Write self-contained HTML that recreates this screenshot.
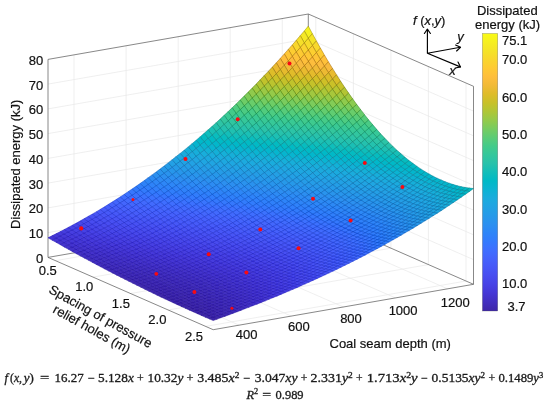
<!DOCTYPE html>
<html lang="en"><head><meta charset="utf-8"><title>Dissipated energy surface fit</title><style>html,body{margin:0;padding:0;background:#fff}svg{display:block}</style></head><body>
<svg width="550" height="403" viewBox="0 0 550 403">
<rect width="550" height="403" fill="#fff"/>
<defs><linearGradient id="cb" x1="0" y1="0" x2="0" y2="1"><stop offset="0" stop-color="#f9fb15"/><stop offset="0.03125" stop-color="#f6ef20"/><stop offset="0.0625" stop-color="#f5e327"/><stop offset="0.09375" stop-color="#f9d62d"/><stop offset="0.125" stop-color="#feca33"/><stop offset="0.1562" stop-color="#febe3c"/><stop offset="0.1875" stop-color="#f1ba37"/><stop offset="0.2188" stop-color="#debc29"/><stop offset="0.25" stop-color="#c8c129"/><stop offset="0.2812" stop-color="#afc636"/><stop offset="0.3125" stop-color="#94ca4a"/><stop offset="0.3438" stop-color="#77cc60"/><stop offset="0.375" stop-color="#5ccc76"/><stop offset="0.4062" stop-color="#43cb8a"/><stop offset="0.4375" stop-color="#34c79c"/><stop offset="0.4688" stop-color="#28c2ab"/><stop offset="0.5" stop-color="#12beb9"/><stop offset="0.5312" stop-color="#00b9c6"/><stop offset="0.5625" stop-color="#0cb3d3"/><stop offset="0.5938" stop-color="#1aacdd"/><stop offset="0.625" stop-color="#21a3e3"/><stop offset="0.6562" stop-color="#269ae9"/><stop offset="0.6875" stop-color="#2c90f0"/><stop offset="0.7188" stop-color="#2e85f8"/><stop offset="0.75" stop-color="#347afd"/><stop offset="0.7812" stop-color="#3f6eff"/><stop offset="0.8125" stop-color="#4562fc"/><stop offset="0.8438" stop-color="#4757f7"/><stop offset="0.875" stop-color="#484cef"/><stop offset="0.9062" stop-color="#4741e5"/><stop offset="0.9375" stop-color="#4536d5"/><stop offset="0.9688" stop-color="#422ebf"/><stop offset="1" stop-color="#3e26a8"/></linearGradient></defs>
<path d="M74,252.9L239.2,325.2M74,252.9L74,54.9M126.1,243.8L291.3,316.1M126.1,243.8L126.1,45.8M178.2,234.7L343.4,307M178.2,234.7L178.2,36.7M230.2,225.6L395.4,297.9M230.2,225.6L230.2,27.6M282.3,216.5L447.5,288.8M282.3,216.5L282.3,18.5M55.5,260.7L315.8,215.3M315.8,215.3L315.8,17.3M93.1,277.1L353.4,231.7M353.4,231.7L353.4,33.7M130.6,293.5L390.9,248.2M390.9,248.2L390.9,50.2M168.1,310L428.4,264.6M428.4,264.6L428.4,66.6M205.7,326.4L466,281M466,281L466,83M48,232.6L308.3,187.3M308.3,187.3L473.5,259.6M48,207.9L308.3,162.5M308.3,162.5L473.5,234.8M48,183.1L308.3,137.8M308.3,137.8L473.5,210.1M48,158.4L308.3,113M308.3,113L473.5,185.3M48,133.6L308.3,88.3M308.3,88.3L473.5,160.6M48,108.9L308.3,63.5M308.3,63.5L473.5,135.8M48,84.1L308.3,38.8M308.3,38.8L473.5,111.1" fill="none" stroke="#e8e8e8" stroke-width="0.7"/>
<path d="M48,59.4L48,257.4L213.2,329.7L473.5,284.3L473.5,86.3L308.3,14ZM48,257.4L308.3,212M308.3,212L473.5,284.3M308.3,212L308.3,14" fill="none" stroke="#606060" stroke-width="0.75" stroke-linejoin="round"/>
<g stroke-width="0.5" stroke-linejoin="round"><path d="M304.3,30.9L308.3,38.3L312.3,33.6L308.3,26.1Z" fill="#f6f11f" stroke="#948e00"/><path d="M308.3,38.3L312.4,45.5L316.4,40.9L312.3,33.6Z" fill="#f5e426" stroke="#968500"/><path d="M312.4,45.5L316.4,52.5L320.4,48.1L316.4,40.9Z" fill="#f8d82c" stroke="#9c7b00"/><path d="M316.4,52.5L320.4,59.4L324.4,55L320.4,48.1Z" fill="#fdcc32" stroke="#a37200"/><path d="M320.4,59.4L324.4,66.1L328.4,61.8L324.4,55Z" fill="#fec13a" stroke="#a66900"/><path d="M324.4,66.1L328.5,72.6L332.5,68.4L328.4,61.8Z" fill="#f7ba3d" stroke="#a26400"/><path d="M328.5,72.6L332.5,79L336.5,74.8L332.5,68.4Z" fill="#e9bb2f" stroke="#966800"/><path d="M332.5,79L336.5,85.2L340.5,81.1L336.5,74.8Z" fill="#d8be28" stroke="#876c00"/><path d="M336.5,85.2L340.6,91.2L344.6,87.2L340.5,81.1Z" fill="#c6c22a" stroke="#767200"/><path d="M340.6,91.2L344.6,97L348.6,93.1L344.6,87.2Z" fill="#b3c534" stroke="#647600"/><path d="M344.6,97L348.6,102.7L352.6,98.8L348.6,93.1Z" fill="#9fc941" stroke="#527b00"/><path d="M348.6,102.7L352.6,108.1L356.7,104.4L352.6,98.8Z" fill="#8ccb50" stroke="#3f7e04"/><path d="M352.6,108.1L356.7,113.4L360.7,109.7L356.7,104.4Z" fill="#79cc5f" stroke="#2e8114"/><path d="M356.7,113.4L360.7,118.6L364.7,114.9L360.7,109.7Z" fill="#67cd6c" stroke="#1d8323"/><path d="M360.7,118.6L364.7,123.5L368.7,120L364.7,114.9Z" fill="#57cc7a" stroke="#0f8432"/><path d="M364.7,123.5L368.8,128.3L372.8,124.8L368.7,120Z" fill="#49cb85" stroke="#03853f"/><path d="M368.8,128.3L372.8,132.9L376.8,129.5L372.8,124.8Z" fill="#3eca8f" stroke="#00854a"/><path d="M372.8,132.9L376.8,137.4L380.8,134L376.8,129.5Z" fill="#36c898" stroke="#008454"/><path d="M376.8,137.4L380.9,141.6L384.9,138.3L380.8,134Z" fill="#31c6a0" stroke="#00835d"/><path d="M380.9,141.6L384.9,145.7L388.9,142.4L384.9,138.3Z" fill="#2cc4a7" stroke="#008264"/><path d="M384.9,145.7L388.9,149.6L392.9,146.4L388.9,142.4Z" fill="#26c2ad" stroke="#00816b"/><path d="M388.9,149.6L392.9,153.4L396.9,150.2L392.9,146.4Z" fill="#1fc0b2" stroke="#008072"/><path d="M392.9,153.4L397,156.9L401,153.8L396.9,150.2Z" fill="#16bfb7" stroke="#008078"/><path d="M397,156.9L401,160.3L405,157.2L401,153.8Z" fill="#0ebdbb" stroke="#00807d"/><path d="M401,160.3L405,163.6L409,160.5L405,157.2Z" fill="#07bcbf" stroke="#008082"/><path d="M405,163.6L409.1,166.6L413.1,163.5L409,160.5Z" fill="#03bbc2" stroke="#007f87"/><path d="M409.1,166.6L413.1,169.5L417.1,166.4L413.1,163.5Z" fill="#01bac5" stroke="#007e8a"/><path d="M413.1,169.5L417.1,172.2L421.1,169.2L417.1,166.4Z" fill="#00b9c7" stroke="#007e8c"/><path d="M417.1,172.2L421.1,174.7L425.1,171.7L421.1,169.2Z" fill="#01b8c9" stroke="#007d8e"/><path d="M421.1,174.7L425.2,177L429.2,174.1L425.1,171.7Z" fill="#02b7cb" stroke="#007c90"/><path d="M425.2,177L429.2,179.2L433.2,176.3L429.2,174.1Z" fill="#02b7cc" stroke="#007c91"/><path d="M429.2,179.2L433.2,181.2L437.2,178.3L433.2,176.3Z" fill="#03b6cd" stroke="#007b92"/><path d="M433.2,181.2L437.3,183L441.3,180.1L437.2,178.3Z" fill="#04b6cd" stroke="#007b92"/><path d="M437.3,183L441.3,184.7L445.3,181.8L441.3,180.1Z" fill="#04b6cd" stroke="#007b92"/><path d="M441.3,184.7L445.3,186.2L449.3,183.3L445.3,181.8Z" fill="#03b6cd" stroke="#007b92"/><path d="M445.3,186.2L449.3,187.5L453.4,184.6L449.3,183.3Z" fill="#02b7cc" stroke="#007c91"/><path d="M449.3,187.5L453.4,188.6L457.4,185.8L453.4,184.6Z" fill="#01b7cb" stroke="#007c90"/><path d="M453.4,188.6L457.4,189.6L461.4,186.7L457.4,185.8Z" fill="#01b8c9" stroke="#007d8e"/><path d="M457.4,189.6L461.4,190.3L465.4,187.5L461.4,186.7Z" fill="#00b9c7" stroke="#007e8c"/><path d="M461.4,190.3L465.5,190.9L469.5,188.1L465.4,187.5Z" fill="#01bac5" stroke="#007f89"/><path d="M465.5,190.9L469.5,191.4L473.5,188.5L469.5,188.1Z" fill="#03bbc2" stroke="#007f86"/><path d="M300.3,35.6L304.3,42.9L308.3,38.3L304.3,30.9Z" fill="#f5e825" stroke="#958800"/><path d="M304.3,42.9L308.3,50L312.4,45.5L308.3,38.3Z" fill="#f7dc2a" stroke="#9a7e00"/><path d="M308.3,50L312.4,57L316.4,52.5L312.4,45.5Z" fill="#fccf30" stroke="#a17400"/><path d="M312.4,57L316.4,63.8L320.4,59.4L316.4,52.5Z" fill="#fec437" stroke="#a56b00"/><path d="M316.4,63.8L320.4,70.4L324.4,66.1L320.4,59.4Z" fill="#fbbb3e" stroke="#a56500"/><path d="M320.4,70.4L324.5,76.8L328.5,72.6L324.4,66.1Z" fill="#edba32" stroke="#996700"/><path d="M324.5,76.8L328.5,83.1L332.5,79L328.5,72.6Z" fill="#dcbd29" stroke="#8b6b00"/><path d="M328.5,83.1L332.5,89.2L336.5,85.2L332.5,79Z" fill="#cac128" stroke="#7a7000"/><path d="M332.5,89.2L336.6,95.1L340.6,91.2L336.5,85.2Z" fill="#b7c532" stroke="#687500"/><path d="M336.6,95.1L340.6,100.9L344.6,97L340.6,91.2Z" fill="#a3c83e" stroke="#557a00"/><path d="M340.6,100.9L344.6,106.4L348.6,102.7L344.6,97Z" fill="#8fcb4d" stroke="#437e01"/><path d="M344.6,106.4L348.6,111.9L352.6,108.1L348.6,102.7Z" fill="#7ccc5c" stroke="#308111"/><path d="M348.6,111.9L352.7,117.1L356.7,113.4L352.6,108.1Z" fill="#69cd6b" stroke="#1f8321"/><path d="M352.7,117.1L356.7,122.2L360.7,118.6L356.7,113.4Z" fill="#59cc78" stroke="#118430"/><path d="M356.7,122.2L360.7,127.1L364.7,123.5L360.7,118.6Z" fill="#4acb84" stroke="#04853e"/><path d="M360.7,127.1L364.8,131.8L368.8,128.3L364.7,123.5Z" fill="#3eca8f" stroke="#00854a"/><path d="M364.8,131.8L368.8,136.3L372.8,132.9L368.8,128.3Z" fill="#36c898" stroke="#008454"/><path d="M368.8,136.3L372.8,140.7L376.8,137.4L372.8,132.9Z" fill="#31c6a0" stroke="#00835d"/><path d="M372.8,140.7L376.8,144.9L380.9,141.6L376.8,137.4Z" fill="#2cc4a7" stroke="#008165"/><path d="M376.8,144.9L380.9,149L384.9,145.7L380.9,141.6Z" fill="#25c2ad" stroke="#00816c"/><path d="M380.9,149L384.9,152.8L388.9,149.6L384.9,145.7Z" fill="#1dc0b3" stroke="#008073"/><path d="M384.9,152.8L388.9,156.5L392.9,153.4L388.9,149.6Z" fill="#14beb8" stroke="#00807a"/><path d="M388.9,156.5L393,160.1L397,156.9L392.9,153.4Z" fill="#0abdbd" stroke="#008080"/><path d="M393,160.1L397,163.4L401,160.3L397,156.9Z" fill="#04bbc1" stroke="#007f85"/><path d="M397,163.4L401,166.6L405,163.6L401,160.3Z" fill="#01bac5" stroke="#007f89"/><path d="M401,166.6L405.1,169.6L409.1,166.6L405,163.6Z" fill="#00b9c8" stroke="#007e8d"/><path d="M405.1,169.6L409.1,172.5L413.1,169.5L409.1,166.6Z" fill="#01b7ca" stroke="#007c8f"/><path d="M409.1,172.5L413.1,175.1L417.1,172.2L413.1,169.5Z" fill="#03b6cd" stroke="#007b92"/><path d="M413.1,175.1L417.1,177.6L421.1,174.7L417.1,172.2Z" fill="#05b5cf" stroke="#007a93"/><path d="M417.1,177.6L421.2,179.9L425.2,177L421.1,174.7Z" fill="#07b5d0" stroke="#007995"/><path d="M421.2,179.9L425.2,182.1L429.2,179.2L425.2,177Z" fill="#09b4d1" stroke="#007996"/><path d="M425.2,182.1L429.2,184.1L433.2,181.2L429.2,179.2Z" fill="#0ab4d2" stroke="#007896"/><path d="M429.2,184.1L433.3,185.9L437.3,183L433.2,181.2Z" fill="#0bb4d2" stroke="#007896"/><path d="M433.3,185.9L437.3,187.5L441.3,184.7L437.3,183Z" fill="#0bb4d2" stroke="#007896"/><path d="M437.3,187.5L441.3,189L445.3,186.2L441.3,184.7Z" fill="#0ab4d2" stroke="#007896"/><path d="M441.3,189L445.3,190.3L449.3,187.5L445.3,186.2Z" fill="#09b4d1" stroke="#007995"/><path d="M445.3,190.3L449.4,191.4L453.4,188.6L449.3,187.5Z" fill="#07b5d0" stroke="#007a94"/><path d="M449.4,191.4L453.4,192.4L457.4,189.6L453.4,188.6Z" fill="#04b6ce" stroke="#007b93"/><path d="M453.4,192.4L457.4,193.1L461.4,190.3L457.4,189.6Z" fill="#02b7cc" stroke="#007c91"/><path d="M457.4,193.1L461.5,193.7L465.5,190.9L461.4,190.3Z" fill="#01b8ca" stroke="#007d8f"/><path d="M461.5,193.7L465.5,194.2L469.5,191.4L465.5,190.9Z" fill="#00b9c7" stroke="#007e8c"/><path d="M296.3,40.3L300.3,47.5L304.3,42.9L300.3,35.6Z" fill="#f6df29" stroke="#988100"/><path d="M300.3,47.5L304.3,54.5L308.3,50L304.3,42.9Z" fill="#fbd32f" stroke="#9f7700"/><path d="M304.3,54.5L308.4,61.4L312.4,57L308.3,50Z" fill="#fec735" stroke="#a46e00"/><path d="M308.4,61.4L312.4,68.1L316.4,63.8L312.4,57Z" fill="#fdbd3d" stroke="#a66600"/><path d="M312.4,68.1L316.4,74.6L320.4,70.4L316.4,63.8Z" fill="#f0ba36" stroke="#9c6600"/><path d="M316.4,74.6L320.5,80.9L324.5,76.8L320.4,70.4Z" fill="#e1bc2a" stroke="#8f6a00"/><path d="M320.5,80.9L324.5,87.1L328.5,83.1L324.5,76.8Z" fill="#cfc027" stroke="#7e6f00"/><path d="M324.5,87.1L328.5,93.1L332.5,89.2L328.5,83.1Z" fill="#bcc42f" stroke="#6c7400"/><path d="M328.5,93.1L332.5,99L336.6,95.1L332.5,89.2Z" fill="#a8c73b" stroke="#597900"/><path d="M332.5,99L336.6,104.7L340.6,100.9L336.6,95.1Z" fill="#93ca4a" stroke="#467d00"/><path d="M336.6,104.7L340.6,110.2L344.6,106.4L340.6,100.9Z" fill="#7fcc5a" stroke="#34800e"/><path d="M340.6,110.2L344.6,115.5L348.6,111.9L344.6,106.4Z" fill="#6ccd68" stroke="#22831e"/><path d="M344.6,115.5L348.7,120.7L352.7,117.1L348.6,111.9Z" fill="#5bcc76" stroke="#13842e"/><path d="M348.7,120.7L352.7,125.7L356.7,122.2L352.7,117.1Z" fill="#4ccb83" stroke="#05853c"/><path d="M352.7,125.7L356.7,130.5L360.7,127.1L356.7,122.2Z" fill="#3fca8e" stroke="#008549"/><path d="M356.7,130.5L360.8,135.2L364.8,131.8L360.7,127.1Z" fill="#37c898" stroke="#008454"/><path d="M360.8,135.2L364.8,139.7L368.8,136.3L364.8,131.8Z" fill="#31c6a0" stroke="#00835d"/><path d="M364.8,139.7L368.8,144L372.8,140.7L368.8,136.3Z" fill="#2bc3a7" stroke="#008165"/><path d="M368.8,144L372.8,148.2L376.8,144.9L372.8,140.7Z" fill="#24c2ae" stroke="#00816d"/><path d="M372.8,148.2L376.9,152.2L380.9,149L376.8,144.9Z" fill="#1bc0b4" stroke="#008074"/><path d="M376.9,152.2L380.9,156L384.9,152.8L380.9,149Z" fill="#11beb9" stroke="#00807b"/><path d="M380.9,156L384.9,159.7L388.9,156.5L384.9,152.8Z" fill="#08bcbe" stroke="#008082"/><path d="M384.9,159.7L389,163.2L393,160.1L388.9,156.5Z" fill="#02bbc3" stroke="#007f87"/><path d="M389,163.2L393,166.5L397,163.4L393,160.1Z" fill="#00b9c7" stroke="#007e8c"/><path d="M393,166.5L397,169.6L401,166.6L397,163.4Z" fill="#01b8ca" stroke="#007d8f"/><path d="M397,169.6L401,172.6L405.1,169.6L401,166.6Z" fill="#03b6cd" stroke="#007b92"/><path d="M401,172.6L405.1,175.4L409.1,172.5L405.1,169.6Z" fill="#07b5d0" stroke="#007a94"/><path d="M405.1,175.4L409.1,178L413.1,175.1L409.1,172.5Z" fill="#0ab4d2" stroke="#007896"/><path d="M409.1,178L413.1,180.5L417.1,177.6L413.1,175.1Z" fill="#0db3d3" stroke="#007798"/><path d="M413.1,180.5L417.2,182.8L421.2,179.9L417.1,177.6Z" fill="#0fb2d5" stroke="#007699"/><path d="M417.2,182.8L421.2,184.9L425.2,182.1L421.2,179.9Z" fill="#11b1d6" stroke="#00759a"/><path d="M421.2,184.9L425.2,186.9L429.2,184.1L425.2,182.1Z" fill="#12b1d6" stroke="#00759a"/><path d="M425.2,186.9L429.3,188.7L433.3,185.9L429.2,184.1Z" fill="#12b1d6" stroke="#00759a"/><path d="M429.3,188.7L433.3,190.3L437.3,187.5L433.3,185.9Z" fill="#12b1d6" stroke="#00759a"/><path d="M433.3,190.3L437.3,191.8L441.3,189L437.3,187.5Z" fill="#11b1d6" stroke="#00759a"/><path d="M437.3,191.8L441.3,193.1L445.3,190.3L441.3,189Z" fill="#10b2d5" stroke="#007699"/><path d="M441.3,193.1L445.4,194.2L449.4,191.4L445.3,190.3Z" fill="#0eb2d4" stroke="#007698"/><path d="M445.4,194.2L449.4,195.1L453.4,192.4L449.4,191.4Z" fill="#0cb3d3" stroke="#007897"/><path d="M449.4,195.1L453.4,195.9L457.4,193.1L453.4,192.4Z" fill="#08b4d1" stroke="#007995"/><path d="M453.4,195.9L457.5,196.5L461.5,193.7L457.4,193.1Z" fill="#05b6ce" stroke="#007a93"/><path d="M457.5,196.5L461.5,197L465.5,194.2L461.5,193.7Z" fill="#02b7cb" stroke="#007c90"/><path d="M292.3,44.9L296.3,52L300.3,47.5L296.3,40.3Z" fill="#f9d62d" stroke="#9d7a00"/><path d="M296.3,52L300.3,58.9L304.3,54.5L300.3,47.5Z" fill="#feca33" stroke="#a37000"/><path d="M300.3,58.9L304.4,65.7L308.4,61.4L304.3,54.5Z" fill="#febf3b" stroke="#a66800"/><path d="M304.4,65.7L308.4,72.3L312.4,68.1L308.4,61.4Z" fill="#f4ba3a" stroke="#9f6500"/><path d="M308.4,72.3L312.4,78.7L316.4,74.6L312.4,68.1Z" fill="#e5bb2c" stroke="#926900"/><path d="M312.4,78.7L316.5,85L320.5,80.9L316.4,74.6Z" fill="#d3bf27" stroke="#826e00"/><path d="M316.5,85L320.5,91.1L324.5,87.1L320.5,80.9Z" fill="#c0c32c" stroke="#717300"/><path d="M320.5,91.1L324.5,97.1L328.5,93.1L324.5,87.1Z" fill="#acc738" stroke="#5e7800"/><path d="M324.5,97.1L328.5,102.8L332.5,99L328.5,93.1Z" fill="#98ca47" stroke="#4a7c00"/><path d="M328.5,102.8L332.6,108.4L336.6,104.7L332.5,99Z" fill="#83cc57" stroke="#37800b"/><path d="M332.6,108.4L336.6,113.9L340.6,110.2L336.6,104.7Z" fill="#6fcd66" stroke="#25821b"/><path d="M336.6,113.9L340.6,119.2L344.6,115.5L340.6,110.2Z" fill="#5ecd74" stroke="#15842c"/><path d="M340.6,119.2L344.7,124.3L348.7,120.7L344.6,115.5Z" fill="#4ecc81" stroke="#07853b"/><path d="M344.7,124.3L348.7,129.2L352.7,125.7L348.7,120.7Z" fill="#40ca8d" stroke="#008548"/><path d="M348.7,129.2L352.7,134L356.7,130.5L352.7,125.7Z" fill="#37c897" stroke="#008453"/><path d="M352.7,134L356.7,138.6L360.8,135.2L356.7,130.5Z" fill="#31c6a0" stroke="#00835d"/><path d="M356.7,138.6L360.8,143L364.8,139.7L360.8,135.2Z" fill="#2bc3a7" stroke="#008165"/><path d="M360.8,143L364.8,147.3L368.8,144L364.8,139.7Z" fill="#24c1ae" stroke="#00816d"/><path d="M364.8,147.3L368.8,151.4L372.8,148.2L368.8,144Z" fill="#1ac0b5" stroke="#008075"/><path d="M368.8,151.4L372.9,155.4L376.9,152.2L372.8,148.2Z" fill="#10beba" stroke="#00807d"/><path d="M372.9,155.4L376.9,159.1L380.9,156L376.9,152.2Z" fill="#06bcbf" stroke="#008083"/><path d="M376.9,159.1L380.9,162.8L384.9,159.7L380.9,156Z" fill="#01bac4" stroke="#007f89"/><path d="M380.9,162.8L385,166.2L389,163.2L384.9,159.7Z" fill="#00b8c8" stroke="#007d8d"/><path d="M385,166.2L389,169.5L393,166.5L389,163.2Z" fill="#02b7cc" stroke="#007c91"/><path d="M389,169.5L393,172.6L397,169.6L393,166.5Z" fill="#06b5cf" stroke="#007a94"/><path d="M393,172.6L397,175.5L401,172.6L397,169.6Z" fill="#0bb4d2" stroke="#007896"/><path d="M397,175.5L401.1,178.3L405.1,175.4L401,172.6Z" fill="#0fb2d4" stroke="#007698"/><path d="M401.1,178.3L405.1,180.9L409.1,178L405.1,175.4Z" fill="#12b1d6" stroke="#00759a"/><path d="M405.1,180.9L409.1,183.4L413.1,180.5L409.1,178Z" fill="#14b0d8" stroke="#00749c"/><path d="M409.1,183.4L413.2,185.6L417.2,182.8L413.1,180.5Z" fill="#16afd9" stroke="#00739d"/><path d="M413.2,185.6L417.2,187.8L421.2,184.9L417.2,182.8Z" fill="#17afda" stroke="#00729d"/><path d="M417.2,187.8L421.2,189.7L425.2,186.9L421.2,184.9Z" fill="#17aeda" stroke="#00729e"/><path d="M421.2,189.7L425.2,191.5L429.3,188.7L425.2,186.9Z" fill="#17aeda" stroke="#00729e"/><path d="M425.2,191.5L429.3,193.1L433.3,190.3L429.3,188.7Z" fill="#17aeda" stroke="#00729e"/><path d="M429.3,193.1L433.3,194.5L437.3,191.8L433.3,190.3Z" fill="#17aeda" stroke="#00729e"/><path d="M433.3,194.5L437.3,195.8L441.3,193.1L437.3,191.8Z" fill="#16afd9" stroke="#00739d"/><path d="M437.3,195.8L441.4,196.9L445.4,194.2L441.3,193.1Z" fill="#15b0d8" stroke="#00739c"/><path d="M441.4,196.9L445.4,197.9L449.4,195.1L445.4,194.2Z" fill="#13b1d7" stroke="#00759b"/><path d="M445.4,197.9L449.4,198.6L453.4,195.9L449.4,195.1Z" fill="#10b2d5" stroke="#007699"/><path d="M449.4,198.6L453.5,199.3L457.5,196.5L453.4,195.9Z" fill="#0cb3d3" stroke="#007797"/><path d="M453.5,199.3L457.5,199.7L461.5,197L457.5,196.5Z" fill="#07b5d0" stroke="#007995"/><path d="M288.3,49.4L292.3,56.4L296.3,52L292.3,44.9Z" fill="#fdcd31" stroke="#a27300"/><path d="M292.3,56.4L296.3,63.3L300.3,58.9L296.3,52Z" fill="#fec239" stroke="#a66a00"/><path d="M296.3,63.3L300.4,70L304.4,65.7L300.3,58.9Z" fill="#f8ba3d" stroke="#a36400"/><path d="M300.4,70L304.4,76.5L308.4,72.3L304.4,65.7Z" fill="#e9bb2f" stroke="#966700"/><path d="M304.4,76.5L308.4,82.8L312.4,78.7L308.4,72.3Z" fill="#d8be28" stroke="#876d00"/><path d="M308.4,82.8L312.5,89L316.5,85L312.4,78.7Z" fill="#c5c22a" stroke="#757200"/><path d="M312.5,89L316.5,95.1L320.5,91.1L316.5,85Z" fill="#b1c635" stroke="#627700"/><path d="M316.5,95.1L320.5,100.9L324.5,97.1L320.5,91.1Z" fill="#9cc944" stroke="#4f7b00"/><path d="M320.5,100.9L324.5,106.6L328.5,102.8L324.5,97.1Z" fill="#87cb54" stroke="#3b7f07"/><path d="M324.5,106.6L328.6,112.2L332.6,108.4L328.5,102.8Z" fill="#73cd63" stroke="#288218"/><path d="M328.6,112.2L332.6,117.5L336.6,113.9L332.6,108.4Z" fill="#60cd72" stroke="#188429"/><path d="M332.6,117.5L336.6,122.7L340.6,119.2L336.6,113.9Z" fill="#50cc7f" stroke="#098538"/><path d="M336.6,122.7L340.7,127.8L344.7,124.3L340.6,119.2Z" fill="#42ca8b" stroke="#008546"/><path d="M340.7,127.8L344.7,132.7L348.7,129.2L344.7,124.3Z" fill="#38c896" stroke="#008452"/><path d="M344.7,132.7L348.7,137.4L352.7,134L348.7,129.2Z" fill="#32c69f" stroke="#00835c"/><path d="M348.7,137.4L352.7,141.9L356.7,138.6L352.7,134Z" fill="#2cc4a7" stroke="#008165"/><path d="M352.7,141.9L356.8,146.3L360.8,143L356.7,138.6Z" fill="#24c1ae" stroke="#00816d"/><path d="M356.8,146.3L360.8,150.5L364.8,147.3L360.8,143Z" fill="#1abfb5" stroke="#008076"/><path d="M360.8,150.5L364.8,154.6L368.8,151.4L364.8,147.3Z" fill="#0ebebb" stroke="#00807d"/><path d="M364.8,154.6L368.9,158.5L372.9,155.4L368.8,151.4Z" fill="#05bcc0" stroke="#008084"/><path d="M368.9,158.5L372.9,162.2L376.9,159.1L372.9,155.4Z" fill="#01bac5" stroke="#007e8a"/><path d="M372.9,162.2L376.9,165.8L380.9,162.8L376.9,159.1Z" fill="#01b8ca" stroke="#007d8f"/><path d="M376.9,165.8L381,169.2L385,166.2L380.9,162.8Z" fill="#04b6ce" stroke="#007b93"/><path d="M381,169.2L385,172.4L389,169.5L385,166.2Z" fill="#09b4d1" stroke="#007996"/><path d="M385,172.4L389,175.5L393,172.6L389,169.5Z" fill="#0eb2d4" stroke="#007698"/><path d="M389,175.5L393,178.4L397,175.5L393,172.6Z" fill="#12b1d7" stroke="#00759a"/><path d="M393,178.4L397.1,181.2L401.1,178.3L397,175.5Z" fill="#15afd9" stroke="#00739c"/><path d="M397.1,181.2L401.1,183.8L405.1,180.9L401.1,178.3Z" fill="#17aeda" stroke="#00729e"/><path d="M401.1,183.8L405.1,186.2L409.1,183.4L405.1,180.9Z" fill="#19addc" stroke="#00719f"/><path d="M405.1,186.2L409.2,188.4L413.2,185.6L409.1,183.4Z" fill="#1aacdd" stroke="#0070a0"/><path d="M409.2,188.4L413.2,190.5L417.2,187.8L413.2,185.6Z" fill="#1aacdd" stroke="#006fa1"/><path d="M413.2,190.5L417.2,192.5L421.2,189.7L417.2,187.8Z" fill="#1babde" stroke="#006fa1"/><path d="M417.2,192.5L421.2,194.2L425.2,191.5L421.2,189.7Z" fill="#1babde" stroke="#006fa2"/><path d="M421.2,194.2L425.3,195.8L429.3,193.1L425.2,191.5Z" fill="#1babde" stroke="#006fa2"/><path d="M425.3,195.8L429.3,197.3L433.3,194.5L429.3,193.1Z" fill="#1aacdd" stroke="#006fa1"/><path d="M429.3,197.3L433.3,198.5L437.3,195.8L433.3,194.5Z" fill="#1aacdd" stroke="#0070a0"/><path d="M433.3,198.5L437.4,199.6L441.4,196.9L437.3,195.8Z" fill="#19addc" stroke="#00719f"/><path d="M437.4,199.6L441.4,200.6L445.4,197.9L441.4,196.9Z" fill="#17aeda" stroke="#00729e"/><path d="M441.4,200.6L445.4,201.4L449.4,198.6L445.4,197.9Z" fill="#16afd9" stroke="#00739d"/><path d="M445.4,201.4L449.4,202L453.5,199.3L449.4,198.6Z" fill="#13b1d7" stroke="#00749b"/><path d="M449.4,202L453.5,202.4L457.5,199.7L453.5,199.3Z" fill="#0fb2d4" stroke="#007698"/><path d="M284.3,53.9L288.3,60.8L292.3,56.4L288.3,49.4Z" fill="#fec537" stroke="#a56c00"/><path d="M288.3,60.8L292.3,67.6L296.3,63.3L292.3,56.4Z" fill="#fcbb3e" stroke="#a56500"/><path d="M292.3,67.6L296.4,74.2L300.4,70L296.3,63.3Z" fill="#edba33" stroke="#9a6600"/><path d="M296.4,74.2L300.4,80.6L304.4,76.5L300.4,70Z" fill="#ddbd29" stroke="#8b6b00"/><path d="M300.4,80.6L304.4,86.9L308.4,82.8L304.4,76.5Z" fill="#cac128" stroke="#7a7100"/><path d="M304.4,86.9L308.4,93L312.5,89L308.4,82.8Z" fill="#b6c532" stroke="#677600"/><path d="M308.4,93L312.5,99L316.5,95.1L312.5,89Z" fill="#a1c840" stroke="#537a00"/><path d="M312.5,99L316.5,104.7L320.5,100.9L316.5,95.1Z" fill="#8ccb50" stroke="#3f7e04"/><path d="M316.5,104.7L320.5,110.4L324.5,106.6L320.5,100.9Z" fill="#77cc60" stroke="#2c8115"/><path d="M320.5,110.4L324.6,115.8L328.6,112.2L324.5,106.6Z" fill="#64cd6f" stroke="#1a8426"/><path d="M324.6,115.8L328.6,121.1L332.6,117.5L328.6,112.2Z" fill="#53cc7d" stroke="#0b8536"/><path d="M328.6,121.1L332.6,126.3L336.6,122.7L332.6,117.5Z" fill="#44cb8a" stroke="#008544"/><path d="M332.6,126.3L336.7,131.3L340.7,127.8L336.6,122.7Z" fill="#39c995" stroke="#008450"/><path d="M336.7,131.3L340.7,136.1L344.7,132.7L340.7,127.8Z" fill="#32c69e" stroke="#00835b"/><path d="M340.7,136.1L344.7,140.7L348.7,137.4L344.7,132.7Z" fill="#2cc4a7" stroke="#008264"/><path d="M344.7,140.7L348.7,145.2L352.7,141.9L348.7,137.4Z" fill="#24c1ae" stroke="#00816d"/><path d="M348.7,145.2L352.8,149.6L356.8,146.3L352.7,141.9Z" fill="#1abfb5" stroke="#008076"/><path d="M352.8,149.6L356.8,153.7L360.8,150.5L356.8,146.3Z" fill="#0ebdbb" stroke="#00807e"/><path d="M356.8,153.7L360.8,157.7L364.8,154.6L360.8,150.5Z" fill="#04bbc1" stroke="#007f85"/><path d="M360.8,157.7L364.9,161.6L368.9,158.5L364.8,154.6Z" fill="#00b9c6" stroke="#007e8b"/><path d="M364.9,161.6L368.9,165.3L372.9,162.2L368.9,158.5Z" fill="#01b7cb" stroke="#007c90"/><path d="M368.9,165.3L372.9,168.8L376.9,165.8L372.9,162.2Z" fill="#06b5cf" stroke="#007a94"/><path d="M372.9,168.8L376.9,172.2L381,169.2L376.9,165.8Z" fill="#0cb3d3" stroke="#007797"/><path d="M376.9,172.2L381,175.4L385,172.4L381,169.2Z" fill="#11b1d6" stroke="#00759a"/><path d="M381,175.4L385,178.4L389,175.5L385,172.4Z" fill="#15afd9" stroke="#00739c"/><path d="M385,178.4L389,181.3L393,178.4L389,175.5Z" fill="#18aedb" stroke="#00719e"/><path d="M389,181.3L393.1,184L397.1,181.2L393,178.4Z" fill="#1aacdc" stroke="#0070a0"/><path d="M393.1,184L397.1,186.6L401.1,183.8L397.1,181.2Z" fill="#1babde" stroke="#006fa2"/><path d="M397.1,186.6L401.1,189L405.1,186.2L401.1,183.8Z" fill="#1caadf" stroke="#006ea3"/><path d="M401.1,189L405.2,191.2L409.2,188.4L405.1,186.2Z" fill="#1da9e0" stroke="#006da4"/><path d="M405.2,191.2L409.2,193.3L413.2,190.5L409.2,188.4Z" fill="#1da8e0" stroke="#006da4"/><path d="M409.2,193.3L413.2,195.2L417.2,192.5L413.2,190.5Z" fill="#1da8e0" stroke="#006ca5"/><path d="M413.2,195.2L417.2,196.9L421.2,194.2L417.2,192.5Z" fill="#1da8e1" stroke="#006ca5"/><path d="M417.2,196.9L421.3,198.5L425.3,195.8L421.2,194.2Z" fill="#1da8e0" stroke="#006ca5"/><path d="M421.3,198.5L425.3,199.9L429.3,197.3L425.3,195.8Z" fill="#1da8e0" stroke="#006da4"/><path d="M425.3,199.9L429.3,201.2L433.3,198.5L429.3,197.3Z" fill="#1ca9e0" stroke="#006da4"/><path d="M429.3,201.2L433.4,202.3L437.4,199.6L433.3,198.5Z" fill="#1caadf" stroke="#006ea3"/><path d="M433.4,202.3L437.4,203.2L441.4,200.6L437.4,199.6Z" fill="#1babde" stroke="#006fa2"/><path d="M437.4,203.2L441.4,204L445.4,201.4L441.4,200.6Z" fill="#19acdc" stroke="#0070a0"/><path d="M441.4,204L445.4,204.6L449.4,202L445.4,201.4Z" fill="#18aedb" stroke="#00729e"/><path d="M445.4,204.6L449.5,205.1L453.5,202.4L449.4,202Z" fill="#15b0d8" stroke="#00739c"/><path d="M280.3,58.4L284.3,65.2L288.3,60.8L284.3,53.9Z" fill="#febe3c" stroke="#a76600"/><path d="M284.3,65.2L288.3,71.9L292.3,67.6L288.3,60.8Z" fill="#f1ba38" stroke="#9d6500"/><path d="M288.3,71.9L292.4,78.4L296.4,74.2L292.3,67.6Z" fill="#e1bc2a" stroke="#8f6a00"/><path d="M292.4,78.4L296.4,84.7L300.4,80.6L296.4,74.2Z" fill="#cfc027" stroke="#7e6f00"/><path d="M296.4,84.7L300.4,90.9L304.4,86.9L300.4,80.6Z" fill="#bbc42f" stroke="#6c7500"/><path d="M300.4,90.9L304.4,96.9L308.4,93L304.4,86.9Z" fill="#a6c83c" stroke="#587900"/><path d="M304.4,96.9L308.5,102.8L312.5,99L308.4,93Z" fill="#91ca4c" stroke="#447e00"/><path d="M308.5,102.8L312.5,108.5L316.5,104.7L312.5,99Z" fill="#7ccc5c" stroke="#308111"/><path d="M312.5,108.5L316.5,114.1L320.5,110.4L316.5,104.7Z" fill="#67cd6c" stroke="#1e8322"/><path d="M316.5,114.1L320.6,119.5L324.6,115.8L320.5,110.4Z" fill="#56cc7b" stroke="#0e8433"/><path d="M320.6,119.5L324.6,124.7L328.6,121.1L324.6,115.8Z" fill="#46cb88" stroke="#008542"/><path d="M324.6,124.7L328.6,129.8L332.6,126.3L328.6,121.1Z" fill="#3ac993" stroke="#00844f"/><path d="M328.6,129.8L332.6,134.7L336.7,131.3L332.6,126.3Z" fill="#33c69d" stroke="#00835a"/><path d="M332.6,134.7L336.7,139.4L340.7,136.1L336.7,131.3Z" fill="#2dc4a6" stroke="#008264"/><path d="M336.7,139.4L340.7,144L344.7,140.7L340.7,136.1Z" fill="#25c2ae" stroke="#00816d"/><path d="M340.7,144L344.7,148.5L348.7,145.2L344.7,140.7Z" fill="#1ac0b5" stroke="#008075"/><path d="M344.7,148.5L348.8,152.8L352.8,149.6L348.7,145.2Z" fill="#0ebdbb" stroke="#00807e"/><path d="M348.8,152.8L352.8,156.9L356.8,153.7L352.8,149.6Z" fill="#04bbc1" stroke="#007f85"/><path d="M352.8,156.9L356.8,160.8L360.8,157.7L356.8,153.7Z" fill="#00b9c7" stroke="#007e8c"/><path d="M356.8,160.8L360.9,164.6L364.9,161.6L360.8,157.7Z" fill="#02b7cc" stroke="#007c91"/><path d="M360.9,164.6L364.9,168.3L368.9,165.3L364.9,161.6Z" fill="#07b5d0" stroke="#007995"/><path d="M364.9,168.3L368.9,171.8L372.9,168.8L368.9,165.3Z" fill="#0eb2d4" stroke="#007798"/><path d="M368.9,171.8L372.9,175.1L376.9,172.2L372.9,168.8Z" fill="#13b0d7" stroke="#00749b"/><path d="M372.9,175.1L377,178.3L381,175.4L376.9,172.2Z" fill="#17aeda" stroke="#00729e"/><path d="M377,178.3L381,181.3L385,178.4L381,175.4Z" fill="#19acdc" stroke="#0070a0"/><path d="M381,181.3L385,184.1L389,181.3L385,178.4Z" fill="#1babde" stroke="#006fa2"/><path d="M385,184.1L389.1,186.8L393.1,184L389,181.3Z" fill="#1ca9e0" stroke="#006da4"/><path d="M389.1,186.8L393.1,189.3L397.1,186.6L393.1,184Z" fill="#1da8e1" stroke="#006ca5"/><path d="M393.1,189.3L397.1,191.7L401.1,189L397.1,186.6Z" fill="#1ea7e1" stroke="#006ba6"/><path d="M397.1,191.7L401.1,193.9L405.2,191.2L401.1,189Z" fill="#1fa6e2" stroke="#006aa6"/><path d="M401.1,193.9L405.2,196L409.2,193.3L405.2,191.2Z" fill="#20a5e2" stroke="#006aa7"/><path d="M405.2,196L409.2,197.9L413.2,195.2L409.2,193.3Z" fill="#20a5e2" stroke="#0069a7"/><path d="M409.2,197.9L413.2,199.6L417.2,196.9L413.2,195.2Z" fill="#20a5e3" stroke="#0069a7"/><path d="M413.2,199.6L417.3,201.2L421.3,198.5L417.2,196.9Z" fill="#20a5e2" stroke="#0069a7"/><path d="M417.3,201.2L421.3,202.6L425.3,199.9L421.3,198.5Z" fill="#1fa5e2" stroke="#006aa7"/><path d="M421.3,202.6L425.3,203.8L429.3,201.2L425.3,199.9Z" fill="#1fa6e2" stroke="#006aa6"/><path d="M425.3,203.8L429.4,204.9L433.4,202.3L429.3,201.2Z" fill="#1ea7e1" stroke="#006ba6"/><path d="M429.4,204.9L433.4,205.9L437.4,203.2L433.4,202.3Z" fill="#1da8e0" stroke="#006ca5"/><path d="M433.4,205.9L437.4,206.7L441.4,204L437.4,203.2Z" fill="#1ca9df" stroke="#006da3"/><path d="M437.4,206.7L441.4,207.3L445.4,204.6L441.4,204Z" fill="#1babde" stroke="#006fa2"/><path d="M441.4,207.3L445.5,207.7L449.5,205.1L445.4,204.6Z" fill="#19addc" stroke="#00719f"/><path d="M276.3,62.8L280.3,69.5L284.3,65.2L280.3,58.4Z" fill="#f5ba3b" stroke="#a06500"/><path d="M280.3,69.5L284.3,76.1L288.3,71.9L284.3,65.2Z" fill="#e6bb2d" stroke="#936800"/><path d="M284.3,76.1L288.4,82.5L292.4,78.4L288.3,71.9Z" fill="#d4bf27" stroke="#836e00"/><path d="M288.4,82.5L292.4,88.7L296.4,84.7L292.4,78.4Z" fill="#c0c32c" stroke="#717300"/><path d="M292.4,88.7L296.4,94.9L300.4,90.9L296.4,84.7Z" fill="#abc739" stroke="#5d7800"/><path d="M296.4,94.9L300.4,100.8L304.4,96.9L300.4,90.9Z" fill="#96ca48" stroke="#497d00"/><path d="M300.4,100.8L304.5,106.6L308.5,102.8L304.4,96.9Z" fill="#80cc59" stroke="#35800d"/><path d="M304.5,106.6L308.5,112.2L312.5,108.5L308.5,102.8Z" fill="#6bcd69" stroke="#21831f"/><path d="M308.5,112.2L312.5,117.7L316.5,114.1L312.5,108.5Z" fill="#59cc78" stroke="#118430"/><path d="M312.5,117.7L316.6,123L320.6,119.5L316.5,114.1Z" fill="#49cb85" stroke="#02853f"/><path d="M316.6,123L320.6,128.2L324.6,124.7L320.6,119.5Z" fill="#3cc991" stroke="#00854d"/><path d="M320.6,128.2L324.6,133.2L328.6,129.8L324.6,124.7Z" fill="#34c79c" stroke="#008358"/><path d="M324.6,133.2L328.6,138.1L332.6,134.7L328.6,129.8Z" fill="#2ec4a5" stroke="#008262"/><path d="M328.6,138.1L332.7,142.8L336.7,139.4L332.6,134.7Z" fill="#26c2ad" stroke="#00816c"/><path d="M332.7,142.8L336.7,147.3L340.7,144L336.7,139.4Z" fill="#1bc0b4" stroke="#008075"/><path d="M336.7,147.3L340.7,151.7L344.7,148.5L340.7,144Z" fill="#0ebdbb" stroke="#00807e"/><path d="M340.7,151.7L344.8,155.9L348.8,152.8L344.7,148.5Z" fill="#03bbc1" stroke="#007f86"/><path d="M344.8,155.9L348.8,160L352.8,156.9L348.8,152.8Z" fill="#00b9c7" stroke="#007e8c"/><path d="M348.8,160L352.8,163.9L356.8,160.8L352.8,156.9Z" fill="#02b7cc" stroke="#007c91"/><path d="M352.8,163.9L356.8,167.6L360.9,164.6L356.8,160.8Z" fill="#09b4d1" stroke="#007995"/><path d="M356.8,167.6L360.9,171.2L364.9,168.3L360.9,164.6Z" fill="#10b2d5" stroke="#007699"/><path d="M360.9,171.2L364.9,174.7L368.9,171.8L364.9,168.3Z" fill="#15b0d8" stroke="#00739c"/><path d="M364.9,174.7L368.9,178L372.9,175.1L368.9,171.8Z" fill="#18addb" stroke="#00719f"/><path d="M368.9,178L373,181.1L377,178.3L372.9,175.1Z" fill="#1babde" stroke="#006fa1"/><path d="M373,181.1L377,184.1L381,181.3L377,178.3Z" fill="#1ca9df" stroke="#006da4"/><path d="M377,184.1L381,186.9L385,184.1L381,181.3Z" fill="#1ea7e1" stroke="#006ca5"/><path d="M381,186.9L385.1,189.6L389.1,186.8L385,184.1Z" fill="#1fa6e2" stroke="#006aa6"/><path d="M385.1,189.6L389.1,192.1L393.1,189.3L389.1,186.8Z" fill="#20a4e3" stroke="#0069a7"/><path d="M389.1,192.1L393.1,194.4L397.1,191.7L393.1,189.3Z" fill="#21a3e3" stroke="#0068a8"/><path d="M393.1,194.4L397.1,196.6L401.1,193.9L397.1,191.7Z" fill="#22a2e4" stroke="#0067a9"/><path d="M397.1,196.6L401.2,198.6L405.2,196L401.1,193.9Z" fill="#22a2e4" stroke="#0067a9"/><path d="M401.2,198.6L405.2,200.5L409.2,197.9L405.2,196Z" fill="#22a1e4" stroke="#0067a9"/><path d="M405.2,200.5L409.2,202.2L413.2,199.6L409.2,197.9Z" fill="#22a1e4" stroke="#0066a9"/><path d="M409.2,202.2L413.3,203.8L417.3,201.2L413.2,199.6Z" fill="#22a2e4" stroke="#0067a9"/><path d="M413.3,203.8L417.3,205.2L421.3,202.6L417.3,201.2Z" fill="#22a2e4" stroke="#0067a9"/><path d="M417.3,205.2L421.3,206.5L425.3,203.8L421.3,202.6Z" fill="#21a3e4" stroke="#0068a8"/><path d="M421.3,206.5L425.3,207.6L429.4,204.9L425.3,203.8Z" fill="#21a4e3" stroke="#0068a8"/><path d="M425.3,207.6L429.4,208.5L433.4,205.9L429.4,204.9Z" fill="#20a5e2" stroke="#006aa7"/><path d="M429.4,208.5L433.4,209.3L437.4,206.7L433.4,205.9Z" fill="#1ea6e1" stroke="#006ba6"/><path d="M433.4,209.3L437.4,209.9L441.4,207.3L437.4,206.7Z" fill="#1da8e0" stroke="#006ca4"/><path d="M437.4,209.9L441.5,210.4L445.5,207.7L441.4,207.3Z" fill="#1caadf" stroke="#006ea3"/><path d="M272.3,67.1L276.3,73.7L280.3,69.5L276.3,62.8Z" fill="#eaba30" stroke="#976700"/><path d="M276.3,73.7L280.3,80.2L284.3,76.1L280.3,69.5Z" fill="#d9be28" stroke="#876c00"/><path d="M280.3,80.2L284.3,86.6L288.4,82.5L284.3,76.1Z" fill="#c5c22a" stroke="#767200"/><path d="M284.3,86.6L288.4,92.7L292.4,88.7L288.4,82.5Z" fill="#b1c635" stroke="#627700"/><path d="M288.4,92.7L292.4,98.8L296.4,94.9L292.4,88.7Z" fill="#9bc944" stroke="#4e7c00"/><path d="M292.4,98.8L296.4,104.6L300.4,100.8L296.4,94.9Z" fill="#85cb55" stroke="#397f09"/><path d="M296.4,104.6L300.5,110.3L304.5,106.6L300.4,100.8Z" fill="#70cd65" stroke="#26821b"/><path d="M300.5,110.3L304.5,115.9L308.5,112.2L304.5,106.6Z" fill="#5dcd75" stroke="#14842c"/><path d="M304.5,115.9L308.5,121.3L312.5,117.7L308.5,112.2Z" fill="#4ccb83" stroke="#05853c"/><path d="M308.5,121.3L312.6,126.6L316.6,123L312.5,117.7Z" fill="#3eca8f" stroke="#00854a"/><path d="M312.6,126.6L316.6,131.7L320.6,128.2L316.6,123Z" fill="#35c79a" stroke="#008457"/><path d="M316.6,131.7L320.6,136.6L324.6,133.2L320.6,128.2Z" fill="#2fc5a4" stroke="#008261"/><path d="M320.6,136.6L324.6,141.4L328.6,138.1L324.6,133.2Z" fill="#27c2ac" stroke="#00816b"/><path d="M324.6,141.4L328.7,146L332.7,142.8L328.6,138.1Z" fill="#1cc0b4" stroke="#008074"/><path d="M328.7,146L332.7,150.5L336.7,147.3L332.7,142.8Z" fill="#0fbebb" stroke="#00807d"/><path d="M332.7,150.5L336.7,154.8L340.7,151.7L336.7,147.3Z" fill="#04bbc1" stroke="#007f85"/><path d="M336.7,154.8L340.8,159L344.8,155.9L340.7,151.7Z" fill="#00b9c7" stroke="#007e8c"/><path d="M340.8,159L344.8,163L348.8,160L344.8,155.9Z" fill="#03b6cd" stroke="#007b92"/><path d="M344.8,163L348.8,166.9L352.8,163.9L348.8,160Z" fill="#0ab4d1" stroke="#007896"/><path d="M348.8,166.9L352.8,170.6L356.8,167.6L352.8,163.9Z" fill="#11b1d6" stroke="#00759a"/><path d="M352.8,170.6L356.9,174.2L360.9,171.2L356.8,167.6Z" fill="#16afd9" stroke="#00739d"/><path d="M356.9,174.2L360.9,177.6L364.9,174.7L360.9,171.2Z" fill="#19acdc" stroke="#0070a0"/><path d="M360.9,177.6L364.9,180.8L368.9,178L364.9,174.7Z" fill="#1caadf" stroke="#006ea3"/><path d="M364.9,180.8L369,183.9L373,181.1L368.9,178Z" fill="#1da8e1" stroke="#006ca5"/><path d="M369,183.9L373,186.9L377,184.1L373,181.1Z" fill="#1fa6e2" stroke="#006aa6"/><path d="M373,186.9L377,189.6L381,186.9L377,184.1Z" fill="#20a4e3" stroke="#0069a8"/><path d="M377,189.6L381,192.3L385.1,189.6L381,186.9Z" fill="#22a2e4" stroke="#0067a9"/><path d="M381,192.3L385.1,194.8L389.1,192.1L385.1,189.6Z" fill="#23a1e4" stroke="#0066a9"/><path d="M385.1,194.8L389.1,197.1L393.1,194.4L389.1,192.1Z" fill="#23a0e5" stroke="#0065aa"/><path d="M389.1,197.1L393.1,199.2L397.1,196.6L393.1,194.4Z" fill="#249fe5" stroke="#0065ab"/><path d="M393.1,199.2L397.2,201.3L401.2,198.6L397.1,196.6Z" fill="#249fe6" stroke="#0064ab"/><path d="M397.2,201.3L401.2,203.1L405.2,200.5L401.2,198.6Z" fill="#249ee6" stroke="#0064ab"/><path d="M401.2,203.1L405.2,204.8L409.2,202.2L405.2,200.5Z" fill="#249ee6" stroke="#0064ab"/><path d="M405.2,204.8L409.3,206.4L413.3,203.8L409.2,202.2Z" fill="#249ee6" stroke="#0064ab"/><path d="M409.3,206.4L413.3,207.8L417.3,205.2L413.3,203.8Z" fill="#249fe5" stroke="#0064ab"/><path d="M413.3,207.8L417.3,209L421.3,206.5L417.3,205.2Z" fill="#23a0e5" stroke="#0065aa"/><path d="M417.3,209L421.3,210.1L425.3,207.6L421.3,206.5Z" fill="#23a1e5" stroke="#0066aa"/><path d="M421.3,210.1L425.4,211.1L429.4,208.5L425.3,207.6Z" fill="#22a2e4" stroke="#0067a9"/><path d="M425.4,211.1L429.4,211.9L433.4,209.3L429.4,208.5Z" fill="#21a3e3" stroke="#0068a8"/><path d="M429.4,211.9L433.4,212.5L437.4,209.9L433.4,209.3Z" fill="#20a5e2" stroke="#006aa7"/><path d="M433.4,212.5L437.5,213L441.5,210.4L437.4,209.9Z" fill="#1ea7e1" stroke="#006ba5"/><path d="M268.3,71.4L272.3,77.9L276.3,73.7L272.3,67.1Z" fill="#debd29" stroke="#8c6b00"/><path d="M272.3,77.9L276.3,84.3L280.3,80.2L276.3,73.7Z" fill="#cbc128" stroke="#7a7000"/><path d="M276.3,84.3L280.3,90.6L284.3,86.6L280.3,80.2Z" fill="#b6c532" stroke="#677600"/><path d="M280.3,90.6L284.4,96.7L288.4,92.7L284.3,86.6Z" fill="#a0c840" stroke="#537b00"/><path d="M284.4,96.7L288.4,102.6L292.4,98.8L288.4,92.7Z" fill="#8bcb51" stroke="#3e7f05"/><path d="M288.4,102.6L292.4,108.4L296.4,104.6L292.4,98.8Z" fill="#75cc61" stroke="#2a8217"/><path d="M292.4,108.4L296.5,114L300.5,110.3L296.4,104.6Z" fill="#61cd72" stroke="#188429"/><path d="M296.5,114L300.5,119.5L304.5,115.9L300.5,110.3Z" fill="#4fcc80" stroke="#088539"/><path d="M300.5,119.5L304.5,124.9L308.5,121.3L304.5,115.9Z" fill="#40ca8d" stroke="#008548"/><path d="M304.5,124.9L308.5,130L312.6,126.6L308.5,121.3Z" fill="#36c898" stroke="#008455"/><path d="M308.5,130L312.6,135.1L316.6,131.7L312.6,126.6Z" fill="#30c5a2" stroke="#008260"/><path d="M312.6,135.1L316.6,140L320.6,136.6L316.6,131.7Z" fill="#28c2ab" stroke="#008169"/><path d="M316.6,140L320.6,144.7L324.6,141.4L320.6,136.6Z" fill="#1dc0b3" stroke="#008073"/><path d="M320.6,144.7L324.7,149.3L328.7,146L324.6,141.4Z" fill="#10beba" stroke="#00807c"/><path d="M324.7,149.3L328.7,153.7L332.7,150.5L328.7,146Z" fill="#04bbc1" stroke="#007f85"/><path d="M328.7,153.7L332.7,158L336.7,154.8L332.7,150.5Z" fill="#00b9c7" stroke="#007e8c"/><path d="M332.7,158L336.8,162.1L340.8,159L336.7,154.8Z" fill="#03b6cd" stroke="#007b92"/><path d="M336.8,162.1L340.8,166L344.8,163L340.8,159Z" fill="#0ab4d2" stroke="#007896"/><path d="M340.8,166L344.8,169.9L348.8,166.9L344.8,163Z" fill="#12b1d6" stroke="#00759a"/><path d="M344.8,169.9L348.8,173.5L352.8,170.6L348.8,166.9Z" fill="#17aeda" stroke="#00729e"/><path d="M348.8,173.5L352.9,177L356.9,174.2L352.8,170.6Z" fill="#1aacdd" stroke="#006fa1"/><path d="M352.9,177L356.9,180.4L360.9,177.6L356.9,174.2Z" fill="#1ca9e0" stroke="#006da4"/><path d="M356.9,180.4L360.9,183.6L364.9,180.8L360.9,177.6Z" fill="#1ea7e1" stroke="#006ba6"/><path d="M360.9,183.6L365,186.7L369,183.9L364.9,180.8Z" fill="#20a4e3" stroke="#0069a7"/><path d="M365,186.7L369,189.6L373,186.9L369,183.9Z" fill="#22a2e4" stroke="#0067a9"/><path d="M369,189.6L373,192.3L377,189.6L373,186.9Z" fill="#23a1e5" stroke="#0066aa"/><path d="M373,192.3L377,195L381,192.3L377,189.6Z" fill="#249fe5" stroke="#0064ab"/><path d="M377,195L381.1,197.4L385.1,194.8L381,192.3Z" fill="#249ee6" stroke="#0063ac"/><path d="M381.1,197.4L385.1,199.7L389.1,197.1L385.1,194.8Z" fill="#259de7" stroke="#0062ac"/><path d="M385.1,199.7L389.1,201.9L393.1,199.2L389.1,197.1Z" fill="#259ce7" stroke="#0062ad"/><path d="M389.1,201.9L393.2,203.9L397.2,201.3L393.1,199.2Z" fill="#259be8" stroke="#0061ae"/><path d="M393.2,203.9L397.2,205.7L401.2,203.1L397.2,201.3Z" fill="#259be8" stroke="#0061ae"/><path d="M397.2,205.7L401.2,207.4L405.2,204.8L401.2,203.1Z" fill="#259be8" stroke="#0061ae"/><path d="M401.2,207.4L405.2,209L409.3,206.4L405.2,204.8Z" fill="#259be8" stroke="#0061ae"/><path d="M405.2,209L409.3,210.3L413.3,207.8L409.3,206.4Z" fill="#259ce7" stroke="#0062ad"/><path d="M409.3,210.3L413.3,211.6L417.3,209L413.3,207.8Z" fill="#259ce7" stroke="#0062ad"/><path d="M413.3,211.6L417.3,212.7L421.3,210.1L417.3,209Z" fill="#249de6" stroke="#0063ac"/><path d="M417.3,212.7L421.4,213.6L425.4,211.1L421.3,210.1Z" fill="#249fe5" stroke="#0064ab"/><path d="M421.4,213.6L425.4,214.4L429.4,211.9L425.4,211.1Z" fill="#23a0e5" stroke="#0065aa"/><path d="M425.4,214.4L429.4,215L433.4,212.5L429.4,211.9Z" fill="#22a2e4" stroke="#0067a9"/><path d="M429.4,215L433.5,215.5L437.5,213L433.4,212.5Z" fill="#20a4e3" stroke="#0069a8"/><path d="M264.2,75.6L268.3,82.1L272.3,77.9L268.3,71.4Z" fill="#d0c027" stroke="#7f6f00"/><path d="M268.3,82.1L272.3,88.4L276.3,84.3L272.3,77.9Z" fill="#bbc42f" stroke="#6c7400"/><path d="M272.3,88.4L276.3,94.6L280.3,90.6L276.3,84.3Z" fill="#a6c83c" stroke="#587900"/><path d="M276.3,94.6L280.4,100.6L284.4,96.7L280.3,90.6Z" fill="#90ca4d" stroke="#437e00"/><path d="M280.4,100.6L284.4,106.4L288.4,102.6L284.4,96.7Z" fill="#7acc5e" stroke="#2f8113"/><path d="M284.4,106.4L288.4,112.1L292.4,108.4L288.4,102.6Z" fill="#65cd6e" stroke="#1c8325"/><path d="M288.4,112.1L292.5,117.7L296.5,114L292.4,108.4Z" fill="#53cc7d" stroke="#0c8436"/><path d="M292.5,117.7L296.5,123.1L300.5,119.5L296.5,114Z" fill="#43ca8a" stroke="#008545"/><path d="M296.5,123.1L300.5,128.4L304.5,124.9L300.5,119.5Z" fill="#38c896" stroke="#008452"/><path d="M300.5,128.4L304.5,133.5L308.5,130L304.5,124.9Z" fill="#31c5a1" stroke="#00835e"/><path d="M304.5,133.5L308.6,138.4L312.6,135.1L308.5,130Z" fill="#29c3aa" stroke="#008168"/><path d="M308.6,138.4L312.6,143.3L316.6,140L312.6,135.1Z" fill="#1fc0b2" stroke="#008072"/><path d="M312.6,143.3L316.6,147.9L320.6,144.7L316.6,140Z" fill="#12beb9" stroke="#00807b"/><path d="M316.6,147.9L320.7,152.4L324.7,149.3L320.6,144.7Z" fill="#05bcc0" stroke="#008084"/><path d="M320.7,152.4L324.7,156.8L328.7,153.7L324.7,149.3Z" fill="#00b9c7" stroke="#007e8c"/><path d="M324.7,156.8L328.7,161L332.7,158L328.7,153.7Z" fill="#03b6cd" stroke="#007b92"/><path d="M328.7,161L332.7,165.1L336.8,162.1L332.7,158Z" fill="#0bb4d2" stroke="#007896"/><path d="M332.7,165.1L336.8,169L340.8,166L336.8,162.1Z" fill="#12b1d7" stroke="#00759a"/><path d="M336.8,169L340.8,172.8L344.8,169.9L340.8,166Z" fill="#17aeda" stroke="#00729e"/><path d="M340.8,172.8L344.8,176.4L348.8,173.5L344.8,169.9Z" fill="#1babde" stroke="#006fa1"/><path d="M344.8,176.4L348.9,179.9L352.9,177L348.8,173.5Z" fill="#1da8e0" stroke="#006da4"/><path d="M348.9,179.9L352.9,183.2L356.9,180.4L352.9,177Z" fill="#1fa6e2" stroke="#006aa6"/><path d="M352.9,183.2L356.9,186.4L360.9,183.6L356.9,180.4Z" fill="#21a3e3" stroke="#0068a8"/><path d="M356.9,186.4L361,189.4L365,186.7L360.9,183.6Z" fill="#23a1e4" stroke="#0066a9"/><path d="M361,189.4L365,192.3L369,189.6L365,186.7Z" fill="#249fe5" stroke="#0064ab"/><path d="M365,192.3L369,195L373,192.3L369,189.6Z" fill="#259de6" stroke="#0063ac"/><path d="M369,195L373,197.6L377,195L373,192.3Z" fill="#259ce7" stroke="#0062ad"/><path d="M373,197.6L377.1,200L381.1,197.4L377,195Z" fill="#269ae8" stroke="#0061ae"/><path d="M377.1,200L381.1,202.3L385.1,199.7L381.1,197.4Z" fill="#2699e9" stroke="#0060af"/><path d="M381.1,202.3L385.1,204.4L389.1,201.9L385.1,199.7Z" fill="#2699e9" stroke="#005fb0"/><path d="M385.1,204.4L389.2,206.4L393.2,203.9L389.1,201.9Z" fill="#2698ea" stroke="#005fb1"/><path d="M389.2,206.4L393.2,208.3L397.2,205.7L393.2,203.9Z" fill="#2798ea" stroke="#005fb1"/><path d="M393.2,208.3L397.2,209.9L401.2,207.4L397.2,205.7Z" fill="#2798ea" stroke="#005fb1"/><path d="M397.2,209.9L401.2,211.5L405.2,209L401.2,207.4Z" fill="#2698ea" stroke="#005fb1"/><path d="M401.2,211.5L405.3,212.9L409.3,210.3L405.2,209Z" fill="#2699e9" stroke="#005fb0"/><path d="M405.3,212.9L409.3,214.1L413.3,211.6L409.3,210.3Z" fill="#2699e9" stroke="#0060af"/><path d="M409.3,214.1L413.3,215.2L417.3,212.7L413.3,211.6Z" fill="#269ae8" stroke="#0061ae"/><path d="M413.3,215.2L417.4,216.1L421.4,213.6L417.3,212.7Z" fill="#259ce7" stroke="#0062ad"/><path d="M417.4,216.1L421.4,216.9L425.4,214.4L421.4,213.6Z" fill="#259de6" stroke="#0063ac"/><path d="M421.4,216.9L425.4,217.6L429.4,215L425.4,214.4Z" fill="#249fe5" stroke="#0064ab"/><path d="M425.4,217.6L429.4,218.1L433.5,215.5L429.4,215Z" fill="#23a1e4" stroke="#0066a9"/><path d="M260.2,79.8L264.3,86.2L268.3,82.1L264.2,75.6Z" fill="#c1c32c" stroke="#717300"/><path d="M264.3,86.2L268.3,92.4L272.3,88.4L268.3,82.1Z" fill="#abc739" stroke="#5d7800"/><path d="M268.3,92.4L272.3,98.5L276.3,94.6L272.3,88.4Z" fill="#95ca49" stroke="#487d00"/><path d="M272.3,98.5L276.4,104.4L280.4,100.6L276.3,94.6Z" fill="#7fcc5a" stroke="#34800e"/><path d="M276.4,104.4L280.4,110.2L284.4,106.4L280.4,100.6Z" fill="#6acd6a" stroke="#208320"/><path d="M280.4,110.2L284.4,115.8L288.4,112.1L284.4,106.4Z" fill="#57cc7a" stroke="#0f8432"/><path d="M284.4,115.8L288.4,121.3L292.5,117.7L288.4,112.1Z" fill="#46cb88" stroke="#008542"/><path d="M288.4,121.3L292.5,126.6L296.5,123.1L292.5,117.7Z" fill="#39c994" stroke="#008450"/><path d="M292.5,126.6L296.5,131.8L300.5,128.4L296.5,123.1Z" fill="#32c69f" stroke="#00835c"/><path d="M296.5,131.8L300.5,136.9L304.5,133.5L300.5,128.4Z" fill="#2bc3a8" stroke="#008166"/><path d="M300.5,136.9L304.6,141.8L308.6,138.4L304.5,133.5Z" fill="#21c1b1" stroke="#008070"/><path d="M304.6,141.8L308.6,146.5L312.6,143.3L308.6,138.4Z" fill="#13beb8" stroke="#00807a"/><path d="M308.6,146.5L312.6,151.1L316.6,147.9L312.6,143.3Z" fill="#06bcc0" stroke="#008083"/><path d="M312.6,151.1L316.7,155.6L320.7,152.4L316.6,147.9Z" fill="#00b9c6" stroke="#007e8b"/><path d="M316.7,155.6L320.7,159.9L324.7,156.8L320.7,152.4Z" fill="#03b7cc" stroke="#007b91"/><path d="M320.7,159.9L324.7,164.1L328.7,161L324.7,156.8Z" fill="#0ab4d2" stroke="#007896"/><path d="M324.7,164.1L328.7,168.1L332.7,165.1L328.7,161Z" fill="#13b1d7" stroke="#00759a"/><path d="M328.7,168.1L332.8,172L336.8,169L332.7,165.1Z" fill="#18aedb" stroke="#00719e"/><path d="M332.8,172L336.8,175.7L340.8,172.8L336.8,169Z" fill="#1babde" stroke="#006fa2"/><path d="M336.8,175.7L340.8,179.3L344.8,176.4L340.8,172.8Z" fill="#1da8e1" stroke="#006ca5"/><path d="M340.8,179.3L344.9,182.7L348.9,179.9L344.8,176.4Z" fill="#20a5e2" stroke="#006aa7"/><path d="M344.9,182.7L348.9,186L352.9,183.2L348.9,179.9Z" fill="#22a2e4" stroke="#0067a9"/><path d="M348.9,186L352.9,189.1L356.9,186.4L352.9,183.2Z" fill="#23a0e5" stroke="#0065aa"/><path d="M352.9,189.1L356.9,192.1L361,189.4L356.9,186.4Z" fill="#249ee6" stroke="#0063ac"/><path d="M356.9,192.1L361,195L365,192.3L361,189.4Z" fill="#259ce7" stroke="#0062ad"/><path d="M361,195L365,197.7L369,195L365,192.3Z" fill="#269ae9" stroke="#0060af"/><path d="M365,197.7L369,200.2L373,197.6L369,195Z" fill="#2698ea" stroke="#005fb0"/><path d="M369,200.2L373.1,202.6L377.1,200L373,197.6Z" fill="#2797eb" stroke="#005eb1"/><path d="M373.1,202.6L377.1,204.9L381.1,202.3L377.1,200Z" fill="#2896eb" stroke="#005db2"/><path d="M377.1,204.9L381.1,207L385.1,204.4L381.1,202.3Z" fill="#2895ec" stroke="#005cb3"/><path d="M381.1,207L385.2,209L389.2,206.4L385.1,204.4Z" fill="#2895ec" stroke="#005cb3"/><path d="M385.2,209L389.2,210.8L393.2,208.3L389.2,206.4Z" fill="#2995ec" stroke="#005cb4"/><path d="M389.2,210.8L393.2,212.4L397.2,209.9L393.2,208.3Z" fill="#2995ec" stroke="#005cb4"/><path d="M393.2,212.4L397.2,214L401.2,211.5L397.2,209.9Z" fill="#2895ec" stroke="#005cb3"/><path d="M397.2,214L401.3,215.4L405.3,212.9L401.2,211.5Z" fill="#2895ec" stroke="#005cb3"/><path d="M401.3,215.4L405.3,216.6L409.3,214.1L405.3,212.9Z" fill="#2796eb" stroke="#005db2"/><path d="M405.3,216.6L409.3,217.7L413.3,215.2L409.3,214.1Z" fill="#2797ea" stroke="#005eb1"/><path d="M409.3,217.7L413.4,218.6L417.4,216.1L413.3,215.2Z" fill="#2699e9" stroke="#005fb0"/><path d="M413.4,218.6L417.4,219.4L421.4,216.9L417.4,216.1Z" fill="#269ae8" stroke="#0060af"/><path d="M417.4,219.4L421.4,220.1L425.4,217.6L421.4,216.9Z" fill="#259ce7" stroke="#0062ad"/><path d="M421.4,220.1L425.4,220.6L429.4,218.1L425.4,217.6Z" fill="#249ee6" stroke="#0063ac"/><path d="M256.2,84L260.3,90.2L264.3,86.2L260.2,79.8Z" fill="#b1c635" stroke="#627700"/><path d="M260.3,90.2L264.3,96.4L268.3,92.4L264.3,86.2Z" fill="#9bc945" stroke="#4d7c00"/><path d="M264.3,96.4L268.3,102.4L272.3,98.5L268.3,92.4Z" fill="#85cc56" stroke="#39800a"/><path d="M268.3,102.4L272.4,108.2L276.4,104.4L272.3,98.5Z" fill="#6ecd66" stroke="#24831c"/><path d="M272.4,108.2L276.4,113.9L280.4,110.2L276.4,104.4Z" fill="#5bcc76" stroke="#13842e"/><path d="M276.4,113.9L280.4,119.4L284.4,115.8L280.4,110.2Z" fill="#49cb85" stroke="#03853e"/><path d="M280.4,119.4L284.4,124.9L288.4,121.3L284.4,115.8Z" fill="#3bc992" stroke="#00854d"/><path d="M284.4,124.9L288.5,130.1L292.5,126.6L288.4,121.3Z" fill="#33c79d" stroke="#008359"/><path d="M288.5,130.1L292.5,135.2L296.5,131.8L292.5,126.6Z" fill="#2cc4a7" stroke="#008264"/><path d="M292.5,135.2L296.5,140.2L300.5,136.9L296.5,131.8Z" fill="#23c1af" stroke="#00806e"/><path d="M296.5,140.2L300.6,145L304.6,141.8L300.5,136.9Z" fill="#16bfb7" stroke="#008079"/><path d="M300.6,145L304.6,149.7L308.6,146.5L304.6,141.8Z" fill="#07bcbf" stroke="#008082"/><path d="M304.6,149.7L308.6,154.3L312.6,151.1L308.6,146.5Z" fill="#00bac6" stroke="#007e8a"/><path d="M308.6,154.3L312.6,158.7L316.7,155.6L312.6,151.1Z" fill="#02b7cc" stroke="#007c91"/><path d="M312.6,158.7L316.7,162.9L320.7,159.9L316.7,155.6Z" fill="#0ab4d2" stroke="#007896"/><path d="M316.7,162.9L320.7,167.1L324.7,164.1L320.7,159.9Z" fill="#13b1d7" stroke="#00759a"/><path d="M320.7,167.1L324.7,171L328.7,168.1L324.7,164.1Z" fill="#18aedb" stroke="#00719f"/><path d="M324.7,171L328.8,174.8L332.8,172L328.7,168.1Z" fill="#1baade" stroke="#006ea2"/><path d="M328.8,174.8L332.8,178.5L336.8,175.7L332.8,172Z" fill="#1ea7e1" stroke="#006ca5"/><path d="M332.8,178.5L336.8,182.1L340.8,179.3L336.8,175.7Z" fill="#20a4e3" stroke="#0069a7"/><path d="M336.8,182.1L340.9,185.5L344.9,182.7L340.8,179.3Z" fill="#22a1e4" stroke="#0066a9"/><path d="M340.9,185.5L344.9,188.7L348.9,186L344.9,182.7Z" fill="#249fe5" stroke="#0064ab"/><path d="M344.9,188.7L348.9,191.8L352.9,189.1L348.9,186Z" fill="#259ce7" stroke="#0062ad"/><path d="M348.9,191.8L352.9,194.8L356.9,192.1L352.9,189.1Z" fill="#269ae8" stroke="#0061af"/><path d="M352.9,194.8L357,197.6L361,195L356.9,192.1Z" fill="#2698ea" stroke="#005fb0"/><path d="M357,197.6L361,200.2L365,197.7L361,195Z" fill="#2797eb" stroke="#005db2"/><path d="M361,200.2L365,202.8L369,200.2L365,197.7Z" fill="#2895ec" stroke="#005cb3"/><path d="M365,202.8L369.1,205.2L373.1,202.6L369,200.2Z" fill="#2994ed" stroke="#005bb4"/><path d="M369.1,205.2L373.1,207.4L377.1,204.9L373.1,202.6Z" fill="#2a93ee" stroke="#005ab5"/><path d="M373.1,207.4L377.1,209.5L381.1,207L377.1,204.9Z" fill="#2b92ee" stroke="#0059b6"/><path d="M377.1,209.5L381.1,211.4L385.2,209L381.1,207Z" fill="#2b91ef" stroke="#0059b6"/><path d="M381.1,211.4L385.2,213.3L389.2,210.8L385.2,209Z" fill="#2b91ef" stroke="#0059b6"/><path d="M385.2,213.3L389.2,214.9L393.2,212.4L389.2,210.8Z" fill="#2b91ef" stroke="#0059b6"/><path d="M389.2,214.9L393.2,216.4L397.2,214L393.2,212.4Z" fill="#2b92ef" stroke="#0059b6"/><path d="M393.2,216.4L397.3,217.8L401.3,215.4L397.2,214Z" fill="#2a92ee" stroke="#005ab6"/><path d="M397.3,217.8L401.3,219L405.3,216.6L401.3,215.4Z" fill="#2a93ee" stroke="#005ab5"/><path d="M401.3,219L405.3,220.1L409.3,217.7L405.3,216.6Z" fill="#2994ed" stroke="#005bb4"/><path d="M405.3,220.1L409.4,221.1L413.4,218.6L409.3,217.7Z" fill="#2895ec" stroke="#005db3"/><path d="M409.4,221.1L413.4,221.9L417.4,219.4L413.4,218.6Z" fill="#2797eb" stroke="#005eb1"/><path d="M413.4,221.9L417.4,222.5L421.4,220.1L417.4,219.4Z" fill="#2699e9" stroke="#005fb0"/><path d="M417.4,222.5L421.4,223L425.4,220.6L421.4,220.1Z" fill="#259be8" stroke="#0061ae"/><path d="M252.2,88.1L256.3,94.2L260.3,90.2L256.2,84Z" fill="#a0c840" stroke="#537b00"/><path d="M256.3,94.2L260.3,100.3L264.3,96.4L260.3,90.2Z" fill="#8acb52" stroke="#3e7f05"/><path d="M260.3,100.3L264.3,106.2L268.3,102.4L264.3,96.4Z" fill="#74cd62" stroke="#298218"/><path d="M264.3,106.2L268.4,111.9L272.4,108.2L268.3,102.4Z" fill="#5fcd73" stroke="#17842a"/><path d="M268.4,111.9L272.4,117.6L276.4,113.9L272.4,108.2Z" fill="#4dcc82" stroke="#07853b"/><path d="M272.4,117.6L276.4,123L280.4,119.4L276.4,113.9Z" fill="#3eca8f" stroke="#00854a"/><path d="M276.4,123L280.4,128.4L284.4,124.9L280.4,119.4Z" fill="#35c79b" stroke="#008457"/><path d="M280.4,128.4L284.5,133.6L288.5,130.1L284.4,124.9Z" fill="#2ec4a5" stroke="#008262"/><path d="M284.5,133.6L288.5,138.6L292.5,135.2L288.5,130.1Z" fill="#25c2ae" stroke="#00816d"/><path d="M288.5,138.6L292.5,143.5L296.5,140.2L292.5,135.2Z" fill="#18bfb6" stroke="#008077"/><path d="M292.5,143.5L296.6,148.3L300.6,145L296.5,140.2Z" fill="#09bdbe" stroke="#008081"/><path d="M296.6,148.3L300.6,152.9L304.6,149.7L300.6,145Z" fill="#01bac5" stroke="#007f89"/><path d="M300.6,152.9L304.6,157.4L308.6,154.3L304.6,149.7Z" fill="#02b7cb" stroke="#007c90"/><path d="M304.6,157.4L308.6,161.7L312.6,158.7L308.6,154.3Z" fill="#09b4d1" stroke="#007896"/><path d="M308.6,161.7L312.7,165.9L316.7,162.9L312.6,158.7Z" fill="#12b1d6" stroke="#00759a"/><path d="M312.7,165.9L316.7,170L320.7,167.1L316.7,162.9Z" fill="#18aedb" stroke="#00719f"/><path d="M316.7,170L320.7,173.9L324.7,171L320.7,167.1Z" fill="#1baade" stroke="#006ea2"/><path d="M320.7,173.9L324.8,177.7L328.8,174.8L324.7,171Z" fill="#1ea7e1" stroke="#006ba5"/><path d="M324.8,177.7L328.8,181.3L332.8,178.5L328.8,174.8Z" fill="#20a4e3" stroke="#0069a8"/><path d="M328.8,181.3L332.8,184.8L336.8,182.1L332.8,178.5Z" fill="#23a1e4" stroke="#0066aa"/><path d="M332.8,184.8L336.9,188.2L340.9,185.5L336.8,182.1Z" fill="#249ee6" stroke="#0064ab"/><path d="M336.9,188.2L340.9,191.4L344.9,188.7L340.9,185.5Z" fill="#259be7" stroke="#0061ae"/><path d="M340.9,191.4L344.9,194.5L348.9,191.8L344.9,188.7Z" fill="#2699e9" stroke="#0060b0"/><path d="M344.9,194.5L348.9,197.4L352.9,194.8L348.9,191.8Z" fill="#2797eb" stroke="#005eb2"/><path d="M348.9,197.4L353,200.2L357,197.6L352.9,194.8Z" fill="#2895ec" stroke="#005cb3"/><path d="M353,200.2L357,202.8L361,200.2L357,197.6Z" fill="#2a93ed" stroke="#005ab5"/><path d="M357,202.8L361,205.3L365,202.8L361,200.2Z" fill="#2b92ef" stroke="#0059b6"/><path d="M361,205.3L365.1,207.7L369.1,205.2L365,202.8Z" fill="#2c90ef" stroke="#0058b7"/><path d="M365.1,207.7L369.1,209.9L373.1,207.4L369.1,205.2Z" fill="#2c8ff0" stroke="#0057b8"/><path d="M369.1,209.9L373.1,212L377.1,209.5L373.1,207.4Z" fill="#2c8ff1" stroke="#0057b9"/><path d="M373.1,212L377.1,213.9L381.1,211.4L377.1,209.5Z" fill="#2d8ef1" stroke="#0056b9"/><path d="M377.1,213.9L381.2,215.7L385.2,213.3L381.1,211.4Z" fill="#2d8ef1" stroke="#0056b9"/><path d="M381.2,215.7L385.2,217.4L389.2,214.9L385.2,213.3Z" fill="#2d8ef1" stroke="#0056b9"/><path d="M385.2,217.4L389.2,218.9L393.2,216.4L389.2,214.9Z" fill="#2d8ef1" stroke="#0056b9"/><path d="M389.2,218.9L393.3,220.2L397.3,217.8L393.2,216.4Z" fill="#2c8ff0" stroke="#0057b8"/><path d="M393.3,220.2L397.3,221.5L401.3,219L397.3,217.8Z" fill="#2c90f0" stroke="#0058b8"/><path d="M397.3,221.5L401.3,222.5L405.3,220.1L401.3,219Z" fill="#2b91ef" stroke="#0059b7"/><path d="M401.3,222.5L405.3,223.5L409.4,221.1L405.3,220.1Z" fill="#2a92ee" stroke="#005ab5"/><path d="M405.3,223.5L409.4,224.3L413.4,221.9L409.4,221.1Z" fill="#2994ed" stroke="#005bb4"/><path d="M409.4,224.3L413.4,225L417.4,222.5L413.4,221.9Z" fill="#2896ec" stroke="#005db3"/><path d="M413.4,225L417.4,225.5L421.4,223L417.4,222.5Z" fill="#2798ea" stroke="#005fb1"/><path d="M248.2,92.1L252.3,98.2L256.3,94.2L252.2,88.1Z" fill="#90ca4d" stroke="#437e00"/><path d="M252.3,98.2L256.3,104.1L260.3,100.3L256.3,94.2Z" fill="#79cc5e" stroke="#2e8113"/><path d="M256.3,104.1L260.3,110L264.3,106.2L260.3,100.3Z" fill="#64cd6f" stroke="#1b8426"/><path d="M260.3,110L264.3,115.6L268.4,111.9L264.3,106.2Z" fill="#51cc7e" stroke="#0a8537"/><path d="M264.3,115.6L268.4,121.2L272.4,117.6L268.4,111.9Z" fill="#41ca8c" stroke="#008547"/><path d="M268.4,121.2L272.4,126.6L276.4,123L272.4,117.6Z" fill="#36c898" stroke="#008454"/><path d="M272.4,126.6L276.4,131.8L280.4,128.4L276.4,123Z" fill="#2fc5a3" stroke="#008260"/><path d="M276.4,131.8L280.5,137L284.5,133.6L280.4,128.4Z" fill="#27c2ac" stroke="#00816b"/><path d="M280.5,137L284.5,141.9L288.5,138.6L284.5,133.6Z" fill="#1bc0b4" stroke="#008075"/><path d="M284.5,141.9L288.5,146.8L292.5,143.5L288.5,138.6Z" fill="#0bbdbc" stroke="#00807f"/><path d="M288.5,146.8L292.6,151.5L296.6,148.3L292.5,143.5Z" fill="#01bac4" stroke="#007f88"/><path d="M292.6,151.5L296.6,156L300.6,152.9L296.6,148.3Z" fill="#01b7cb" stroke="#007c90"/><path d="M296.6,156L300.6,160.5L304.6,157.4L300.6,152.9Z" fill="#08b4d1" stroke="#007995"/><path d="M300.6,160.5L304.6,164.8L308.6,161.7L304.6,157.4Z" fill="#12b1d6" stroke="#00759a"/><path d="M304.6,164.8L308.7,168.9L312.7,165.9L308.6,161.7Z" fill="#18aedb" stroke="#00719e"/><path d="M308.7,168.9L312.7,172.9L316.7,170L312.7,165.9Z" fill="#1baade" stroke="#006ea2"/><path d="M312.7,172.9L316.7,176.8L320.7,173.9L316.7,170Z" fill="#1ea7e1" stroke="#006ba6"/><path d="M316.7,176.8L320.8,180.5L324.8,177.7L320.7,173.9Z" fill="#21a4e3" stroke="#0068a8"/><path d="M320.8,180.5L324.8,184.1L328.8,181.3L324.8,177.7Z" fill="#23a0e5" stroke="#0066aa"/><path d="M324.8,184.1L328.8,187.5L332.8,184.8L328.8,181.3Z" fill="#259de6" stroke="#0063ac"/><path d="M328.8,187.5L332.8,190.9L336.9,188.2L332.8,184.8Z" fill="#259be8" stroke="#0061ae"/><path d="M332.8,190.9L336.9,194L340.9,191.4L336.9,188.2Z" fill="#2698ea" stroke="#005fb1"/><path d="M336.9,194L340.9,197.1L344.9,194.5L340.9,191.4Z" fill="#2896ec" stroke="#005db3"/><path d="M340.9,197.1L344.9,200L348.9,197.4L344.9,194.5Z" fill="#2a93ed" stroke="#005bb5"/><path d="M344.9,200L349,202.7L353,200.2L348.9,197.4Z" fill="#2b91ef" stroke="#0059b6"/><path d="M349,202.7L353,205.3L357,202.8L353,200.2Z" fill="#2c90f0" stroke="#0058b8"/><path d="M353,205.3L357,207.8L361,205.3L357,202.8Z" fill="#2d8ef1" stroke="#0056b9"/><path d="M357,207.8L361.1,210.1L365.1,207.7L361,205.3Z" fill="#2d8df2" stroke="#0055ba"/><path d="M361.1,210.1L365.1,212.3L369.1,209.9L365.1,207.7Z" fill="#2d8cf3" stroke="#0055bb"/><path d="M365.1,212.3L369.1,214.4L373.1,212L369.1,209.9Z" fill="#2d8bf4" stroke="#0054bc"/><path d="M369.1,214.4L373.1,216.3L377.1,213.9L373.1,212Z" fill="#2d8bf4" stroke="#0054bd"/><path d="M373.1,216.3L377.2,218.1L381.2,215.7L377.1,213.9Z" fill="#2d8bf4" stroke="#0053bd"/><path d="M377.2,218.1L381.2,219.8L385.2,217.4L381.2,215.7Z" fill="#2d8bf4" stroke="#0054bd"/><path d="M381.2,219.8L385.2,221.3L389.2,218.9L385.2,217.4Z" fill="#2d8bf4" stroke="#0054bc"/><path d="M385.2,221.3L389.3,222.6L393.3,220.2L389.2,218.9Z" fill="#2d8cf3" stroke="#0054bc"/><path d="M389.3,222.6L393.3,223.9L397.3,221.5L393.3,220.2Z" fill="#2d8df2" stroke="#0055bb"/><path d="M393.3,223.9L397.3,224.9L401.3,222.5L397.3,221.5Z" fill="#2d8ef1" stroke="#0056ba"/><path d="M397.3,224.9L401.3,225.9L405.3,223.5L401.3,222.5Z" fill="#2c8ff0" stroke="#0057b8"/><path d="M401.3,225.9L405.4,226.7L409.4,224.3L405.3,223.5Z" fill="#2b91ef" stroke="#0058b7"/><path d="M405.4,226.7L409.4,227.4L413.4,225L409.4,224.3Z" fill="#2a93ee" stroke="#005ab5"/><path d="M409.4,227.4L413.4,227.9L417.4,225.5L413.4,225Z" fill="#2895ec" stroke="#005cb3"/><path d="M244.2,96.1L248.3,102.1L252.3,98.2L248.2,92.1Z" fill="#7fcc5a" stroke="#33800f"/><path d="M248.3,102.1L252.3,108L256.3,104.1L252.3,98.2Z" fill="#69cd6b" stroke="#1f8321"/><path d="M252.3,108L256.3,113.7L260.3,110L256.3,104.1Z" fill="#56cc7b" stroke="#0e8433"/><path d="M256.3,113.7L260.3,119.3L264.3,115.6L260.3,110Z" fill="#44cb89" stroke="#008543"/><path d="M260.3,119.3L264.4,124.7L268.4,121.2L264.3,115.6Z" fill="#38c896" stroke="#008452"/><path d="M264.4,124.7L268.4,130.1L272.4,126.6L268.4,121.2Z" fill="#31c5a1" stroke="#00835e"/><path d="M268.4,130.1L272.4,135.3L276.4,131.8L272.4,126.6Z" fill="#29c3aa" stroke="#008169"/><path d="M272.4,135.3L276.5,140.3L280.5,137L276.4,131.8Z" fill="#1dc0b3" stroke="#008073"/><path d="M276.5,140.3L280.5,145.2L284.5,141.9L280.5,137Z" fill="#0ebdbb" stroke="#00807e"/><path d="M280.5,145.2L284.5,150L288.5,146.8L284.5,141.9Z" fill="#02bbc3" stroke="#007f87"/><path d="M284.5,150L288.5,154.6L292.6,151.5L288.5,146.8Z" fill="#01b8ca" stroke="#007d8f"/><path d="M288.5,154.6L292.6,159.1L296.6,156L292.6,151.5Z" fill="#07b5d0" stroke="#007995"/><path d="M292.6,159.1L296.6,163.5L300.6,160.5L296.6,156Z" fill="#11b1d6" stroke="#00759a"/><path d="M296.6,163.5L300.6,167.7L304.6,164.8L300.6,160.5Z" fill="#17aeda" stroke="#00729e"/><path d="M300.6,167.7L304.7,171.8L308.7,168.9L304.6,164.8Z" fill="#1baade" stroke="#006ea2"/><path d="M304.7,171.8L308.7,175.8L312.7,172.9L308.7,168.9Z" fill="#1ea7e1" stroke="#006ba6"/><path d="M308.7,175.8L312.7,179.6L316.7,176.8L312.7,172.9Z" fill="#21a3e3" stroke="#0068a8"/><path d="M312.7,179.6L316.8,183.3L320.8,180.5L316.7,176.8Z" fill="#23a0e5" stroke="#0065aa"/><path d="M316.8,183.3L320.8,186.8L324.8,184.1L320.8,180.5Z" fill="#259de7" stroke="#0063ac"/><path d="M320.8,186.8L324.8,190.2L328.8,187.5L324.8,184.1Z" fill="#269ae9" stroke="#0060af"/><path d="M324.8,190.2L328.8,193.5L332.8,190.9L328.8,187.5Z" fill="#2797eb" stroke="#005eb1"/><path d="M328.8,193.5L332.9,196.6L336.9,194L332.8,190.9Z" fill="#2995ec" stroke="#005cb4"/><path d="M332.9,196.6L336.9,199.6L340.9,197.1L336.9,194Z" fill="#2a92ee" stroke="#005ab6"/><path d="M336.9,199.6L340.9,202.5L344.9,200L340.9,197.1Z" fill="#2c90f0" stroke="#0058b7"/><path d="M340.9,202.5L345,205.2L349,202.7L344.9,200Z" fill="#2d8ef1" stroke="#0056b9"/><path d="M345,205.2L349,207.8L353,205.3L349,202.7Z" fill="#2d8cf3" stroke="#0055bb"/><path d="M349,207.8L353,210.3L357,207.8L353,205.3Z" fill="#2d8bf4" stroke="#0054bd"/><path d="M353,210.3L357,212.6L361.1,210.1L357,207.8Z" fill="#2d8af5" stroke="#0053be"/><path d="M357,212.6L361.1,214.8L365.1,212.3L361.1,210.1Z" fill="#2d89f6" stroke="#0052bf"/><path d="M361.1,214.8L365.1,216.8L369.1,214.4L365.1,212.3Z" fill="#2d88f6" stroke="#0051bf"/><path d="M365.1,216.8L369.1,218.7L373.1,216.3L369.1,214.4Z" fill="#2d88f6" stroke="#0051c0"/><path d="M369.1,218.7L373.2,220.5L377.2,218.1L373.1,216.3Z" fill="#2d87f6" stroke="#0051c0"/><path d="M373.2,220.5L377.2,222.1L381.2,219.8L377.2,218.1Z" fill="#2d88f6" stroke="#0051c0"/><path d="M377.2,222.1L381.2,223.6L385.2,221.3L381.2,219.8Z" fill="#2d88f6" stroke="#0051c0"/><path d="M381.2,223.6L385.3,225L389.3,222.6L385.2,221.3Z" fill="#2d89f6" stroke="#0052bf"/><path d="M385.3,225L389.3,226.2L393.3,223.9L389.3,222.6Z" fill="#2d89f5" stroke="#0053be"/><path d="M389.3,226.2L393.3,227.3L397.3,224.9L393.3,223.9Z" fill="#2d8bf4" stroke="#0053bd"/><path d="M393.3,227.3L397.3,228.3L401.3,225.9L397.3,224.9Z" fill="#2d8cf3" stroke="#0055bb"/><path d="M397.3,228.3L401.4,229.1L405.4,226.7L401.3,225.9Z" fill="#2d8ef2" stroke="#0056ba"/><path d="M401.4,229.1L405.4,229.7L409.4,227.4L405.4,226.7Z" fill="#2c90f0" stroke="#0057b8"/><path d="M405.4,229.7L409.4,230.3L413.4,227.9L409.4,227.4Z" fill="#2b92ee" stroke="#0059b6"/><path d="M240.2,100L244.3,105.9L248.3,102.1L244.2,96.1Z" fill="#6ecd67" stroke="#23831d"/><path d="M244.3,105.9L248.3,111.7L252.3,108L248.3,102.1Z" fill="#5acc77" stroke="#12842f"/><path d="M248.3,111.7L252.3,117.4L256.3,113.7L252.3,108Z" fill="#48cb86" stroke="#028540"/><path d="M252.3,117.4L256.3,122.9L260.3,119.3L256.3,113.7Z" fill="#3ac993" stroke="#00844f"/><path d="M256.3,122.9L260.4,128.3L264.4,124.7L260.3,119.3Z" fill="#32c69e" stroke="#00835b"/><path d="M260.4,128.3L264.4,133.5L268.4,130.1L264.4,124.7Z" fill="#2bc3a8" stroke="#008166"/><path d="M264.4,133.5L268.4,138.6L272.4,135.3L268.4,130.1Z" fill="#20c1b1" stroke="#008071"/><path d="M268.4,138.6L272.5,143.6L276.5,140.3L272.4,135.3Z" fill="#11beba" stroke="#00807c"/><path d="M272.5,143.6L276.5,148.4L280.5,145.2L276.5,140.3Z" fill="#03bbc1" stroke="#007f86"/><path d="M276.5,148.4L280.5,153.2L284.5,150L280.5,145.2Z" fill="#00b8c9" stroke="#007d8e"/><path d="M280.5,153.2L284.5,157.7L288.5,154.6L284.5,150Z" fill="#06b5cf" stroke="#007a94"/><path d="M284.5,157.7L288.6,162.2L292.6,159.1L288.5,154.6Z" fill="#10b2d5" stroke="#007699"/><path d="M288.6,162.2L292.6,166.5L296.6,163.5L292.6,159.1Z" fill="#17aeda" stroke="#00729e"/><path d="M292.6,166.5L296.6,170.7L300.6,167.7L296.6,163.5Z" fill="#1babde" stroke="#006fa2"/><path d="M296.6,170.7L300.7,174.7L304.7,171.8L300.6,167.7Z" fill="#1ea7e1" stroke="#006ba5"/><path d="M300.7,174.7L304.7,178.6L308.7,175.8L304.7,171.8Z" fill="#21a3e3" stroke="#0068a8"/><path d="M304.7,178.6L308.7,182.4L312.7,179.6L308.7,175.8Z" fill="#23a0e5" stroke="#0065aa"/><path d="M308.7,182.4L312.7,186L316.8,183.3L312.7,179.6Z" fill="#259de7" stroke="#0062ad"/><path d="M312.7,186L316.8,189.5L320.8,186.8L316.8,183.3Z" fill="#2699e9" stroke="#0060af"/><path d="M316.8,189.5L320.8,192.9L324.8,190.2L320.8,186.8Z" fill="#2796eb" stroke="#005db2"/><path d="M320.8,192.9L324.8,196.1L328.8,193.5L324.8,190.2Z" fill="#2994ed" stroke="#005bb4"/><path d="M324.8,196.1L328.9,199.2L332.9,196.6L328.8,193.5Z" fill="#2b91ef" stroke="#0059b7"/><path d="M328.9,199.2L332.9,202.2L336.9,199.6L332.9,196.6Z" fill="#2c8ff1" stroke="#0057b9"/><path d="M332.9,202.2L336.9,205L340.9,202.5L336.9,199.6Z" fill="#2d8df2" stroke="#0055bb"/><path d="M336.9,205L341,207.7L345,205.2L340.9,202.5Z" fill="#2d8bf4" stroke="#0053bd"/><path d="M341,207.7L345,210.3L349,207.8L345,205.2Z" fill="#2d89f5" stroke="#0052bf"/><path d="M345,210.3L349,212.7L353,210.3L349,207.8Z" fill="#2d88f6" stroke="#0051c0"/><path d="M349,212.7L353,215L357,212.6L353,210.3Z" fill="#2e86f7" stroke="#0050c1"/><path d="M353,215L357.1,217.2L361.1,214.8L357,212.6Z" fill="#2e85f8" stroke="#004fc2"/><path d="M357.1,217.2L361.1,219.2L365.1,216.8L361.1,214.8Z" fill="#2e85f8" stroke="#004fc2"/><path d="M361.1,219.2L365.1,221.1L369.1,218.7L365.1,216.8Z" fill="#2e84f8" stroke="#004ec2"/><path d="M365.1,221.1L369.2,222.8L373.2,220.5L369.1,218.7Z" fill="#2e84f8" stroke="#004ec3"/><path d="M369.2,222.8L373.2,224.5L377.2,222.1L373.2,220.5Z" fill="#2e84f8" stroke="#004ec2"/><path d="M373.2,224.5L377.2,226L381.2,223.6L377.2,222.1Z" fill="#2e85f8" stroke="#004fc2"/><path d="M377.2,226L381.2,227.3L385.3,225L381.2,223.6Z" fill="#2e85f8" stroke="#004fc2"/><path d="M381.2,227.3L385.3,228.5L389.3,226.2L385.3,225Z" fill="#2e86f7" stroke="#0050c1"/><path d="M385.3,228.5L389.3,229.6L393.3,227.3L389.3,226.2Z" fill="#2d87f6" stroke="#0051c0"/><path d="M389.3,229.6L393.3,230.6L397.3,228.3L393.3,227.3Z" fill="#2d89f5" stroke="#0052bf"/><path d="M393.3,230.6L397.4,231.4L401.4,229.1L397.3,228.3Z" fill="#2d8bf4" stroke="#0053bd"/><path d="M397.4,231.4L401.4,232.1L405.4,229.7L401.4,229.1Z" fill="#2d8df3" stroke="#0055bb"/><path d="M401.4,232.1L405.4,232.6L409.4,230.3L405.4,229.7Z" fill="#2c8ff1" stroke="#0057b9"/><path d="M236.2,103.9L240.2,109.7L244.3,105.9L240.2,100Z" fill="#5ecd74" stroke="#16842b"/><path d="M240.2,109.7L244.3,115.4L248.3,111.7L244.3,105.9Z" fill="#4ccb83" stroke="#05853c"/><path d="M244.3,115.4L248.3,121L252.3,117.4L248.3,111.7Z" fill="#3dc990" stroke="#00854b"/><path d="M248.3,121L252.3,126.4L256.3,122.9L252.3,117.4Z" fill="#34c79c" stroke="#008359"/><path d="M252.3,126.4L256.4,131.7L260.4,128.3L256.3,122.9Z" fill="#2cc4a6" stroke="#008264"/><path d="M256.4,131.7L260.4,136.9L264.4,133.5L260.4,128.3Z" fill="#22c1b0" stroke="#00806f"/><path d="M260.4,136.9L264.4,142L268.4,138.6L264.4,133.5Z" fill="#14beb8" stroke="#00807a"/><path d="M264.4,142L268.5,146.9L272.5,143.6L268.4,138.6Z" fill="#05bcc0" stroke="#008084"/><path d="M268.5,146.9L272.5,151.6L276.5,148.4L272.5,143.6Z" fill="#00b9c7" stroke="#007e8c"/><path d="M272.5,151.6L276.5,156.3L280.5,153.2L276.5,148.4Z" fill="#05b6ce" stroke="#007a93"/><path d="M276.5,156.3L280.5,160.8L284.5,157.7L280.5,153.2Z" fill="#0fb2d4" stroke="#007698"/><path d="M280.5,160.8L284.6,165.2L288.6,162.2L284.5,157.7Z" fill="#16afda" stroke="#00729d"/><path d="M284.6,165.2L288.6,169.4L292.6,166.5L288.6,162.2Z" fill="#1babde" stroke="#006fa2"/><path d="M288.6,169.4L292.6,173.5L296.6,170.7L292.6,166.5Z" fill="#1ea7e1" stroke="#006ba5"/><path d="M292.6,173.5L296.7,177.5L300.7,174.7L296.6,170.7Z" fill="#21a3e3" stroke="#0068a8"/><path d="M296.7,177.5L300.7,181.4L304.7,178.6L300.7,174.7Z" fill="#23a0e5" stroke="#0065aa"/><path d="M300.7,181.4L304.7,185.1L308.7,182.4L304.7,178.6Z" fill="#259ce7" stroke="#0062ad"/><path d="M304.7,185.1L308.7,188.7L312.7,186L308.7,182.4Z" fill="#2699e9" stroke="#0060b0"/><path d="M308.7,188.7L312.8,192.2L316.8,189.5L312.7,186Z" fill="#2896eb" stroke="#005db2"/><path d="M312.8,192.2L316.8,195.5L320.8,192.9L316.8,189.5Z" fill="#2a93ee" stroke="#005ab5"/><path d="M316.8,195.5L320.8,198.7L324.8,196.1L320.8,192.9Z" fill="#2c90f0" stroke="#0058b7"/><path d="M320.8,198.7L324.9,201.7L328.9,199.2L324.8,196.1Z" fill="#2d8ef2" stroke="#0056ba"/><path d="M324.9,201.7L328.9,204.7L332.9,202.2L328.9,199.2Z" fill="#2d8bf4" stroke="#0054bc"/><path d="M328.9,204.7L332.9,207.5L336.9,205L332.9,202.2Z" fill="#2d89f5" stroke="#0052be"/><path d="M332.9,207.5L336.9,210.2L341,207.7L336.9,205Z" fill="#2d87f7" stroke="#0051c0"/><path d="M336.9,210.2L341,212.7L345,210.3L341,207.7Z" fill="#2e86f8" stroke="#004fc2"/><path d="M341,212.7L345,215.1L349,212.7L345,210.3Z" fill="#2e84f8" stroke="#004ec3"/><path d="M345,215.1L349,217.4L353,215L349,212.7Z" fill="#2e83f9" stroke="#004dc3"/><path d="M349,217.4L353.1,219.5L357.1,217.2L353,215Z" fill="#2f82f9" stroke="#004dc4"/><path d="M353.1,219.5L357.1,221.5L361.1,219.2L357.1,217.2Z" fill="#2f81fa" stroke="#004cc4"/><path d="M357.1,221.5L361.1,223.4L365.1,221.1L361.1,219.2Z" fill="#2f81fa" stroke="#004cc5"/><path d="M361.1,223.4L365.2,225.2L369.2,222.8L365.1,221.1Z" fill="#2f81fa" stroke="#004cc5"/><path d="M365.2,225.2L369.2,226.8L373.2,224.5L369.2,222.8Z" fill="#2f81fa" stroke="#004cc5"/><path d="M369.2,226.8L373.2,228.3L377.2,226L373.2,224.5Z" fill="#2f82fa" stroke="#004cc4"/><path d="M373.2,228.3L377.2,229.6L381.2,227.3L377.2,226Z" fill="#2f82f9" stroke="#004dc4"/><path d="M377.2,229.6L381.3,230.8L385.3,228.5L381.2,227.3Z" fill="#2e83f9" stroke="#004ec3"/><path d="M381.3,230.8L385.3,231.9L389.3,229.6L385.3,228.5Z" fill="#2e84f8" stroke="#004ec2"/><path d="M385.3,231.9L389.3,232.9L393.3,230.6L389.3,229.6Z" fill="#2e86f8" stroke="#0050c1"/><path d="M389.3,232.9L393.4,233.7L397.4,231.4L393.3,230.6Z" fill="#2d87f6" stroke="#0051c0"/><path d="M393.4,233.7L397.4,234.4L401.4,232.1L397.4,231.4Z" fill="#2d89f5" stroke="#0052be"/><path d="M397.4,234.4L401.4,235L405.4,232.6L401.4,232.1Z" fill="#2d8cf3" stroke="#0054bc"/><path d="M232.2,107.8L236.2,113.5L240.2,109.7L236.2,103.9Z" fill="#50cc80" stroke="#098538"/><path d="M236.2,113.5L240.3,119.1L244.3,115.4L240.2,109.7Z" fill="#40ca8d" stroke="#008548"/><path d="M240.3,119.1L244.3,124.6L248.3,121L244.3,115.4Z" fill="#35c79a" stroke="#008456"/><path d="M244.3,124.6L248.3,130L252.3,126.4L248.3,121Z" fill="#2ec4a4" stroke="#008262"/><path d="M248.3,130L252.4,135.2L256.4,131.7L252.3,126.4Z" fill="#25c2ae" stroke="#00816d"/><path d="M252.4,135.2L256.4,140.3L260.4,136.9L256.4,131.7Z" fill="#17bfb6" stroke="#008077"/><path d="M256.4,140.3L260.4,145.2L264.4,142L260.4,136.9Z" fill="#07bcbf" stroke="#008082"/><path d="M260.4,145.2L264.4,150.1L268.5,146.9L264.4,142Z" fill="#00b9c6" stroke="#007e8b"/><path d="M264.4,150.1L268.5,154.8L272.5,151.6L268.5,146.9Z" fill="#03b6cd" stroke="#007b92"/><path d="M268.5,154.8L272.5,159.4L276.5,156.3L272.5,151.6Z" fill="#0db3d3" stroke="#007798"/><path d="M272.5,159.4L276.5,163.8L280.5,160.8L276.5,156.3Z" fill="#16afd9" stroke="#00739d"/><path d="M276.5,163.8L280.6,168.1L284.6,165.2L280.5,160.8Z" fill="#1aabdd" stroke="#006fa1"/><path d="M280.6,168.1L284.6,172.3L288.6,169.4L284.6,165.2Z" fill="#1ea7e1" stroke="#006ca5"/><path d="M284.6,172.3L288.6,176.4L292.6,173.5L288.6,169.4Z" fill="#21a4e3" stroke="#0068a8"/><path d="M288.6,176.4L292.7,180.3L296.7,177.5L292.6,173.5Z" fill="#23a0e5" stroke="#0065aa"/><path d="M292.7,180.3L296.7,184.1L300.7,181.4L296.7,177.5Z" fill="#259ce7" stroke="#0062ad"/><path d="M296.7,184.1L300.7,187.8L304.7,185.1L300.7,181.4Z" fill="#2699e9" stroke="#005fb0"/><path d="M300.7,187.8L304.7,191.4L308.7,188.7L304.7,185.1Z" fill="#2896ec" stroke="#005db3"/><path d="M304.7,191.4L308.8,194.8L312.8,192.2L308.7,188.7Z" fill="#2a92ee" stroke="#005ab5"/><path d="M308.8,194.8L312.8,198.1L316.8,195.5L312.8,192.2Z" fill="#2c8ff0" stroke="#0057b8"/><path d="M312.8,198.1L316.8,201.2L320.8,198.7L316.8,195.5Z" fill="#2d8df2" stroke="#0055bb"/><path d="M316.8,201.2L320.9,204.2L324.9,201.7L320.8,198.7Z" fill="#2d8af4" stroke="#0053bd"/><path d="M320.9,204.2L324.9,207.1L328.9,204.7L324.9,201.7Z" fill="#2d88f6" stroke="#0051c0"/><path d="M324.9,207.1L328.9,209.9L332.9,207.5L328.9,204.7Z" fill="#2e86f8" stroke="#0050c1"/><path d="M328.9,209.9L332.9,212.6L336.9,210.2L332.9,207.5Z" fill="#2e84f9" stroke="#004ec3"/><path d="M332.9,212.6L337,215.1L341,212.7L336.9,210.2Z" fill="#2f82f9" stroke="#004dc4"/><path d="M337,215.1L341,217.5L345,215.1L341,212.7Z" fill="#2f81fa" stroke="#004cc5"/><path d="M341,217.5L345,219.7L349,217.4L345,215.1Z" fill="#2f80fb" stroke="#004bc6"/><path d="M345,219.7L349.1,221.8L353.1,219.5L349,217.4Z" fill="#307ffb" stroke="#004ac6"/><path d="M349.1,221.8L353.1,223.8L357.1,221.5L353.1,219.5Z" fill="#307efb" stroke="#0049c7"/><path d="M353.1,223.8L357.1,225.7L361.1,223.4L357.1,221.5Z" fill="#307efb" stroke="#0049c7"/><path d="M357.1,225.7L361.1,227.4L365.2,225.2L361.1,223.4Z" fill="#307efb" stroke="#0049c7"/><path d="M361.1,227.4L365.2,229.1L369.2,226.8L365.2,225.2Z" fill="#307efb" stroke="#0049c7"/><path d="M365.2,229.1L369.2,230.5L373.2,228.3L369.2,226.8Z" fill="#307efb" stroke="#004ac7"/><path d="M369.2,230.5L373.2,231.9L377.2,229.6L373.2,228.3Z" fill="#307ffb" stroke="#004ac6"/><path d="M373.2,231.9L377.3,233.1L381.3,230.8L377.2,229.6Z" fill="#2f80fb" stroke="#004bc5"/><path d="M377.3,233.1L381.3,234.2L385.3,231.9L381.3,230.8Z" fill="#2f81fa" stroke="#004cc5"/><path d="M381.3,234.2L385.3,235.2L389.3,232.9L385.3,231.9Z" fill="#2e83f9" stroke="#004dc4"/><path d="M385.3,235.2L389.4,236L393.4,233.7L389.3,232.9Z" fill="#2e84f8" stroke="#004ec2"/><path d="M389.4,236L393.4,236.7L397.4,234.4L393.4,233.7Z" fill="#2e86f7" stroke="#0050c1"/><path d="M393.4,236.7L397.4,237.3L401.4,235L397.4,234.4Z" fill="#2d88f6" stroke="#0052bf"/><path d="M228.2,111.6L232.2,117.2L236.2,113.5L232.2,107.8Z" fill="#43ca8a" stroke="#008545"/><path d="M232.2,117.2L236.3,122.7L240.3,119.1L236.2,113.5Z" fill="#37c897" stroke="#008453"/><path d="M236.3,122.7L240.3,128.1L244.3,124.6L240.3,119.1Z" fill="#30c5a2" stroke="#00825f"/><path d="M240.3,128.1L244.3,133.4L248.3,130L244.3,124.6Z" fill="#27c2ac" stroke="#00816a"/><path d="M244.3,133.4L248.4,138.6L252.4,135.2L248.3,130Z" fill="#1ac0b5" stroke="#008075"/><path d="M248.4,138.6L252.4,143.6L256.4,140.3L252.4,135.2Z" fill="#0abdbd" stroke="#008080"/><path d="M252.4,143.6L256.4,148.5L260.4,145.2L256.4,140.3Z" fill="#01bac5" stroke="#007f89"/><path d="M256.4,148.5L260.4,153.2L264.4,150.1L260.4,145.2Z" fill="#02b7cc" stroke="#007c91"/><path d="M260.4,153.2L264.5,157.9L268.5,154.8L264.4,150.1Z" fill="#0cb3d3" stroke="#007897"/><path d="M264.5,157.9L268.5,162.4L272.5,159.4L268.5,154.8Z" fill="#15b0d8" stroke="#00739c"/><path d="M268.5,162.4L272.5,166.8L276.5,163.8L272.5,159.4Z" fill="#1aacdd" stroke="#0070a1"/><path d="M272.5,166.8L276.6,171.1L280.6,168.1L276.5,163.8Z" fill="#1da8e1" stroke="#006ca5"/><path d="M276.6,171.1L280.6,175.2L284.6,172.3L280.6,168.1Z" fill="#20a4e3" stroke="#0069a8"/><path d="M280.6,175.2L284.6,179.2L288.6,176.4L284.6,172.3Z" fill="#23a0e5" stroke="#0065aa"/><path d="M284.6,179.2L288.6,183.1L292.7,180.3L288.6,176.4Z" fill="#259ce7" stroke="#0062ad"/><path d="M288.6,183.1L292.7,186.8L296.7,184.1L292.7,180.3Z" fill="#2699e9" stroke="#005fb0"/><path d="M292.7,186.8L296.7,190.5L300.7,187.8L296.7,184.1Z" fill="#2895ec" stroke="#005cb3"/><path d="M296.7,190.5L300.7,194L304.7,191.4L300.7,187.8Z" fill="#2b92ee" stroke="#0059b6"/><path d="M300.7,194L304.8,197.3L308.8,194.8L304.7,191.4Z" fill="#2c8ff1" stroke="#0057b8"/><path d="M304.8,197.3L308.8,200.6L312.8,198.1L308.8,194.8Z" fill="#2d8cf3" stroke="#0054bb"/><path d="M308.8,200.6L312.8,203.7L316.8,201.2L312.8,198.1Z" fill="#2d89f5" stroke="#0052be"/><path d="M312.8,203.7L316.9,206.7L320.9,204.2L316.8,201.2Z" fill="#2e87f7" stroke="#0050c1"/><path d="M316.9,206.7L320.9,209.6L324.9,207.1L320.9,204.2Z" fill="#2e84f8" stroke="#004ec2"/><path d="M320.9,209.6L324.9,212.3L328.9,209.9L324.9,207.1Z" fill="#2f82f9" stroke="#004dc4"/><path d="M324.9,212.3L328.9,214.9L332.9,212.6L328.9,209.9Z" fill="#2f80fa" stroke="#004bc5"/><path d="M328.9,214.9L333,217.4L337,215.1L332.9,212.6Z" fill="#307ffb" stroke="#004ac6"/><path d="M333,217.4L337,219.8L341,217.5L337,215.1Z" fill="#317dfc" stroke="#0049c7"/><path d="M337,219.8L341,222L345,219.7L341,217.5Z" fill="#317cfc" stroke="#0048c8"/><path d="M341,222L345.1,224.1L349.1,221.8L345,219.7Z" fill="#327bfc" stroke="#0047c8"/><path d="M345.1,224.1L349.1,226.1L353.1,223.8L349.1,221.8Z" fill="#337bfd" stroke="#0047c8"/><path d="M349.1,226.1L353.1,228L357.1,225.7L353.1,223.8Z" fill="#337afd" stroke="#0046c8"/><path d="M353.1,228L357.1,229.7L361.1,227.4L357.1,225.7Z" fill="#337afd" stroke="#0046c8"/><path d="M357.1,229.7L361.2,231.3L365.2,229.1L361.1,227.4Z" fill="#337bfd" stroke="#0046c8"/><path d="M361.2,231.3L365.2,232.8L369.2,230.5L365.2,229.1Z" fill="#337bfc" stroke="#0047c8"/><path d="M365.2,232.8L369.2,234.1L373.2,231.9L369.2,230.5Z" fill="#327cfc" stroke="#0047c8"/><path d="M369.2,234.1L373.3,235.4L377.3,233.1L373.2,231.9Z" fill="#317dfc" stroke="#0048c7"/><path d="M373.3,235.4L377.3,236.5L381.3,234.2L377.3,233.1Z" fill="#307efb" stroke="#0049c7"/><path d="M377.3,236.5L381.3,237.4L385.3,235.2L381.3,234.2Z" fill="#2f80fb" stroke="#004bc6"/><path d="M381.3,237.4L385.3,238.3L389.4,236L385.3,235.2Z" fill="#2f81fa" stroke="#004cc5"/><path d="M385.3,238.3L389.4,239L393.4,236.7L389.4,236Z" fill="#2e83f9" stroke="#004ec3"/><path d="M389.4,239L393.4,239.6L397.4,237.3L393.4,236.7Z" fill="#2e85f8" stroke="#004fc2"/><path d="M224.2,115.3L228.2,120.9L232.2,117.2L228.2,111.6Z" fill="#39c994" stroke="#008450"/><path d="M228.2,120.9L232.3,126.3L236.3,122.7L232.2,117.2Z" fill="#31c6a0" stroke="#00835d"/><path d="M232.3,126.3L236.3,131.6L240.3,128.1L236.3,122.7Z" fill="#29c3aa" stroke="#008168"/><path d="M236.3,131.6L240.3,136.8L244.3,133.4L240.3,128.1Z" fill="#1dc0b3" stroke="#008073"/><path d="M240.3,136.8L244.3,141.9L248.4,138.6L244.3,133.4Z" fill="#0dbdbb" stroke="#00807e"/><path d="M244.3,141.9L248.4,146.8L252.4,143.6L248.4,138.6Z" fill="#02bac3" stroke="#007f88"/><path d="M248.4,146.8L252.4,151.7L256.4,148.5L252.4,143.6Z" fill="#01b7cb" stroke="#007c90"/><path d="M252.4,151.7L256.4,156.4L260.4,153.2L256.4,148.5Z" fill="#0ab4d1" stroke="#007896"/><path d="M256.4,156.4L260.5,160.9L264.5,157.9L260.4,153.2Z" fill="#14b0d7" stroke="#00749b"/><path d="M260.5,160.9L264.5,165.4L268.5,162.4L264.5,157.9Z" fill="#19acdc" stroke="#0070a0"/><path d="M264.5,165.4L268.5,169.7L272.5,166.8L268.5,162.4Z" fill="#1da8e0" stroke="#006ca4"/><path d="M268.5,169.7L272.6,173.9L276.6,171.1L272.5,166.8Z" fill="#20a4e3" stroke="#0069a7"/><path d="M272.6,173.9L276.6,178L280.6,175.2L276.6,171.1Z" fill="#23a0e5" stroke="#0065aa"/><path d="M276.6,178L280.6,182L284.6,179.2L280.6,175.2Z" fill="#259ce7" stroke="#0062ad"/><path d="M280.6,182L284.6,185.8L288.6,183.1L284.6,179.2Z" fill="#2699e9" stroke="#005fb0"/><path d="M284.6,185.8L288.7,189.5L292.7,186.8L288.6,183.1Z" fill="#2895ec" stroke="#005cb3"/><path d="M288.7,189.5L292.7,193.1L296.7,190.5L292.7,186.8Z" fill="#2b92ee" stroke="#0059b6"/><path d="M292.7,193.1L296.7,196.5L300.7,194L296.7,190.5Z" fill="#2d8ef1" stroke="#0056b9"/><path d="M296.7,196.5L300.8,199.9L304.8,197.3L300.7,194Z" fill="#2d8bf3" stroke="#0054bc"/><path d="M300.8,199.9L304.8,203.1L308.8,200.6L304.8,197.3Z" fill="#2d88f6" stroke="#0052bf"/><path d="M304.8,203.1L308.8,206.2L312.8,203.7L308.8,200.6Z" fill="#2e86f8" stroke="#0050c1"/><path d="M308.8,206.2L312.8,209.1L316.9,206.7L312.8,203.7Z" fill="#2e83f9" stroke="#004ec3"/><path d="M312.8,209.1L316.9,212L320.9,209.6L316.9,206.7Z" fill="#2f81fa" stroke="#004cc5"/><path d="M316.9,212L320.9,214.7L324.9,212.3L320.9,209.6Z" fill="#307ffb" stroke="#004ac6"/><path d="M320.9,214.7L324.9,217.3L328.9,214.9L324.9,212.3Z" fill="#317dfc" stroke="#0049c7"/><path d="M324.9,217.3L329,219.7L333,217.4L328.9,214.9Z" fill="#327bfc" stroke="#0047c8"/><path d="M329,219.7L333,222.1L337,219.8L333,217.4Z" fill="#347afd" stroke="#0046c9"/><path d="M333,222.1L337,224.3L341,222L337,219.8Z" fill="#3579fd" stroke="#0145c9"/><path d="M337,224.3L341.1,226.4L345.1,224.1L341,222Z" fill="#3678fd" stroke="#0244ca"/><path d="M341.1,226.4L345.1,228.4L349.1,226.1L345.1,224.1Z" fill="#3677fe" stroke="#0343ca"/><path d="M345.1,228.4L349.1,230.2L353.1,228L349.1,226.1Z" fill="#3777fe" stroke="#0343ca"/><path d="M349.1,230.2L353.1,231.9L357.1,229.7L353.1,228Z" fill="#3777fe" stroke="#0343ca"/><path d="M353.1,231.9L357.2,233.5L361.2,231.3L357.1,229.7Z" fill="#3777fe" stroke="#0343ca"/><path d="M357.2,233.5L361.2,235L365.2,232.8L361.2,231.3Z" fill="#3678fe" stroke="#0244ca"/><path d="M361.2,235L365.2,236.3L369.2,234.1L365.2,232.8Z" fill="#3578fd" stroke="#0144c9"/><path d="M365.2,236.3L369.3,237.6L373.3,235.4L369.2,234.1Z" fill="#3479fd" stroke="#0045c9"/><path d="M369.3,237.6L373.3,238.7L377.3,236.5L373.3,235.4Z" fill="#337bfc" stroke="#0047c8"/><path d="M373.3,238.7L377.3,239.7L381.3,237.4L377.3,236.5Z" fill="#317cfc" stroke="#0048c8"/><path d="M377.3,239.7L381.3,240.5L385.3,238.3L381.3,237.4Z" fill="#307efb" stroke="#0049c7"/><path d="M381.3,240.5L385.4,241.2L389.4,239L385.3,238.3Z" fill="#2f80fa" stroke="#004bc5"/><path d="M385.4,241.2L389.4,241.8L393.4,239.6L389.4,239Z" fill="#2f82f9" stroke="#004dc4"/><path d="M220.2,119L224.2,124.5L228.2,120.9L224.2,115.3Z" fill="#33c69e" stroke="#00835a"/><path d="M224.2,124.5L228.3,129.8L232.3,126.3L228.2,120.9Z" fill="#2bc3a8" stroke="#008166"/><path d="M228.3,129.8L232.3,135.1L236.3,131.6L232.3,126.3Z" fill="#20c1b1" stroke="#008071"/><path d="M232.3,135.1L236.3,140.2L240.3,136.8L236.3,131.6Z" fill="#11beba" stroke="#00807c"/><path d="M236.3,140.2L240.3,145.2L244.3,141.9L240.3,136.8Z" fill="#03bbc2" stroke="#007f86"/><path d="M240.3,145.2L244.4,150.1L248.4,146.8L244.3,141.9Z" fill="#01b8c9" stroke="#007d8e"/><path d="M244.4,150.1L248.4,154.8L252.4,151.7L248.4,146.8Z" fill="#08b4d0" stroke="#007995"/><path d="M248.4,154.8L252.4,159.5L256.4,156.4L252.4,151.7Z" fill="#12b1d6" stroke="#00759a"/><path d="M252.4,159.5L256.5,164L260.5,160.9L256.4,156.4Z" fill="#19addc" stroke="#00719f"/><path d="M256.5,164L260.5,168.4L264.5,165.4L260.5,160.9Z" fill="#1da9e0" stroke="#006da4"/><path d="M260.5,168.4L264.5,172.6L268.5,169.7L264.5,165.4Z" fill="#20a5e2" stroke="#0069a7"/><path d="M264.5,172.6L268.5,176.8L272.6,173.9L268.5,169.7Z" fill="#23a1e5" stroke="#0066aa"/><path d="M268.5,176.8L272.6,180.8L276.6,178L272.6,173.9Z" fill="#259de7" stroke="#0063ac"/><path d="M272.6,180.8L276.6,184.7L280.6,182L276.6,178Z" fill="#2699e9" stroke="#005fb0"/><path d="M276.6,184.7L280.6,188.5L284.6,185.8L280.6,182Z" fill="#2895ec" stroke="#005cb3"/><path d="M280.6,188.5L284.7,192.1L288.7,189.5L284.6,185.8Z" fill="#2b92ee" stroke="#0059b6"/><path d="M284.7,192.1L288.7,195.7L292.7,193.1L288.7,189.5Z" fill="#2d8ef1" stroke="#0056b9"/><path d="M288.7,195.7L292.7,199.1L296.7,196.5L292.7,193.1Z" fill="#2d8bf4" stroke="#0054bd"/><path d="M292.7,199.1L296.8,202.4L300.8,199.9L296.7,196.5Z" fill="#2d88f6" stroke="#0051c0"/><path d="M296.8,202.4L300.8,205.5L304.8,203.1L300.8,199.9Z" fill="#2e85f8" stroke="#004fc2"/><path d="M300.8,205.5L304.8,208.6L308.8,206.2L304.8,203.1Z" fill="#2f82f9" stroke="#004dc4"/><path d="M304.8,208.6L308.8,211.5L312.8,209.1L308.8,206.2Z" fill="#2f80fb" stroke="#004bc6"/><path d="M308.8,211.5L312.9,214.3L316.9,212L312.8,209.1Z" fill="#307efc" stroke="#0049c7"/><path d="M312.9,214.3L316.9,217L320.9,214.7L316.9,212Z" fill="#327bfc" stroke="#0047c8"/><path d="M316.9,217L320.9,219.6L324.9,217.3L320.9,214.7Z" fill="#347afd" stroke="#0045c9"/><path d="M320.9,219.6L325,222L329,219.7L324.9,217.3Z" fill="#3678fe" stroke="#0244ca"/><path d="M325,222L329,224.3L333,222.1L329,219.7Z" fill="#3776fe" stroke="#0343ca"/><path d="M329,224.3L333,226.5L337,224.3L333,222.1Z" fill="#3875fe" stroke="#0542cb"/><path d="M333,226.5L337,228.6L341.1,226.4L337,224.3Z" fill="#3974ff" stroke="#0641cb"/><path d="M337,228.6L341.1,230.6L345.1,228.4L341.1,226.4Z" fill="#3a74ff" stroke="#0640cb"/><path d="M341.1,230.6L345.1,232.4L349.1,230.2L345.1,228.4Z" fill="#3a74ff" stroke="#0740cb"/><path d="M345.1,232.4L349.1,234.1L353.1,231.9L349.1,230.2Z" fill="#3a73ff" stroke="#0740cb"/><path d="M349.1,234.1L353.2,235.7L357.2,233.5L353.1,231.9Z" fill="#3a74ff" stroke="#0640cb"/><path d="M353.2,235.7L357.2,237.2L361.2,235L357.2,233.5Z" fill="#3974ff" stroke="#0641cb"/><path d="M357.2,237.2L361.2,238.5L365.2,236.3L361.2,235Z" fill="#3975fe" stroke="#0541cb"/><path d="M361.2,238.5L365.3,239.8L369.3,237.6L365.2,236.3Z" fill="#3876fe" stroke="#0442ca"/><path d="M365.3,239.8L369.3,240.9L373.3,238.7L369.3,237.6Z" fill="#3677fe" stroke="#0244ca"/><path d="M369.3,240.9L373.3,241.8L377.3,239.7L373.3,238.7Z" fill="#3579fd" stroke="#0045c9"/><path d="M373.3,241.8L377.3,242.7L381.3,240.5L377.3,239.7Z" fill="#337bfc" stroke="#0047c8"/><path d="M377.3,242.7L381.4,243.4L385.4,241.2L381.3,240.5Z" fill="#317dfc" stroke="#0049c7"/><path d="M381.4,243.4L385.4,244.1L389.4,241.8L385.4,241.2Z" fill="#2f7ffb" stroke="#004ac6"/><path d="M216.2,122.7L220.2,128L224.2,124.5L220.2,119Z" fill="#2dc4a6" stroke="#008263"/><path d="M220.2,128L224.3,133.3L228.3,129.8L224.2,124.5Z" fill="#23c1af" stroke="#00806e"/><path d="M224.3,133.3L228.3,138.5L232.3,135.1L228.3,129.8Z" fill="#14beb8" stroke="#00807a"/><path d="M228.3,138.5L232.3,143.5L236.3,140.2L232.3,135.1Z" fill="#05bcc0" stroke="#008084"/><path d="M232.3,143.5L236.3,148.4L240.3,145.2L236.3,140.2Z" fill="#00b8c8" stroke="#007d8d"/><path d="M236.3,148.4L240.4,153.2L244.4,150.1L240.3,145.2Z" fill="#06b5cf" stroke="#007a94"/><path d="M240.4,153.2L244.4,157.9L248.4,154.8L244.4,150.1Z" fill="#11b2d6" stroke="#007599"/><path d="M244.4,157.9L248.4,162.5L252.4,159.5L248.4,154.8Z" fill="#18aedb" stroke="#00719f"/><path d="M248.4,162.5L252.5,166.9L256.5,164L252.4,159.5Z" fill="#1caadf" stroke="#006ea3"/><path d="M252.5,166.9L256.5,171.3L260.5,168.4L256.5,164Z" fill="#1fa5e2" stroke="#006aa7"/><path d="M256.5,171.3L260.5,175.5L264.5,172.6L260.5,168.4Z" fill="#23a1e4" stroke="#0066a9"/><path d="M260.5,175.5L264.5,179.6L268.5,176.8L264.5,172.6Z" fill="#259de6" stroke="#0063ac"/><path d="M264.5,179.6L268.6,183.5L272.6,180.8L268.5,176.8Z" fill="#2699e9" stroke="#0060b0"/><path d="M268.6,183.5L272.6,187.4L276.6,184.7L272.6,180.8Z" fill="#2895ec" stroke="#005cb3"/><path d="M272.6,187.4L276.6,191.1L280.6,188.5L276.6,184.7Z" fill="#2b92ee" stroke="#0059b6"/><path d="M276.6,191.1L280.7,194.7L284.7,192.1L280.6,188.5Z" fill="#2d8ef1" stroke="#0056b9"/><path d="M280.7,194.7L284.7,198.2L288.7,195.7L284.7,192.1Z" fill="#2d8bf4" stroke="#0053bd"/><path d="M284.7,198.2L288.7,201.6L292.7,199.1L288.7,195.7Z" fill="#2d87f7" stroke="#0051c0"/><path d="M288.7,201.6L292.7,204.8L296.8,202.4L292.7,199.1Z" fill="#2e84f8" stroke="#004ec2"/><path d="M292.7,204.8L296.8,208L300.8,205.5L296.8,202.4Z" fill="#2f82fa" stroke="#004cc4"/><path d="M296.8,208L300.8,211L304.8,208.6L300.8,205.5Z" fill="#307ffb" stroke="#004ac6"/><path d="M300.8,211L304.8,213.9L308.8,211.5L304.8,208.6Z" fill="#317cfc" stroke="#0048c8"/><path d="M304.8,213.9L308.9,216.7L312.9,214.3L308.8,211.5Z" fill="#347afd" stroke="#0046c9"/><path d="M308.9,216.7L312.9,219.3L316.9,217L312.9,214.3Z" fill="#3678fe" stroke="#0244ca"/><path d="M312.9,219.3L316.9,221.9L320.9,219.6L316.9,217Z" fill="#3876fe" stroke="#0442ca"/><path d="M316.9,221.9L321,224.3L325,222L320.9,219.6Z" fill="#3974ff" stroke="#0641cb"/><path d="M321,224.3L325,226.6L329,224.3L325,222Z" fill="#3b73ff" stroke="#0740cc"/><path d="M325,226.6L329,228.8L333,226.5L329,224.3Z" fill="#3c72ff" stroke="#093fcc"/><path d="M329,228.8L333,230.8L337,228.6L333,226.5Z" fill="#3d71ff" stroke="#093ecc"/><path d="M333,230.8L337.1,232.8L341.1,230.6L337,228.6Z" fill="#3d70ff" stroke="#0a3dcc"/><path d="M337.1,232.8L341.1,234.6L345.1,232.4L341.1,230.6Z" fill="#3d70ff" stroke="#0a3dcc"/><path d="M341.1,234.6L345.1,236.3L349.1,234.1L345.1,232.4Z" fill="#3d70ff" stroke="#0a3dcc"/><path d="M345.1,236.3L349.2,237.9L353.2,235.7L349.1,234.1Z" fill="#3d70ff" stroke="#0a3dcc"/><path d="M349.2,237.9L353.2,239.3L357.2,237.2L353.2,235.7Z" fill="#3d71ff" stroke="#0a3ecc"/><path d="M353.2,239.3L357.2,240.7L361.2,238.5L357.2,237.2Z" fill="#3c72ff" stroke="#093fcc"/><path d="M357.2,240.7L361.2,241.9L365.3,239.8L361.2,238.5Z" fill="#3b73ff" stroke="#083fcc"/><path d="M361.2,241.9L365.3,243L369.3,240.9L365.3,239.8Z" fill="#3974ff" stroke="#0641cb"/><path d="M365.3,243L369.3,244L373.3,241.8L369.3,240.9Z" fill="#3876fe" stroke="#0442cb"/><path d="M369.3,244L373.3,244.9L377.3,242.7L373.3,241.8Z" fill="#3678fe" stroke="#0244ca"/><path d="M373.3,244.9L377.4,245.6L381.4,243.4L377.3,242.7Z" fill="#347afd" stroke="#0046c9"/><path d="M377.4,245.6L381.4,246.3L385.4,244.1L381.4,243.4Z" fill="#327cfc" stroke="#0048c8"/><path d="M212.2,126.3L216.2,131.6L220.2,128L216.2,122.7Z" fill="#25c2ad" stroke="#00816c"/><path d="M216.2,131.6L220.2,136.8L224.3,133.3L220.2,128Z" fill="#17bfb6" stroke="#008077"/><path d="M220.2,136.8L224.3,141.8L228.3,138.5L224.3,133.3Z" fill="#07bcbf" stroke="#008082"/><path d="M224.3,141.8L228.3,146.8L232.3,143.5L228.3,138.5Z" fill="#00b9c7" stroke="#007e8b"/><path d="M228.3,146.8L232.3,151.7L236.3,148.4L232.3,143.5Z" fill="#04b6ce" stroke="#007b93"/><path d="M232.3,151.7L236.4,156.4L240.4,153.2L236.3,148.4Z" fill="#0fb2d4" stroke="#007698"/><path d="M236.4,156.4L240.4,161L244.4,157.9L240.4,153.2Z" fill="#17aeda" stroke="#00729e"/><path d="M240.4,161L244.4,165.5L248.4,162.5L244.4,157.9Z" fill="#1caadf" stroke="#006ea3"/><path d="M244.4,165.5L248.5,169.9L252.5,166.9L248.4,162.5Z" fill="#1fa6e2" stroke="#006aa6"/><path d="M248.5,169.9L252.5,174.1L256.5,171.3L252.5,166.9Z" fill="#22a2e4" stroke="#0067a9"/><path d="M252.5,174.1L256.5,178.3L260.5,175.5L256.5,171.3Z" fill="#249de6" stroke="#0063ac"/><path d="M256.5,178.3L260.5,182.3L264.5,179.6L260.5,175.5Z" fill="#2699e9" stroke="#0060af"/><path d="M260.5,182.3L264.6,186.2L268.6,183.5L264.5,179.6Z" fill="#2896ec" stroke="#005db3"/><path d="M264.6,186.2L268.6,190L272.6,187.4L268.6,183.5Z" fill="#2b92ee" stroke="#0059b6"/><path d="M268.6,190L272.6,193.7L276.6,191.1L272.6,187.4Z" fill="#2d8ef1" stroke="#0056b9"/><path d="M272.6,193.7L276.7,197.3L280.7,194.7L276.6,191.1Z" fill="#2d8bf4" stroke="#0053bd"/><path d="M276.7,197.3L280.7,200.7L284.7,198.2L280.7,194.7Z" fill="#2e87f7" stroke="#0051c0"/><path d="M280.7,200.7L284.7,204L288.7,201.6L284.7,198.2Z" fill="#2e84f9" stroke="#004ec3"/><path d="M284.7,204L288.7,207.3L292.7,204.8L288.7,201.6Z" fill="#2f81fa" stroke="#004cc5"/><path d="M288.7,207.3L292.8,210.4L296.8,208L292.7,204.8Z" fill="#307efb" stroke="#0049c7"/><path d="M292.8,210.4L296.8,213.3L300.8,211L296.8,208Z" fill="#327bfc" stroke="#0047c8"/><path d="M296.8,213.3L300.8,216.2L304.8,213.9L300.8,211Z" fill="#3579fd" stroke="#0145c9"/><path d="M300.8,216.2L304.9,218.9L308.9,216.7L304.8,213.9Z" fill="#3776fe" stroke="#0443ca"/><path d="M304.9,218.9L308.9,221.6L312.9,219.3L308.9,216.7Z" fill="#3974ff" stroke="#0641cb"/><path d="M308.9,221.6L312.9,224.1L316.9,221.9L312.9,219.3Z" fill="#3b72ff" stroke="#083fcc"/><path d="M312.9,224.1L317,226.5L321,224.3L316.9,221.9Z" fill="#3d71ff" stroke="#0a3ecc"/><path d="M317,226.5L321,228.8L325,226.6L321,224.3Z" fill="#3e70ff" stroke="#0b3dcc"/><path d="M321,228.8L325,230.9L329,228.8L325,226.6Z" fill="#3f6fff" stroke="#0c3ccc"/><path d="M325,230.9L329,233L333,230.8L329,228.8Z" fill="#3f6eff" stroke="#0d3bcc"/><path d="M329,233L333.1,234.9L337.1,232.8L333,230.8Z" fill="#406dfe" stroke="#0d3bcc"/><path d="M333.1,234.9L337.1,236.7L341.1,234.6L337.1,232.8Z" fill="#406dfe" stroke="#0d3bcc"/><path d="M337.1,236.7L341.1,238.4L345.1,236.3L341.1,234.6Z" fill="#406dfe" stroke="#0d3bcc"/><path d="M341.1,238.4L345.2,240L349.2,237.9L345.1,236.3Z" fill="#406dfe" stroke="#0d3bcc"/><path d="M345.2,240L349.2,241.5L353.2,239.3L349.2,237.9Z" fill="#3f6eff" stroke="#0d3bcc"/><path d="M349.2,241.5L353.2,242.8L357.2,240.7L353.2,239.3Z" fill="#3f6fff" stroke="#0c3ccc"/><path d="M353.2,242.8L357.2,244L361.2,241.9L357.2,240.7Z" fill="#3e70ff" stroke="#0b3dcc"/><path d="M357.2,244L361.3,245.2L365.3,243L361.2,241.9Z" fill="#3d71ff" stroke="#0a3ecc"/><path d="M361.3,245.2L365.3,246.2L369.3,244L365.3,243Z" fill="#3b72ff" stroke="#083fcc"/><path d="M365.3,246.2L369.3,247L373.3,244.9L369.3,244Z" fill="#3974ff" stroke="#0641cb"/><path d="M369.3,247L373.4,247.8L377.4,245.6L373.3,244.9Z" fill="#3776fe" stroke="#0343ca"/><path d="M373.4,247.8L377.4,248.5L381.4,246.3L377.4,245.6Z" fill="#3579fd" stroke="#0145c9"/><path d="M208.2,129.8L212.2,135L216.2,131.6L212.2,126.3Z" fill="#1ac0b5" stroke="#008075"/><path d="M212.2,135L216.2,140.2L220.2,136.8L216.2,131.6Z" fill="#0abdbd" stroke="#008080"/><path d="M216.2,140.2L220.3,145.2L224.3,141.8L220.2,136.8Z" fill="#01bac5" stroke="#007e8a"/><path d="M220.3,145.2L224.3,150L228.3,146.8L224.3,141.8Z" fill="#03b6cd" stroke="#007b92"/><path d="M224.3,150L228.3,154.8L232.3,151.7L228.3,146.8Z" fill="#0db3d3" stroke="#007797"/><path d="M228.3,154.8L232.4,159.5L236.4,156.4L232.3,151.7Z" fill="#16afd9" stroke="#00739d"/><path d="M232.4,159.5L236.4,164L240.4,161L236.4,156.4Z" fill="#1babde" stroke="#006fa2"/><path d="M236.4,164L240.4,168.4L244.4,165.5L240.4,161Z" fill="#1ea7e1" stroke="#006ba6"/><path d="M240.4,168.4L244.4,172.8L248.5,169.9L244.4,165.5Z" fill="#22a2e4" stroke="#0067a9"/><path d="M244.4,172.8L248.5,177L252.5,174.1L248.5,169.9Z" fill="#249ee6" stroke="#0064ab"/><path d="M248.5,177L252.5,181.1L256.5,178.3L252.5,174.1Z" fill="#269ae9" stroke="#0060af"/><path d="M252.5,181.1L256.5,185L260.5,182.3L256.5,178.3Z" fill="#2896ec" stroke="#005db2"/><path d="M256.5,185L260.6,188.9L264.6,186.2L260.5,182.3Z" fill="#2b92ee" stroke="#0059b6"/><path d="M260.6,188.9L264.6,192.6L268.6,190L264.6,186.2Z" fill="#2d8ef1" stroke="#0056b9"/><path d="M264.6,192.6L268.6,196.3L272.6,193.7L268.6,190Z" fill="#2d8af4" stroke="#0053bd"/><path d="M268.6,196.3L272.7,199.8L276.7,197.3L272.6,193.7Z" fill="#2e87f7" stroke="#0051c0"/><path d="M272.7,199.8L276.7,203.2L280.7,200.7L276.7,197.3Z" fill="#2e84f9" stroke="#004ec3"/><path d="M276.7,203.2L280.7,206.5L284.7,204L280.7,200.7Z" fill="#2f80fa" stroke="#004bc5"/><path d="M280.7,206.5L284.7,209.6L288.7,207.3L284.7,204Z" fill="#317dfc" stroke="#0049c7"/><path d="M284.7,209.6L288.8,212.7L292.8,210.4L288.7,207.3Z" fill="#337afd" stroke="#0046c8"/><path d="M288.8,212.7L292.8,215.6L296.8,213.3L292.8,210.4Z" fill="#3678fe" stroke="#0244ca"/><path d="M292.8,215.6L296.8,218.5L300.8,216.2L296.8,213.3Z" fill="#3975fe" stroke="#0542cb"/><path d="M296.8,218.5L300.9,221.2L304.9,218.9L300.8,216.2Z" fill="#3b73ff" stroke="#083fcc"/><path d="M300.9,221.2L304.9,223.8L308.9,221.6L304.9,218.9Z" fill="#3d71ff" stroke="#0a3ecc"/><path d="M304.9,223.8L308.9,226.3L312.9,224.1L308.9,221.6Z" fill="#3e6fff" stroke="#0c3ccc"/><path d="M308.9,226.3L312.9,228.7L317,226.5L312.9,224.1Z" fill="#3f6efe" stroke="#0d3bcc"/><path d="M312.9,228.7L317,230.9L321,228.8L317,226.5Z" fill="#406cfe" stroke="#0e3acc"/><path d="M317,230.9L321,233.1L325,230.9L321,228.8Z" fill="#416bfe" stroke="#0f39cc"/><path d="M321,233.1L325,235.1L329,233L325,230.9Z" fill="#416bfe" stroke="#0f39cc"/><path d="M325,235.1L329.1,237L333.1,234.9L329,233Z" fill="#426afe" stroke="#1038cc"/><path d="M329.1,237L333.1,238.8L337.1,236.7L333.1,234.9Z" fill="#426afe" stroke="#1038cc"/><path d="M333.1,238.8L337.1,240.5L341.1,238.4L337.1,236.7Z" fill="#426afe" stroke="#1038cc"/><path d="M337.1,240.5L341.2,242.1L345.2,240L341.1,238.4Z" fill="#426afe" stroke="#1038cc"/><path d="M341.2,242.1L345.2,243.6L349.2,241.5L345.2,240Z" fill="#416bfe" stroke="#0f39cc"/><path d="M345.2,243.6L349.2,244.9L353.2,242.8L349.2,241.5Z" fill="#416cfe" stroke="#0f39cc"/><path d="M349.2,244.9L353.2,246.1L357.2,244L353.2,242.8Z" fill="#406dfe" stroke="#0e3acc"/><path d="M353.2,246.1L357.3,247.3L361.3,245.2L357.2,244Z" fill="#3f6eff" stroke="#0d3bcc"/><path d="M357.3,247.3L361.3,248.3L365.3,246.2L361.3,245.2Z" fill="#3e6fff" stroke="#0b3dcc"/><path d="M361.3,248.3L365.3,249.2L369.3,247L365.3,246.2Z" fill="#3c71ff" stroke="#093ecc"/><path d="M365.3,249.2L369.4,249.9L373.4,247.8L369.3,247Z" fill="#3a73ff" stroke="#0740cb"/><path d="M369.4,249.9L373.4,250.6L377.4,248.5L373.4,247.8Z" fill="#3876fe" stroke="#0442cb"/><path d="M204.2,133.3L208.2,138.5L212.2,135L208.2,129.8Z" fill="#0dbdbc" stroke="#00807e"/><path d="M208.2,138.5L212.2,143.5L216.2,140.2L212.2,135Z" fill="#01bac4" stroke="#007f88"/><path d="M212.2,143.5L216.3,148.4L220.3,145.2L216.2,140.2Z" fill="#02b7cb" stroke="#007c90"/><path d="M216.3,148.4L220.3,153.2L224.3,150L220.3,145.2Z" fill="#0bb3d2" stroke="#007897"/><path d="M220.3,153.2L224.3,157.9L228.3,154.8L224.3,150Z" fill="#15b0d8" stroke="#00739c"/><path d="M224.3,157.9L228.4,162.5L232.4,159.5L228.3,154.8Z" fill="#1aacdd" stroke="#006fa1"/><path d="M228.4,162.5L232.4,167L236.4,164L232.4,159.5Z" fill="#1ea7e1" stroke="#006ba5"/><path d="M232.4,167L236.4,171.4L240.4,168.4L236.4,164Z" fill="#21a3e3" stroke="#0068a8"/><path d="M236.4,171.4L240.4,175.6L244.4,172.8L240.4,168.4Z" fill="#249ee6" stroke="#0064ab"/><path d="M240.4,175.6L244.5,179.8L248.5,177L244.4,172.8Z" fill="#269ae8" stroke="#0061ae"/><path d="M244.5,179.8L248.5,183.8L252.5,181.1L248.5,177Z" fill="#2796eb" stroke="#005db2"/><path d="M248.5,183.8L252.5,187.7L256.5,185L252.5,181.1Z" fill="#2a92ee" stroke="#005ab6"/><path d="M252.5,187.7L256.6,191.5L260.6,188.9L256.5,185Z" fill="#2d8ef1" stroke="#0056b9"/><path d="M256.6,191.5L260.6,195.2L264.6,192.6L260.6,188.9Z" fill="#2d8bf4" stroke="#0053bd"/><path d="M260.6,195.2L264.6,198.8L268.6,196.3L264.6,192.6Z" fill="#2e87f7" stroke="#0050c0"/><path d="M264.6,198.8L268.6,202.2L272.7,199.8L268.6,196.3Z" fill="#2e83f9" stroke="#004ec3"/><path d="M268.6,202.2L272.7,205.6L276.7,203.2L272.7,199.8Z" fill="#2f80fa" stroke="#004bc5"/><path d="M272.7,205.6L276.7,208.9L280.7,206.5L276.7,203.2Z" fill="#317dfc" stroke="#0048c7"/><path d="M276.7,208.9L280.7,212L284.7,209.6L280.7,206.5Z" fill="#347afd" stroke="#0046c9"/><path d="M280.7,212L284.8,215L288.8,212.7L284.7,209.6Z" fill="#3777fe" stroke="#0343ca"/><path d="M284.8,215L288.8,217.9L292.8,215.6L288.8,212.7Z" fill="#3a74ff" stroke="#0641cb"/><path d="M288.8,217.9L292.8,220.7L296.8,218.5L292.8,215.6Z" fill="#3c72ff" stroke="#093ecc"/><path d="M292.8,220.7L296.9,223.4L300.9,221.2L296.8,218.5Z" fill="#3e6fff" stroke="#0b3dcc"/><path d="M296.9,223.4L300.9,226L304.9,223.8L300.9,221.2Z" fill="#406dfe" stroke="#0d3bcc"/><path d="M300.9,226L304.9,228.5L308.9,226.3L304.9,223.8Z" fill="#416cfe" stroke="#0f3acc"/><path d="M304.9,228.5L308.9,230.8L312.9,228.7L308.9,226.3Z" fill="#426afe" stroke="#1038cc"/><path d="M308.9,230.8L313,233.1L317,230.9L312.9,228.7Z" fill="#4269fe" stroke="#1138cc"/><path d="M313,233.1L317,235.2L321,233.1L317,230.9Z" fill="#4368fe" stroke="#1137cc"/><path d="M317,235.2L321,237.2L325,235.1L321,233.1Z" fill="#4368fe" stroke="#1236cc"/><path d="M321,237.2L325.1,239.1L329.1,237L325,235.1Z" fill="#4367fd" stroke="#1236cc"/><path d="M325.1,239.1L329.1,240.9L333.1,238.8L329.1,237Z" fill="#4367fd" stroke="#1236cc"/><path d="M329.1,240.9L333.1,242.6L337.1,240.5L333.1,238.8Z" fill="#4367fd" stroke="#1236cc"/><path d="M333.1,242.6L337.1,244.2L341.2,242.1L337.1,240.5Z" fill="#4367fd" stroke="#1236cc"/><path d="M337.1,244.2L341.2,245.6L345.2,243.6L341.2,242.1Z" fill="#4368fe" stroke="#1236cc"/><path d="M341.2,245.6L345.2,247L349.2,244.9L345.2,243.6Z" fill="#4369fe" stroke="#1137cc"/><path d="M345.2,247L349.2,248.2L353.2,246.1L349.2,244.9Z" fill="#426afe" stroke="#1038cc"/><path d="M349.2,248.2L353.3,249.4L357.3,247.3L353.2,246.1Z" fill="#416bfe" stroke="#0f39cc"/><path d="M353.3,249.4L357.3,250.4L361.3,248.3L357.3,247.3Z" fill="#406cfe" stroke="#0e3acc"/><path d="M357.3,250.4L361.3,251.3L365.3,249.2L361.3,248.3Z" fill="#3f6eff" stroke="#0c3bcc"/><path d="M361.3,251.3L365.4,252.1L369.4,249.9L365.3,249.2Z" fill="#3d70ff" stroke="#0a3dcc"/><path d="M365.4,252.1L369.4,252.7L373.4,250.6L369.4,249.9Z" fill="#3b72ff" stroke="#083fcc"/><path d="M200.2,136.8L204.2,141.9L208.2,138.5L204.2,133.3Z" fill="#03bbc2" stroke="#007f87"/><path d="M204.2,141.9L208.2,146.8L212.2,143.5L208.2,138.5Z" fill="#01b8ca" stroke="#007d8f"/><path d="M208.2,146.8L212.3,151.7L216.3,148.4L212.2,143.5Z" fill="#09b4d1" stroke="#007995"/><path d="M212.3,151.7L216.3,156.4L220.3,153.2L216.3,148.4Z" fill="#13b0d7" stroke="#00749b"/><path d="M216.3,156.4L220.3,161L224.3,157.9L220.3,153.2Z" fill="#1aacdd" stroke="#0070a0"/><path d="M220.3,161L224.4,165.5L228.4,162.5L224.3,157.9Z" fill="#1da8e0" stroke="#006ca5"/><path d="M224.4,165.5L228.4,169.9L232.4,167L228.4,162.5Z" fill="#21a3e3" stroke="#0068a8"/><path d="M228.4,169.9L232.4,174.2L236.4,171.4L232.4,167Z" fill="#249fe5" stroke="#0064ab"/><path d="M232.4,174.2L236.4,178.4L240.4,175.6L236.4,171.4Z" fill="#259be8" stroke="#0061ae"/><path d="M236.4,178.4L240.5,182.5L244.5,179.8L240.4,175.6Z" fill="#2797eb" stroke="#005eb2"/><path d="M240.5,182.5L244.5,186.5L248.5,183.8L244.5,179.8Z" fill="#2a93ee" stroke="#005ab5"/><path d="M244.5,186.5L248.5,190.3L252.5,187.7L248.5,183.8Z" fill="#2c8ff1" stroke="#0057b9"/><path d="M248.5,190.3L252.6,194.1L256.6,191.5L252.5,187.7Z" fill="#2d8bf4" stroke="#0053bd"/><path d="M252.6,194.1L256.6,197.7L260.6,195.2L256.6,191.5Z" fill="#2e87f7" stroke="#0051c0"/><path d="M256.6,197.7L260.6,201.3L264.6,198.8L260.6,195.2Z" fill="#2e83f9" stroke="#004ec3"/><path d="M260.6,201.3L264.6,204.7L268.6,202.2L264.6,198.8Z" fill="#2f80fb" stroke="#004bc6"/><path d="M264.6,204.7L268.7,208L272.7,205.6L268.6,202.2Z" fill="#317dfc" stroke="#0048c7"/><path d="M268.7,208L272.7,211.2L276.7,208.9L272.7,205.6Z" fill="#3479fd" stroke="#0045c9"/><path d="M272.7,211.2L276.7,214.3L280.7,212L276.7,208.9Z" fill="#3876fe" stroke="#0442ca"/><path d="M276.7,214.3L280.8,217.3L284.8,215L280.7,212Z" fill="#3a73ff" stroke="#0740cb"/><path d="M280.8,217.3L284.8,220.2L288.8,217.9L284.8,215Z" fill="#3d71ff" stroke="#0a3ecc"/><path d="M284.8,220.2L288.8,222.9L292.8,220.7L288.8,217.9Z" fill="#3f6eff" stroke="#0c3ccc"/><path d="M288.8,222.9L292.8,225.6L296.9,223.4L292.8,220.7Z" fill="#416cfe" stroke="#0e3acc"/><path d="M292.8,225.6L296.9,228.2L300.9,226L296.9,223.4Z" fill="#426afe" stroke="#1038cc"/><path d="M296.9,228.2L300.9,230.6L304.9,228.5L300.9,226Z" fill="#4369fe" stroke="#1137cc"/><path d="M300.9,230.6L304.9,232.9L308.9,230.8L304.9,228.5Z" fill="#4367fd" stroke="#1236cc"/><path d="M304.9,232.9L309,235.2L313,233.1L308.9,230.8Z" fill="#4466fd" stroke="#1335cc"/><path d="M309,235.2L313,237.3L317,235.2L313,233.1Z" fill="#4465fd" stroke="#1334cc"/><path d="M313,237.3L317,239.3L321,237.2L317,235.2Z" fill="#4465fd" stroke="#1434cc"/><path d="M317,239.3L321.1,241.2L325.1,239.1L321,237.2Z" fill="#4464fd" stroke="#1434cc"/><path d="M321.1,241.2L325.1,243L329.1,240.9L325.1,239.1Z" fill="#4564fd" stroke="#1433cc"/><path d="M325.1,243L329.1,244.6L333.1,242.6L329.1,240.9Z" fill="#4464fd" stroke="#1434cc"/><path d="M329.1,244.6L333.1,246.2L337.1,244.2L333.1,242.6Z" fill="#4464fd" stroke="#1434cc"/><path d="M333.1,246.2L337.2,247.7L341.2,245.6L337.1,244.2Z" fill="#4465fd" stroke="#1334cc"/><path d="M337.2,247.7L341.2,249L345.2,247L341.2,245.6Z" fill="#4466fd" stroke="#1335cc"/><path d="M341.2,249L345.2,250.3L349.2,248.2L345.2,247Z" fill="#4467fd" stroke="#1236cc"/><path d="M345.2,250.3L349.3,251.4L353.3,249.4L349.2,248.2Z" fill="#4368fe" stroke="#1136cc"/><path d="M349.3,251.4L353.3,252.4L357.3,250.4L353.3,249.4Z" fill="#4269fe" stroke="#1038cc"/><path d="M353.3,252.4L357.3,253.3L361.3,251.3L357.3,250.4Z" fill="#416bfe" stroke="#0f39cc"/><path d="M357.3,253.3L361.3,254.2L365.4,252.1L361.3,251.3Z" fill="#406dfe" stroke="#0d3bcc"/><path d="M361.3,254.2L365.4,254.9L369.4,252.7L365.4,252.1Z" fill="#3e6fff" stroke="#0b3ccc"/><path d="M196.2,140.2L200.2,145.2L204.2,141.9L200.2,136.8Z" fill="#00b8c9" stroke="#007d8e"/><path d="M200.2,145.2L204.2,150.1L208.2,146.8L204.2,141.9Z" fill="#07b5d0" stroke="#007994"/><path d="M204.2,150.1L208.3,154.8L212.3,151.7L208.2,146.8Z" fill="#12b1d6" stroke="#00759a"/><path d="M208.3,154.8L212.3,159.5L216.3,156.4L212.3,151.7Z" fill="#19addc" stroke="#00719f"/><path d="M212.3,159.5L216.3,164L220.3,161L216.3,156.4Z" fill="#1da9e0" stroke="#006da4"/><path d="M216.3,164L220.3,168.5L224.4,165.5L220.3,161Z" fill="#20a4e3" stroke="#0069a7"/><path d="M220.3,168.5L224.4,172.8L228.4,169.9L224.4,165.5Z" fill="#23a0e5" stroke="#0065aa"/><path d="M224.4,172.8L228.4,177.1L232.4,174.2L228.4,169.9Z" fill="#259be7" stroke="#0061ae"/><path d="M228.4,177.1L232.4,181.2L236.4,178.4L232.4,174.2Z" fill="#2797eb" stroke="#005eb1"/><path d="M232.4,181.2L236.5,185.2L240.5,182.5L236.4,178.4Z" fill="#2a93ee" stroke="#005ab5"/><path d="M236.5,185.2L240.5,189.1L244.5,186.5L240.5,182.5Z" fill="#2c8ff1" stroke="#0057b8"/><path d="M240.5,189.1L244.5,192.9L248.5,190.3L244.5,186.5Z" fill="#2d8bf4" stroke="#0054bd"/><path d="M244.5,192.9L248.6,196.6L252.6,194.1L248.5,190.3Z" fill="#2e87f7" stroke="#0051c0"/><path d="M248.6,196.6L252.6,200.2L256.6,197.7L252.6,194.1Z" fill="#2e83f9" stroke="#004ec3"/><path d="M252.6,200.2L256.6,203.7L260.6,201.3L256.6,197.7Z" fill="#2f80fb" stroke="#004bc6"/><path d="M256.6,203.7L260.6,207.1L264.6,204.7L260.6,201.3Z" fill="#317cfc" stroke="#0048c8"/><path d="M260.6,207.1L264.7,210.4L268.7,208L264.6,204.7Z" fill="#3579fd" stroke="#0145c9"/><path d="M264.7,210.4L268.7,213.5L272.7,211.2L268.7,208Z" fill="#3876fe" stroke="#0442cb"/><path d="M268.7,213.5L272.7,216.6L276.7,214.3L272.7,211.2Z" fill="#3b72ff" stroke="#083fcc"/><path d="M272.7,216.6L276.8,219.5L280.8,217.3L276.7,214.3Z" fill="#3e70ff" stroke="#0b3dcc"/><path d="M276.8,219.5L280.8,222.4L284.8,220.2L280.8,217.3Z" fill="#406dfe" stroke="#0d3bcc"/><path d="M280.8,222.4L284.8,225.1L288.8,222.9L284.8,220.2Z" fill="#416bfe" stroke="#0f39cc"/><path d="M284.8,225.1L288.8,227.8L292.8,225.6L288.8,222.9Z" fill="#4269fe" stroke="#1137cc"/><path d="M288.8,227.8L292.9,230.3L296.9,228.2L292.8,225.6Z" fill="#4367fd" stroke="#1236cc"/><path d="M292.9,230.3L296.9,232.7L300.9,230.6L296.9,228.2Z" fill="#4466fd" stroke="#1335cc"/><path d="M296.9,232.7L300.9,235L304.9,232.9L300.9,230.6Z" fill="#4464fd" stroke="#1434cc"/><path d="M300.9,235L305,237.2L309,235.2L304.9,232.9Z" fill="#4563fd" stroke="#1433cc"/><path d="M305,237.2L309,239.3L313,237.3L309,235.2Z" fill="#4562fc" stroke="#1532cc"/><path d="M309,239.3L313,241.3L317,239.3L313,237.3Z" fill="#4562fc" stroke="#1532cc"/><path d="M313,241.3L317,243.2L321.1,241.2L317,239.3Z" fill="#4562fc" stroke="#1531cc"/><path d="M317,243.2L321.1,245L325.1,243L321.1,241.2Z" fill="#4561fc" stroke="#1531cc"/><path d="M321.1,245L325.1,246.7L329.1,244.6L325.1,243Z" fill="#4561fc" stroke="#1531cc"/><path d="M325.1,246.7L329.1,248.2L333.1,246.2L329.1,244.6Z" fill="#4562fc" stroke="#1532cc"/><path d="M329.1,248.2L333.2,249.7L337.2,247.7L333.1,246.2Z" fill="#4562fc" stroke="#1532cc"/><path d="M333.2,249.7L337.2,251.1L341.2,249L337.2,247.7Z" fill="#4563fd" stroke="#1533cc"/><path d="M337.2,251.1L341.2,252.3L345.2,250.3L341.2,249Z" fill="#4564fd" stroke="#1433cc"/><path d="M341.2,252.3L345.3,253.4L349.3,251.4L345.2,250.3Z" fill="#4465fd" stroke="#1334cc"/><path d="M345.3,253.4L349.3,254.5L353.3,252.4L349.3,251.4Z" fill="#4467fd" stroke="#1235cc"/><path d="M349.3,254.5L353.3,255.4L357.3,253.3L353.3,252.4Z" fill="#4368fe" stroke="#1137cc"/><path d="M353.3,255.4L357.3,256.2L361.3,254.2L357.3,253.3Z" fill="#426afe" stroke="#1038cc"/><path d="M357.3,256.2L361.4,256.9L365.4,254.9L361.3,254.2Z" fill="#406cfe" stroke="#0e3acc"/><path d="M192.2,143.6L196.2,148.5L200.2,145.2L196.2,140.2Z" fill="#05b5cf" stroke="#007a93"/><path d="M196.2,148.5L200.2,153.3L204.2,150.1L200.2,145.2Z" fill="#10b2d5" stroke="#007699"/><path d="M200.2,153.3L204.3,158L208.3,154.8L204.2,150.1Z" fill="#18aedb" stroke="#00719f"/><path d="M204.3,158L208.3,162.6L212.3,159.5L208.3,154.8Z" fill="#1ca9df" stroke="#006da3"/><path d="M208.3,162.6L212.3,167L216.3,164L212.3,159.5Z" fill="#20a5e2" stroke="#0069a7"/><path d="M212.3,167L216.3,171.4L220.3,168.5L216.3,164Z" fill="#23a0e5" stroke="#0066aa"/><path d="M216.3,171.4L220.4,175.7L224.4,172.8L220.3,168.5Z" fill="#259ce7" stroke="#0062ad"/><path d="M220.4,175.7L224.4,179.8L228.4,177.1L224.4,172.8Z" fill="#2798ea" stroke="#005eb1"/><path d="M224.4,179.8L228.4,183.9L232.4,181.2L228.4,177.1Z" fill="#2994ed" stroke="#005bb5"/><path d="M228.4,183.9L232.5,187.9L236.5,185.2L232.4,181.2Z" fill="#2c8ff0" stroke="#0057b8"/><path d="M232.5,187.9L236.5,191.7L240.5,189.1L236.5,185.2Z" fill="#2d8bf4" stroke="#0054bc"/><path d="M236.5,191.7L240.5,195.5L244.5,192.9L240.5,189.1Z" fill="#2d87f7" stroke="#0051c0"/><path d="M240.5,195.5L244.5,199.1L248.6,196.6L244.5,192.9Z" fill="#2e83f9" stroke="#004ec3"/><path d="M244.5,199.1L248.6,202.7L252.6,200.2L248.6,196.6Z" fill="#2f80fb" stroke="#004bc6"/><path d="M248.6,202.7L252.6,206.1L256.6,203.7L252.6,200.2Z" fill="#327cfc" stroke="#0048c8"/><path d="M252.6,206.1L256.6,209.4L260.6,207.1L256.6,203.7Z" fill="#3579fd" stroke="#0145c9"/><path d="M256.6,209.4L260.7,212.7L264.7,210.4L260.6,207.1Z" fill="#3975fe" stroke="#0542cb"/><path d="M260.7,212.7L264.7,215.8L268.7,213.5L264.7,210.4Z" fill="#3c72ff" stroke="#093fcc"/><path d="M264.7,215.8L268.7,218.8L272.7,216.6L268.7,213.5Z" fill="#3e6fff" stroke="#0c3ccc"/><path d="M268.7,218.8L272.8,221.7L276.8,219.5L272.7,216.6Z" fill="#406cfe" stroke="#0e3acc"/><path d="M272.8,221.7L276.8,224.6L280.8,222.4L276.8,219.5Z" fill="#426afe" stroke="#1038cc"/><path d="M276.8,224.6L280.8,227.3L284.8,225.1L280.8,222.4Z" fill="#4368fe" stroke="#1236cc"/><path d="M280.8,227.3L284.8,229.9L288.8,227.8L284.8,225.1Z" fill="#4466fd" stroke="#1335cc"/><path d="M284.8,229.9L288.9,232.4L292.9,230.3L288.8,227.8Z" fill="#4564fd" stroke="#1434cc"/><path d="M288.9,232.4L292.9,234.8L296.9,232.7L292.9,230.3Z" fill="#4563fc" stroke="#1532cc"/><path d="M292.9,234.8L296.9,237.1L300.9,235L296.9,232.7Z" fill="#4562fc" stroke="#1531cc"/><path d="M296.9,237.1L301,239.3L305,237.2L300.9,235Z" fill="#4661fc" stroke="#1631cc"/><path d="M301,239.3L305,241.4L309,239.3L305,237.2Z" fill="#4660fc" stroke="#1630cc"/><path d="M305,241.4L309,243.3L313,241.3L309,239.3Z" fill="#465ffb" stroke="#1730cc"/><path d="M309,243.3L313,245.2L317,243.2L313,241.3Z" fill="#465ffb" stroke="#172fcc"/><path d="M313,245.2L317.1,247L321.1,245L317,243.2Z" fill="#465ffb" stroke="#172fcc"/><path d="M317.1,247L321.1,248.7L325.1,246.7L321.1,245Z" fill="#465ffb" stroke="#172fcc"/><path d="M321.1,248.7L325.1,250.2L329.1,248.2L325.1,246.7Z" fill="#465ffb" stroke="#1730cc"/><path d="M325.1,250.2L329.2,251.7L333.2,249.7L329.1,248.2Z" fill="#4660fb" stroke="#1630cc"/><path d="M329.2,251.7L333.2,253L337.2,251.1L333.2,249.7Z" fill="#4660fc" stroke="#1631cc"/><path d="M333.2,253L337.2,254.3L341.2,252.3L337.2,251.1Z" fill="#4561fc" stroke="#1531cc"/><path d="M337.2,254.3L341.2,255.4L345.3,253.4L341.2,252.3Z" fill="#4562fc" stroke="#1532cc"/><path d="M341.2,255.4L345.3,256.5L349.3,254.5L345.3,253.4Z" fill="#4564fd" stroke="#1433cc"/><path d="M345.3,256.5L349.3,257.4L353.3,255.4L349.3,254.5Z" fill="#4465fd" stroke="#1334cc"/><path d="M349.3,257.4L353.3,258.3L357.3,256.2L353.3,255.4Z" fill="#4367fd" stroke="#1236cc"/><path d="M353.3,258.3L357.4,259L361.4,256.9L357.3,256.2Z" fill="#4269fe" stroke="#1038cc"/><path d="M188.2,146.9L192.2,151.7L196.2,148.5L192.2,143.6Z" fill="#0fb2d4" stroke="#007698"/><path d="M192.2,151.7L196.2,156.4L200.2,153.3L196.2,148.5Z" fill="#17aeda" stroke="#00729e"/><path d="M196.2,156.4L200.2,161.1L204.3,158L200.2,153.3Z" fill="#1caadf" stroke="#006ea3"/><path d="M200.2,161.1L204.3,165.6L208.3,162.6L204.3,158Z" fill="#1fa6e2" stroke="#006aa7"/><path d="M204.3,165.6L208.3,170L212.3,167L208.3,162.6Z" fill="#23a1e4" stroke="#0066a9"/><path d="M208.3,170L212.3,174.3L216.3,171.4L212.3,167Z" fill="#259de7" stroke="#0062ad"/><path d="M212.3,174.3L216.4,178.5L220.4,175.7L216.3,171.4Z" fill="#2698ea" stroke="#005fb0"/><path d="M216.4,178.5L220.4,182.6L224.4,179.8L220.4,175.7Z" fill="#2994ed" stroke="#005bb4"/><path d="M220.4,182.6L224.4,186.6L228.4,183.9L224.4,179.8Z" fill="#2c90f0" stroke="#0058b8"/><path d="M224.4,186.6L228.5,190.5L232.5,187.9L228.4,183.9Z" fill="#2d8cf3" stroke="#0054bc"/><path d="M228.5,190.5L232.5,194.3L236.5,191.7L232.5,187.9Z" fill="#2d88f6" stroke="#0051c0"/><path d="M232.5,194.3L236.5,198L240.5,195.5L236.5,191.7Z" fill="#2e84f9" stroke="#004ec3"/><path d="M236.5,198L240.5,201.6L244.5,199.1L240.5,195.5Z" fill="#2f80fb" stroke="#004bc6"/><path d="M240.5,201.6L244.6,205.1L248.6,202.7L244.5,199.1Z" fill="#327cfc" stroke="#0048c8"/><path d="M244.6,205.1L248.6,208.5L252.6,206.1L248.6,202.7Z" fill="#3578fd" stroke="#0144c9"/><path d="M248.6,208.5L252.6,211.8L256.6,209.4L252.6,206.1Z" fill="#3975fe" stroke="#0541cb"/><path d="M252.6,211.8L256.7,215L260.7,212.7L256.6,209.4Z" fill="#3c71ff" stroke="#093ecc"/><path d="M256.7,215L260.7,218.1L264.7,215.8L260.7,212.7Z" fill="#3f6eff" stroke="#0c3ccc"/><path d="M260.7,218.1L264.7,221L268.7,218.8L264.7,215.8Z" fill="#416cfe" stroke="#0f39cc"/><path d="M264.7,221L268.7,223.9L272.8,221.7L268.7,218.8Z" fill="#4269fe" stroke="#1137cc"/><path d="M268.7,223.9L272.8,226.7L276.8,224.6L272.8,221.7Z" fill="#4367fd" stroke="#1236cc"/><path d="M272.8,226.7L276.8,229.4L280.8,227.3L276.8,224.6Z" fill="#4465fd" stroke="#1434cc"/><path d="M276.8,229.4L280.8,232L284.8,229.9L280.8,227.3Z" fill="#4563fd" stroke="#1533cc"/><path d="M280.8,232L284.9,234.4L288.9,232.4L284.8,229.9Z" fill="#4561fc" stroke="#1531cc"/><path d="M284.9,234.4L288.9,236.8L292.9,234.8L288.9,232.4Z" fill="#4660fc" stroke="#1630cc"/><path d="M288.9,236.8L292.9,239.1L296.9,237.1L292.9,234.8Z" fill="#465ffb" stroke="#172fcc"/><path d="M292.9,239.1L297,241.3L301,239.3L296.9,237.1Z" fill="#465efb" stroke="#172fcc"/><path d="M297,241.3L301,243.3L305,241.4L301,239.3Z" fill="#465dfa" stroke="#182ecc"/><path d="M301,243.3L305,245.3L309,243.3L305,241.4Z" fill="#475dfa" stroke="#182ecb"/><path d="M305,245.3L309,247.2L313,245.2L309,243.3Z" fill="#475cfa" stroke="#182ecb"/><path d="M309,247.2L313.1,249L317.1,247L313,245.2Z" fill="#475cfa" stroke="#182dcb"/><path d="M313.1,249L317.1,250.6L321.1,248.7L317.1,247Z" fill="#475cfa" stroke="#182dcb"/><path d="M317.1,250.6L321.1,252.2L325.1,250.2L321.1,248.7Z" fill="#475cfa" stroke="#182ecb"/><path d="M321.1,252.2L325.2,253.6L329.2,251.7L325.1,250.2Z" fill="#465dfa" stroke="#182ecc"/><path d="M325.2,253.6L329.2,255L333.2,253L329.2,251.7Z" fill="#465efb" stroke="#172fcc"/><path d="M329.2,255L333.2,256.3L337.2,254.3L333.2,253Z" fill="#465ffb" stroke="#172fcc"/><path d="M333.2,256.3L337.2,257.4L341.2,255.4L337.2,254.3Z" fill="#4660fc" stroke="#1630cc"/><path d="M337.2,257.4L341.3,258.5L345.3,256.5L341.2,255.4Z" fill="#4561fc" stroke="#1631cc"/><path d="M341.3,258.5L345.3,259.4L349.3,257.4L345.3,256.5Z" fill="#4563fc" stroke="#1532cc"/><path d="M345.3,259.4L349.3,260.3L353.3,258.3L349.3,257.4Z" fill="#4464fd" stroke="#1434cc"/><path d="M349.3,260.3L353.4,261L357.4,259L353.3,258.3Z" fill="#4466fd" stroke="#1235cc"/><path d="M184.2,150.2L188.2,154.9L192.2,151.7L188.2,146.9Z" fill="#16afd9" stroke="#00739d"/><path d="M188.2,154.9L192.2,159.6L196.2,156.4L192.2,151.7Z" fill="#1babde" stroke="#006fa2"/><path d="M192.2,159.6L196.2,164.1L200.2,161.1L196.2,156.4Z" fill="#1fa6e2" stroke="#006ba6"/><path d="M196.2,164.1L200.3,168.5L204.3,165.6L200.2,161.1Z" fill="#22a2e4" stroke="#0067a9"/><path d="M200.3,168.5L204.3,172.9L208.3,170L204.3,165.6Z" fill="#259de6" stroke="#0063ac"/><path d="M204.3,172.9L208.3,177.1L212.3,174.3L208.3,170Z" fill="#2699e9" stroke="#005fb0"/><path d="M208.3,177.1L212.4,181.3L216.4,178.5L212.3,174.3Z" fill="#2995ec" stroke="#005cb4"/><path d="M212.4,181.3L216.4,185.3L220.4,182.6L216.4,178.5Z" fill="#2c90f0" stroke="#0058b7"/><path d="M216.4,185.3L220.4,189.2L224.4,186.6L220.4,182.6Z" fill="#2d8cf3" stroke="#0055bb"/><path d="M220.4,189.2L224.4,193.1L228.5,190.5L224.4,186.6Z" fill="#2d88f6" stroke="#0051c0"/><path d="M224.4,193.1L228.5,196.8L232.5,194.3L228.5,190.5Z" fill="#2e84f9" stroke="#004ec3"/><path d="M228.5,196.8L232.5,200.5L236.5,198L232.5,194.3Z" fill="#2f80fa" stroke="#004bc5"/><path d="M232.5,200.5L236.5,204L240.5,201.6L236.5,198Z" fill="#327cfc" stroke="#0048c8"/><path d="M236.5,204L240.6,207.5L244.6,205.1L240.5,201.6Z" fill="#3578fd" stroke="#0144c9"/><path d="M240.6,207.5L244.6,210.8L248.6,208.5L244.6,205.1Z" fill="#3975ff" stroke="#0541cb"/><path d="M244.6,210.8L248.6,214.1L252.6,211.8L248.6,208.5Z" fill="#3c71ff" stroke="#093ecc"/><path d="M248.6,214.1L252.7,217.2L256.7,215L252.6,211.8Z" fill="#3f6eff" stroke="#0d3bcc"/><path d="M252.7,217.2L256.7,220.3L260.7,218.1L256.7,215Z" fill="#416bfe" stroke="#0f39cc"/><path d="M256.7,220.3L260.7,223.2L264.7,221L260.7,218.1Z" fill="#4368fe" stroke="#1137cc"/><path d="M260.7,223.2L264.7,226.1L268.7,223.9L264.7,221Z" fill="#4466fd" stroke="#1335cc"/><path d="M264.7,226.1L268.8,228.8L272.8,226.7L268.7,223.9Z" fill="#4564fd" stroke="#1433cc"/><path d="M268.8,228.8L272.8,231.5L276.8,229.4L272.8,226.7Z" fill="#4562fc" stroke="#1532cc"/><path d="M272.8,231.5L276.8,234L280.8,232L276.8,229.4Z" fill="#4660fc" stroke="#1630cc"/><path d="M276.8,234L280.9,236.5L284.9,234.4L280.8,232Z" fill="#465ffb" stroke="#172fcc"/><path d="M280.9,236.5L284.9,238.8L288.9,236.8L284.9,234.4Z" fill="#465dfb" stroke="#172ecc"/><path d="M284.9,238.8L288.9,241.1L292.9,239.1L288.9,236.8Z" fill="#475cfa" stroke="#182dcb"/><path d="M288.9,241.1L292.9,243.3L297,241.3L292.9,239.1Z" fill="#475bfa" stroke="#182dcb"/><path d="M292.9,243.3L297,245.3L301,243.3L297,241.3Z" fill="#475af9" stroke="#192ccb"/><path d="M297,245.3L301,247.3L305,245.3L301,243.3Z" fill="#475af9" stroke="#192ccb"/><path d="M301,247.3L305,249.1L309,247.2L305,245.3Z" fill="#475af9" stroke="#192ccb"/><path d="M305,249.1L309.1,250.9L313.1,249L309,247.2Z" fill="#475af9" stroke="#192ccb"/><path d="M309.1,250.9L313.1,252.6L317.1,250.6L313.1,249Z" fill="#475af9" stroke="#192ccb"/><path d="M313.1,252.6L317.1,254.1L321.1,252.2L317.1,250.6Z" fill="#475af9" stroke="#192ccb"/><path d="M317.1,254.1L321.2,255.6L325.2,253.6L321.1,252.2Z" fill="#475af9" stroke="#192ccb"/><path d="M321.2,255.6L325.2,256.9L329.2,255L325.2,253.6Z" fill="#475bfa" stroke="#182dcb"/><path d="M325.2,256.9L329.2,258.2L333.2,256.3L329.2,255Z" fill="#475cfa" stroke="#182dcb"/><path d="M329.2,258.2L333.2,259.4L337.2,257.4L333.2,256.3Z" fill="#465dfb" stroke="#182ecc"/><path d="M333.2,259.4L337.3,260.4L341.3,258.5L337.2,257.4Z" fill="#465efb" stroke="#172fcc"/><path d="M337.3,260.4L341.3,261.4L345.3,259.4L341.3,258.5Z" fill="#4660fc" stroke="#1630cc"/><path d="M341.3,261.4L345.3,262.3L349.3,260.3L345.3,259.4Z" fill="#4562fc" stroke="#1532cc"/><path d="M345.3,262.3L349.4,263.1L353.4,261L349.3,260.3Z" fill="#4564fd" stroke="#1433cc"/><path d="M180.2,153.4L184.2,158.1L188.2,154.9L184.2,150.2Z" fill="#1aabdd" stroke="#006fa1"/><path d="M184.2,158.1L188.2,162.7L192.2,159.6L188.2,154.9Z" fill="#1ea7e1" stroke="#006ba6"/><path d="M188.2,162.7L192.2,167.1L196.2,164.1L192.2,159.6Z" fill="#22a2e4" stroke="#0067a9"/><path d="M192.2,167.1L196.3,171.5L200.3,168.5L196.2,164.1Z" fill="#249ee6" stroke="#0063ac"/><path d="M196.3,171.5L200.3,175.8L204.3,172.9L200.3,168.5Z" fill="#2699e9" stroke="#0060af"/><path d="M200.3,175.8L204.3,179.9L208.3,177.1L204.3,172.9Z" fill="#2895ec" stroke="#005cb3"/><path d="M204.3,179.9L208.4,184L212.4,181.3L208.3,177.1Z" fill="#2b91ef" stroke="#0058b7"/><path d="M208.4,184L212.4,188L216.4,185.3L212.4,181.3Z" fill="#2d8cf3" stroke="#0055bb"/><path d="M212.4,188L216.4,191.9L220.4,189.2L216.4,185.3Z" fill="#2d88f6" stroke="#0052bf"/><path d="M216.4,191.9L220.4,195.6L224.4,193.1L220.4,189.2Z" fill="#2e84f8" stroke="#004ec3"/><path d="M220.4,195.6L224.5,199.3L228.5,196.8L224.4,193.1Z" fill="#2f80fa" stroke="#004bc5"/><path d="M224.5,199.3L228.5,202.9L232.5,200.5L228.5,196.8Z" fill="#317cfc" stroke="#0048c8"/><path d="M228.5,202.9L232.5,206.4L236.5,204L232.5,200.5Z" fill="#3578fd" stroke="#0144c9"/><path d="M232.5,206.4L236.6,209.8L240.6,207.5L236.5,204Z" fill="#3975ff" stroke="#0641cb"/><path d="M236.6,209.8L240.6,213.1L244.6,210.8L240.6,207.5Z" fill="#3d71ff" stroke="#0a3ecc"/><path d="M240.6,213.1L244.6,216.3L248.6,214.1L244.6,210.8Z" fill="#3f6efe" stroke="#0d3bcc"/><path d="M244.6,216.3L248.6,219.4L252.7,217.2L248.6,214.1Z" fill="#416bfe" stroke="#0f39cc"/><path d="M248.6,219.4L252.7,222.4L256.7,220.3L252.7,217.2Z" fill="#4368fe" stroke="#1236cc"/><path d="M252.7,222.4L256.7,225.4L260.7,223.2L256.7,220.3Z" fill="#4465fd" stroke="#1334cc"/><path d="M256.7,225.4L260.7,228.2L264.7,226.1L260.7,223.2Z" fill="#4563fd" stroke="#1533cc"/><path d="M260.7,228.2L264.8,230.9L268.8,228.8L264.7,226.1Z" fill="#4661fc" stroke="#1631cc"/><path d="M264.8,230.9L268.8,233.5L272.8,231.5L268.8,228.8Z" fill="#465ffb" stroke="#1730cc"/><path d="M268.8,233.5L272.8,236.1L276.8,234L272.8,231.5Z" fill="#465dfb" stroke="#172ecc"/><path d="M272.8,236.1L276.9,238.5L280.9,236.5L276.8,234Z" fill="#475cfa" stroke="#182dcb"/><path d="M276.9,238.5L280.9,240.8L284.9,238.8L280.9,236.5Z" fill="#475bf9" stroke="#192ccb"/><path d="M280.9,240.8L284.9,243.1L288.9,241.1L284.9,238.8Z" fill="#4759f9" stroke="#192ccb"/><path d="M284.9,243.1L288.9,245.2L292.9,243.3L288.9,241.1Z" fill="#4759f8" stroke="#192bca"/><path d="M288.9,245.2L293,247.2L297,245.3L292.9,243.3Z" fill="#4758f8" stroke="#1a2aca"/><path d="M293,247.2L297,249.2L301,247.3L297,245.3Z" fill="#4757f8" stroke="#1a2aca"/><path d="M297,249.2L301,251L305,249.1L301,247.3Z" fill="#4757f7" stroke="#1a2aca"/><path d="M301,251L305.1,252.8L309.1,250.9L305,249.1Z" fill="#4757f7" stroke="#1a2aca"/><path d="M305.1,252.8L309.1,254.5L313.1,252.6L309.1,250.9Z" fill="#4757f7" stroke="#1a2aca"/><path d="M309.1,254.5L313.1,256L317.1,254.1L313.1,252.6Z" fill="#4758f8" stroke="#1a2aca"/><path d="M313.1,256L317.1,257.5L321.2,255.6L317.1,254.1Z" fill="#4758f8" stroke="#1a2aca"/><path d="M317.1,257.5L321.2,258.9L325.2,256.9L321.2,255.6Z" fill="#4759f8" stroke="#192bcb"/><path d="M321.2,258.9L325.2,260.1L329.2,258.2L325.2,256.9Z" fill="#475af9" stroke="#192ccb"/><path d="M325.2,260.1L329.2,261.3L333.2,259.4L329.2,258.2Z" fill="#475bf9" stroke="#192ccb"/><path d="M329.2,261.3L333.3,262.4L337.3,260.4L333.2,259.4Z" fill="#475cfa" stroke="#182dcb"/><path d="M333.3,262.4L337.3,263.4L341.3,261.4L337.3,260.4Z" fill="#465dfb" stroke="#172ecc"/><path d="M337.3,263.4L341.3,264.3L345.3,262.3L341.3,261.4Z" fill="#465ffb" stroke="#1730cc"/><path d="M341.3,264.3L345.4,265L349.4,263.1L345.3,262.3Z" fill="#4561fc" stroke="#1631cc"/><path d="M176.1,156.6L180.2,161.2L184.2,158.1L180.2,153.4Z" fill="#1ea8e1" stroke="#006ca5"/><path d="M180.2,161.2L184.2,165.7L188.2,162.7L184.2,158.1Z" fill="#21a3e3" stroke="#0068a8"/><path d="M184.2,165.7L188.2,170.1L192.2,167.1L188.2,162.7Z" fill="#249ee6" stroke="#0064ab"/><path d="M188.2,170.1L192.3,174.4L196.3,171.5L192.2,167.1Z" fill="#269ae8" stroke="#0060af"/><path d="M192.3,174.4L196.3,178.6L200.3,175.8L196.3,171.5Z" fill="#2896ec" stroke="#005db3"/><path d="M196.3,178.6L200.3,182.7L204.3,179.9L200.3,175.8Z" fill="#2b91ef" stroke="#0059b6"/><path d="M200.3,182.7L204.4,186.7L208.4,184L204.3,179.9Z" fill="#2d8df2" stroke="#0055ba"/><path d="M204.4,186.7L208.4,190.6L212.4,188L208.4,184Z" fill="#2d89f6" stroke="#0052bf"/><path d="M208.4,190.6L212.4,194.4L216.4,191.9L212.4,188Z" fill="#2e85f8" stroke="#004fc2"/><path d="M212.4,194.4L216.4,198.2L220.4,195.6L216.4,191.9Z" fill="#2f81fa" stroke="#004bc5"/><path d="M216.4,198.2L220.5,201.8L224.5,199.3L220.4,195.6Z" fill="#317dfc" stroke="#0048c7"/><path d="M220.5,201.8L224.5,205.3L228.5,202.9L224.5,199.3Z" fill="#3579fd" stroke="#0145c9"/><path d="M224.5,205.3L228.5,208.8L232.5,206.4L228.5,202.9Z" fill="#3975ff" stroke="#0641cb"/><path d="M228.5,208.8L232.6,212.1L236.6,209.8L232.5,206.4Z" fill="#3d71ff" stroke="#0a3ecc"/><path d="M232.6,212.1L236.6,215.4L240.6,213.1L236.6,209.8Z" fill="#406dfe" stroke="#0d3bcc"/><path d="M236.6,215.4L240.6,218.5L244.6,216.3L240.6,213.1Z" fill="#426afe" stroke="#1038cc"/><path d="M240.6,218.5L244.6,221.6L248.6,219.4L244.6,216.3Z" fill="#4367fd" stroke="#1236cc"/><path d="M244.6,221.6L248.7,224.6L252.7,222.4L248.6,219.4Z" fill="#4465fd" stroke="#1434cc"/><path d="M248.7,224.6L252.7,227.5L256.7,225.4L252.7,222.4Z" fill="#4562fc" stroke="#1532cc"/><path d="M252.7,227.5L256.7,230.2L260.7,228.2L256.7,225.4Z" fill="#4660fc" stroke="#1630cc"/><path d="M256.7,230.2L260.8,232.9L264.8,230.9L260.7,228.2Z" fill="#465efb" stroke="#172fcc"/><path d="M260.8,232.9L264.8,235.5L268.8,233.5L264.8,230.9Z" fill="#475cfa" stroke="#182ecb"/><path d="M264.8,235.5L268.8,238L272.8,236.1L268.8,233.5Z" fill="#475bf9" stroke="#192ccb"/><path d="M268.8,238L272.9,240.5L276.9,238.5L272.8,236.1Z" fill="#4759f9" stroke="#192bcb"/><path d="M272.9,240.5L276.9,242.8L280.9,240.8L276.9,238.5Z" fill="#4758f8" stroke="#1a2aca"/><path d="M276.9,242.8L280.9,245L284.9,243.1L280.9,240.8Z" fill="#4757f7" stroke="#1a2aca"/><path d="M280.9,245L284.9,247.1L288.9,245.2L284.9,243.1Z" fill="#4756f7" stroke="#1a29ca"/><path d="M284.9,247.1L289,249.2L293,247.2L288.9,245.2Z" fill="#4856f6" stroke="#1b29ca"/><path d="M289,249.2L293,251.1L297,249.2L293,247.2Z" fill="#4855f6" stroke="#1b28c9"/><path d="M293,251.1L297,252.9L301,251L297,249.2Z" fill="#4855f6" stroke="#1b28c9"/><path d="M297,252.9L301.1,254.7L305.1,252.8L301,251Z" fill="#4855f6" stroke="#1b28c9"/><path d="M301.1,254.7L305.1,256.3L309.1,254.5L305.1,252.8Z" fill="#4855f6" stroke="#1b28c9"/><path d="M305.1,256.3L309.1,257.9L313.1,256L309.1,254.5Z" fill="#4855f6" stroke="#1b28c9"/><path d="M309.1,257.9L313.1,259.4L317.1,257.5L313.1,256Z" fill="#4756f6" stroke="#1b29ca"/><path d="M313.1,259.4L317.2,260.8L321.2,258.9L317.1,257.5Z" fill="#4756f7" stroke="#1a29ca"/><path d="M317.2,260.8L321.2,262L325.2,260.1L321.2,258.9Z" fill="#4757f7" stroke="#1a2aca"/><path d="M321.2,262L325.2,263.2L329.2,261.3L325.2,260.1Z" fill="#4758f8" stroke="#1a2bca"/><path d="M325.2,263.2L329.3,264.3L333.3,262.4L329.2,261.3Z" fill="#475af9" stroke="#192ccb"/><path d="M329.3,264.3L333.3,265.3L337.3,263.4L333.3,262.4Z" fill="#475bf9" stroke="#182dcb"/><path d="M333.3,265.3L337.3,266.2L341.3,264.3L337.3,263.4Z" fill="#475dfa" stroke="#182ecb"/><path d="M337.3,266.2L341.3,267L345.4,265L341.3,264.3Z" fill="#465efb" stroke="#172fcc"/><path d="M172.1,159.8L176.2,164.3L180.2,161.2L176.1,156.6Z" fill="#21a4e3" stroke="#0068a8"/><path d="M176.2,164.3L180.2,168.7L184.2,165.7L180.2,161.2Z" fill="#249fe5" stroke="#0064ab"/><path d="M180.2,168.7L184.2,173L188.2,170.1L184.2,165.7Z" fill="#259be8" stroke="#0061ae"/><path d="M184.2,173L188.3,177.2L192.3,174.4L188.2,170.1Z" fill="#2796eb" stroke="#005db2"/><path d="M188.3,177.2L192.3,181.4L196.3,178.6L192.3,174.4Z" fill="#2b92ee" stroke="#0059b6"/><path d="M192.3,181.4L196.3,185.4L200.3,182.7L196.3,178.6Z" fill="#2d8df2" stroke="#0056ba"/><path d="M196.3,185.4L200.3,189.3L204.4,186.7L200.3,182.7Z" fill="#2d89f5" stroke="#0052be"/><path d="M200.3,189.3L204.4,193.2L208.4,190.6L204.4,186.7Z" fill="#2e85f8" stroke="#004fc2"/><path d="M204.4,193.2L208.4,197L212.4,194.4L208.4,190.6Z" fill="#2f81fa" stroke="#004cc5"/><path d="M208.4,197L212.4,200.6L216.4,198.2L212.4,194.4Z" fill="#317dfc" stroke="#0048c7"/><path d="M212.4,200.6L216.5,204.2L220.5,201.8L216.4,198.2Z" fill="#3579fd" stroke="#0145c9"/><path d="M216.5,204.2L220.5,207.7L224.5,205.3L220.5,201.8Z" fill="#3975fe" stroke="#0541cb"/><path d="M220.5,207.7L224.5,211.1L228.5,208.8L224.5,205.3Z" fill="#3d71ff" stroke="#0a3ecc"/><path d="M224.5,211.1L228.6,214.4L232.6,212.1L228.5,208.8Z" fill="#406dfe" stroke="#0d3bcc"/><path d="M228.6,214.4L232.6,217.6L236.6,215.4L232.6,212.1Z" fill="#426afe" stroke="#1038cc"/><path d="M232.6,217.6L236.6,220.7L240.6,218.5L236.6,215.4Z" fill="#4367fd" stroke="#1236cc"/><path d="M236.6,220.7L240.6,223.8L244.6,221.6L240.6,218.5Z" fill="#4464fd" stroke="#1434cc"/><path d="M240.6,223.8L244.7,226.7L248.7,224.6L244.6,221.6Z" fill="#4562fc" stroke="#1532cc"/><path d="M244.7,226.7L248.7,229.5L252.7,227.5L248.7,224.6Z" fill="#465ffb" stroke="#1630cc"/><path d="M248.7,229.5L252.7,232.3L256.7,230.2L252.7,227.5Z" fill="#465dfb" stroke="#172ecc"/><path d="M252.7,232.3L256.8,235L260.8,232.9L256.7,230.2Z" fill="#475bfa" stroke="#182dcb"/><path d="M256.8,235L260.8,237.5L264.8,235.5L260.8,232.9Z" fill="#475af9" stroke="#192ccb"/><path d="M260.8,237.5L264.8,240L268.8,238L264.8,235.5Z" fill="#4758f8" stroke="#1a2bca"/><path d="M264.8,240L268.8,242.4L272.9,240.5L268.8,238Z" fill="#4757f7" stroke="#1a2aca"/><path d="M268.8,242.4L272.9,244.7L276.9,242.8L272.9,240.5Z" fill="#4756f6" stroke="#1b29ca"/><path d="M272.9,244.7L276.9,246.9L280.9,245L276.9,242.8Z" fill="#4855f6" stroke="#1b28c9"/><path d="M276.9,246.9L280.9,249L284.9,247.1L280.9,245Z" fill="#4854f5" stroke="#1b27c9"/><path d="M280.9,249L285,251L289,249.2L284.9,247.1Z" fill="#4853f5" stroke="#1b27c9"/><path d="M285,251L289,253L293,251.1L289,249.2Z" fill="#4853f5" stroke="#1c27c8"/><path d="M289,253L293,254.8L297,252.9L293,251.1Z" fill="#4852f4" stroke="#1c26c8"/><path d="M293,254.8L297.1,256.5L301.1,254.7L297,252.9Z" fill="#4852f4" stroke="#1c26c8"/><path d="M297.1,256.5L301.1,258.2L305.1,256.3L301.1,254.7Z" fill="#4853f4" stroke="#1c27c8"/><path d="M301.1,258.2L305.1,259.8L309.1,257.9L305.1,256.3Z" fill="#4853f5" stroke="#1c27c9"/><path d="M305.1,259.8L309.1,261.2L313.1,259.4L309.1,257.9Z" fill="#4853f5" stroke="#1b27c9"/><path d="M309.1,261.2L313.2,262.6L317.2,260.8L313.1,259.4Z" fill="#4854f5" stroke="#1b28c9"/><path d="M313.2,262.6L317.2,263.9L321.2,262L317.2,260.8Z" fill="#4855f6" stroke="#1b28c9"/><path d="M317.2,263.9L321.2,265.1L325.2,263.2L321.2,262Z" fill="#4756f7" stroke="#1b29ca"/><path d="M321.2,265.1L325.3,266.2L329.3,264.3L325.2,263.2Z" fill="#4757f7" stroke="#1a2aca"/><path d="M325.3,266.2L329.3,267.2L333.3,265.3L329.3,264.3Z" fill="#4759f8" stroke="#192bca"/><path d="M329.3,267.2L333.3,268.1L337.3,266.2L333.3,265.3Z" fill="#475af9" stroke="#192ccb"/><path d="M333.3,268.1L337.3,269L341.3,267L337.3,266.2Z" fill="#475cfa" stroke="#182dcb"/><path d="M168.1,162.9L172.2,167.3L176.2,164.3L172.1,159.8Z" fill="#23a0e5" stroke="#0065aa"/><path d="M172.2,167.3L176.2,171.6L180.2,168.7L176.2,164.3Z" fill="#259be8" stroke="#0061ae"/><path d="M176.2,171.6L180.2,175.9L184.2,173L180.2,168.7Z" fill="#2797eb" stroke="#005eb2"/><path d="M180.2,175.9L184.3,180L188.3,177.2L184.2,173Z" fill="#2a92ee" stroke="#005ab5"/><path d="M184.3,180L188.3,184.1L192.3,181.4L188.3,177.2Z" fill="#2d8ef1" stroke="#0056b9"/><path d="M188.3,184.1L192.3,188.1L196.3,185.4L192.3,181.4Z" fill="#2d8af5" stroke="#0053be"/><path d="M192.3,188.1L196.3,191.9L200.3,189.3L196.3,185.4Z" fill="#2e85f8" stroke="#004fc2"/><path d="M196.3,191.9L200.4,195.7L204.4,193.2L200.3,189.3Z" fill="#2f81fa" stroke="#004cc5"/><path d="M200.4,195.7L204.4,199.4L208.4,197L204.4,193.2Z" fill="#317dfc" stroke="#0049c7"/><path d="M204.4,199.4L208.4,203.1L212.4,200.6L208.4,197Z" fill="#3579fd" stroke="#0145c9"/><path d="M208.4,203.1L212.5,206.6L216.5,204.2L212.4,200.6Z" fill="#3975fe" stroke="#0541cb"/><path d="M212.5,206.6L216.5,210L220.5,207.7L216.5,204.2Z" fill="#3d71ff" stroke="#0a3ecc"/><path d="M216.5,210L220.5,213.4L224.5,211.1L220.5,207.7Z" fill="#406dfe" stroke="#0d3bcc"/><path d="M220.5,213.4L224.5,216.6L228.6,214.4L224.5,211.1Z" fill="#426afe" stroke="#1038cc"/><path d="M224.5,216.6L228.6,219.8L232.6,217.6L228.6,214.4Z" fill="#4367fd" stroke="#1236cc"/><path d="M228.6,219.8L232.6,222.9L236.6,220.7L232.6,217.6Z" fill="#4564fd" stroke="#1433cc"/><path d="M232.6,222.9L236.6,225.9L240.6,223.8L236.6,220.7Z" fill="#4561fc" stroke="#1531cc"/><path d="M236.6,225.9L240.7,228.8L244.7,226.7L240.6,223.8Z" fill="#465ffb" stroke="#172fcc"/><path d="M240.7,228.8L244.7,231.6L248.7,229.5L244.7,226.7Z" fill="#475dfa" stroke="#182ecb"/><path d="M244.7,231.6L248.7,234.3L252.7,232.3L248.7,229.5Z" fill="#475bf9" stroke="#192ccb"/><path d="M248.7,234.3L252.8,236.9L256.8,235L252.7,232.3Z" fill="#4759f8" stroke="#192bcb"/><path d="M252.8,236.9L256.8,239.5L260.8,237.5L256.8,235Z" fill="#4757f7" stroke="#1a2aca"/><path d="M256.8,239.5L260.8,241.9L264.8,240L260.8,237.5Z" fill="#4756f6" stroke="#1b29ca"/><path d="M260.8,241.9L264.8,244.3L268.8,242.4L264.8,240Z" fill="#4854f6" stroke="#1b28c9"/><path d="M264.8,244.3L268.9,246.6L272.9,244.7L268.8,242.4Z" fill="#4853f5" stroke="#1b27c9"/><path d="M268.9,246.6L272.9,248.8L276.9,246.9L272.9,244.7Z" fill="#4852f4" stroke="#1c26c8"/><path d="M272.9,248.8L276.9,250.9L280.9,249L276.9,246.9Z" fill="#4851f4" stroke="#1c26c8"/><path d="M276.9,250.9L281,252.9L285,251L280.9,249Z" fill="#4851f3" stroke="#1c25c8"/><path d="M281,252.9L285,254.8L289,253L285,251Z" fill="#4850f3" stroke="#1c25c8"/><path d="M285,254.8L289,256.6L293,254.8L289,253Z" fill="#4850f3" stroke="#1c25c7"/><path d="M289,256.6L293,258.4L297.1,256.5L293,254.8Z" fill="#4850f3" stroke="#1c25c7"/><path d="M293,258.4L297.1,260L301.1,258.2L297.1,256.5Z" fill="#4850f3" stroke="#1c25c7"/><path d="M297.1,260L301.1,261.6L305.1,259.8L301.1,258.2Z" fill="#4851f3" stroke="#1c25c8"/><path d="M301.1,261.6L305.1,263.1L309.1,261.2L305.1,259.8Z" fill="#4851f3" stroke="#1c25c8"/><path d="M305.1,263.1L309.2,264.5L313.2,262.6L309.1,261.2Z" fill="#4852f4" stroke="#1c26c8"/><path d="M309.2,264.5L313.2,265.8L317.2,263.9L313.2,262.6Z" fill="#4853f4" stroke="#1c27c8"/><path d="M313.2,265.8L317.2,267L321.2,265.1L317.2,263.9Z" fill="#4854f5" stroke="#1b27c9"/><path d="M317.2,267L321.3,268.1L325.3,266.2L321.2,265.1Z" fill="#4855f6" stroke="#1b28c9"/><path d="M321.3,268.1L325.3,269.1L329.3,267.2L325.3,266.2Z" fill="#4756f7" stroke="#1a29ca"/><path d="M325.3,269.1L329.3,270L333.3,268.1L329.3,267.2Z" fill="#4758f8" stroke="#1a2aca"/><path d="M329.3,270L333.3,270.9L337.3,269L333.3,268.1Z" fill="#4759f9" stroke="#192ccb"/><path d="M164.1,166L168.2,170.3L172.2,167.3L168.1,162.9Z" fill="#259ce7" stroke="#0062ad"/><path d="M168.2,170.3L172.2,174.6L176.2,171.6L172.2,167.3Z" fill="#2797eb" stroke="#005eb1"/><path d="M172.2,174.6L176.2,178.7L180.2,175.9L176.2,171.6Z" fill="#2a93ee" stroke="#005ab5"/><path d="M176.2,178.7L180.3,182.8L184.3,180L180.2,175.9Z" fill="#2d8ef1" stroke="#0056b9"/><path d="M180.3,182.8L184.3,186.8L188.3,184.1L184.3,180Z" fill="#2d8af5" stroke="#0053be"/><path d="M184.3,186.8L188.3,190.7L192.3,188.1L188.3,184.1Z" fill="#2e86f8" stroke="#0050c1"/><path d="M188.3,190.7L192.3,194.5L196.3,191.9L192.3,188.1Z" fill="#2f82fa" stroke="#004cc4"/><path d="M192.3,194.5L196.4,198.3L200.4,195.7L196.3,191.9Z" fill="#317dfc" stroke="#0049c7"/><path d="M196.4,198.3L200.4,201.9L204.4,199.4L200.4,195.7Z" fill="#3479fd" stroke="#0045c9"/><path d="M200.4,201.9L204.4,205.5L208.4,203.1L204.4,199.4Z" fill="#3975fe" stroke="#0541cb"/><path d="M204.4,205.5L208.5,208.9L212.5,206.6L208.4,203.1Z" fill="#3d71ff" stroke="#093ecc"/><path d="M208.5,208.9L212.5,212.3L216.5,210L212.5,206.6Z" fill="#406dfe" stroke="#0d3bcc"/><path d="M212.5,212.3L216.5,215.6L220.5,213.4L216.5,210Z" fill="#426afe" stroke="#1038cc"/><path d="M216.5,215.6L220.5,218.8L224.5,216.6L220.5,213.4Z" fill="#4467fd" stroke="#1236cc"/><path d="M220.5,218.8L224.6,222L228.6,219.8L224.5,216.6Z" fill="#4564fd" stroke="#1433cc"/><path d="M224.6,222L228.6,225L232.6,222.9L228.6,219.8Z" fill="#4661fc" stroke="#1631cc"/><path d="M228.6,225L232.6,227.9L236.6,225.9L232.6,222.9Z" fill="#465efb" stroke="#172fcc"/><path d="M232.6,227.9L236.7,230.8L240.7,228.8L236.6,225.9Z" fill="#475cfa" stroke="#182dcb"/><path d="M236.7,230.8L240.7,233.6L244.7,231.6L240.7,228.8Z" fill="#475af9" stroke="#192ccb"/><path d="M240.7,233.6L244.7,236.3L248.7,234.3L244.7,231.6Z" fill="#4758f8" stroke="#1a2aca"/><path d="M244.7,236.3L248.7,238.9L252.8,236.9L248.7,234.3Z" fill="#4756f7" stroke="#1a29ca"/><path d="M248.7,238.9L252.8,241.4L256.8,239.5L252.8,236.9Z" fill="#4855f6" stroke="#1b28c9"/><path d="M252.8,241.4L256.8,243.8L260.8,241.9L256.8,239.5Z" fill="#4853f5" stroke="#1b27c9"/><path d="M256.8,243.8L260.8,246.2L264.8,244.3L260.8,241.9Z" fill="#4852f4" stroke="#1c26c8"/><path d="M260.8,246.2L264.9,248.4L268.9,246.6L264.8,244.3Z" fill="#4851f3" stroke="#1c25c8"/><path d="M264.9,248.4L268.9,250.6L272.9,248.8L268.9,246.6Z" fill="#4850f2" stroke="#1d25c7"/><path d="M268.9,250.6L272.9,252.7L276.9,250.9L272.9,248.8Z" fill="#484ff2" stroke="#1d24c7"/><path d="M272.9,252.7L277,254.7L281,252.9L276.9,250.9Z" fill="#484ef1" stroke="#1d24c7"/><path d="M277,254.7L281,256.6L285,254.8L281,252.9Z" fill="#484ef1" stroke="#1d23c7"/><path d="M281,256.6L285,258.4L289,256.6L285,254.8Z" fill="#484ef1" stroke="#1d23c6"/><path d="M285,258.4L289,260.2L293,258.4L289,256.6Z" fill="#484ef1" stroke="#1d23c6"/><path d="M289,260.2L293.1,261.8L297.1,260L293,258.4Z" fill="#484ef1" stroke="#1d23c6"/><path d="M293.1,261.8L297.1,263.4L301.1,261.6L297.1,260Z" fill="#484ef1" stroke="#1d24c7"/><path d="M297.1,263.4L301.1,264.9L305.1,263.1L301.1,261.6Z" fill="#484ff2" stroke="#1d24c7"/><path d="M301.1,264.9L305.2,266.3L309.2,264.5L305.1,263.1Z" fill="#484ff2" stroke="#1d24c7"/><path d="M305.2,266.3L309.2,267.6L313.2,265.8L309.2,264.5Z" fill="#4850f3" stroke="#1c25c8"/><path d="M309.2,267.6L313.2,268.8L317.2,267L313.2,265.8Z" fill="#4851f4" stroke="#1c26c8"/><path d="M313.2,268.8L317.2,269.9L321.3,268.1L317.2,267Z" fill="#4852f4" stroke="#1c27c8"/><path d="M317.2,269.9L321.3,271L325.3,269.1L321.3,268.1Z" fill="#4854f5" stroke="#1b27c9"/><path d="M321.3,271L325.3,271.9L329.3,270L325.3,269.1Z" fill="#4855f6" stroke="#1b29c9"/><path d="M325.3,271.9L329.3,272.8L333.3,270.9L329.3,270Z" fill="#4757f7" stroke="#1a2aca"/><path d="M160.1,169L164.2,173.3L168.2,170.3L164.1,166Z" fill="#2798ea" stroke="#005eb1"/><path d="M164.2,173.3L168.2,177.4L172.2,174.6L168.2,170.3Z" fill="#2a93ed" stroke="#005bb5"/><path d="M168.2,177.4L172.2,181.5L176.2,178.7L172.2,174.6Z" fill="#2c8ff1" stroke="#0057b9"/><path d="M172.2,181.5L176.2,185.5L180.3,182.8L176.2,178.7Z" fill="#2d8af4" stroke="#0053bd"/><path d="M176.2,185.5L180.3,189.5L184.3,186.8L180.3,182.8Z" fill="#2e86f7" stroke="#0050c1"/><path d="M180.3,189.5L184.3,193.3L188.3,190.7L184.3,186.8Z" fill="#2f82fa" stroke="#004dc4"/><path d="M184.3,193.3L188.3,197.1L192.3,194.5L188.3,190.7Z" fill="#307efb" stroke="#0049c7"/><path d="M188.3,197.1L192.4,200.7L196.4,198.3L192.3,194.5Z" fill="#347afd" stroke="#0045c9"/><path d="M192.4,200.7L196.4,204.3L200.4,201.9L196.4,198.3Z" fill="#3875fe" stroke="#0542cb"/><path d="M196.4,204.3L200.4,207.8L204.4,205.5L200.4,201.9Z" fill="#3c71ff" stroke="#093ecc"/><path d="M200.4,207.8L204.5,211.2L208.5,208.9L204.4,205.5Z" fill="#406dfe" stroke="#0d3bcc"/><path d="M204.5,211.2L208.5,214.6L212.5,212.3L208.5,208.9Z" fill="#426afe" stroke="#1038cc"/><path d="M208.5,214.6L212.5,217.8L216.5,215.6L212.5,212.3Z" fill="#4467fd" stroke="#1235cc"/><path d="M212.5,217.8L216.5,221L220.5,218.8L216.5,215.6Z" fill="#4564fd" stroke="#1433cc"/><path d="M216.5,221L220.6,224.1L224.6,222L220.5,218.8Z" fill="#4661fc" stroke="#1631cc"/><path d="M220.6,224.1L224.6,227.1L228.6,225L224.6,222Z" fill="#465efb" stroke="#172fcc"/><path d="M224.6,227.1L228.6,230L232.6,227.9L228.6,225Z" fill="#475cfa" stroke="#182dcb"/><path d="M228.6,230L232.7,232.8L236.7,230.8L232.6,227.9Z" fill="#4759f9" stroke="#192bcb"/><path d="M232.7,232.8L236.7,235.6L240.7,233.6L236.7,230.8Z" fill="#4757f7" stroke="#1a2aca"/><path d="M236.7,235.6L240.7,238.2L244.7,236.3L240.7,233.6Z" fill="#4855f6" stroke="#1b29c9"/><path d="M240.7,238.2L244.7,240.8L248.7,238.9L244.7,236.3Z" fill="#4854f5" stroke="#1b27c9"/><path d="M244.7,240.8L248.8,243.3L252.8,241.4L248.7,238.9Z" fill="#4852f4" stroke="#1c26c8"/><path d="M248.8,243.3L252.8,245.7L256.8,243.8L252.8,241.4Z" fill="#4851f3" stroke="#1c25c8"/><path d="M252.8,245.7L256.8,248L260.8,246.2L256.8,243.8Z" fill="#484ff2" stroke="#1d24c7"/><path d="M256.8,248L260.9,250.3L264.9,248.4L260.8,246.2Z" fill="#484ef1" stroke="#1d24c7"/><path d="M260.9,250.3L264.9,252.4L268.9,250.6L264.9,248.4Z" fill="#484ef1" stroke="#1d23c6"/><path d="M264.9,252.4L268.9,254.5L272.9,252.7L268.9,250.6Z" fill="#484df0" stroke="#1d23c6"/><path d="M268.9,254.5L272.9,256.5L277,254.7L272.9,252.7Z" fill="#484cf0" stroke="#1e22c6"/><path d="M272.9,256.5L277,258.4L281,256.6L277,254.7Z" fill="#484cef" stroke="#1e22c5"/><path d="M277,258.4L281,260.2L285,258.4L281,256.6Z" fill="#484cef" stroke="#1e22c5"/><path d="M281,260.2L285,262L289,260.2L285,258.4Z" fill="#484cef" stroke="#1e22c5"/><path d="M285,262L289.1,263.6L293.1,261.8L289,260.2Z" fill="#484cef" stroke="#1e22c5"/><path d="M289.1,263.6L293.1,265.2L297.1,263.4L293.1,261.8Z" fill="#484cf0" stroke="#1e22c6"/><path d="M293.1,265.2L297.1,266.7L301.1,264.9L297.1,263.4Z" fill="#484df0" stroke="#1e22c6"/><path d="M297.1,266.7L301.2,268.1L305.2,266.3L301.1,264.9Z" fill="#484df0" stroke="#1d23c6"/><path d="M301.2,268.1L305.2,269.4L309.2,267.6L305.2,266.3Z" fill="#484ef1" stroke="#1d23c6"/><path d="M305.2,269.4L309.2,270.6L313.2,268.8L309.2,267.6Z" fill="#484ff2" stroke="#1d24c7"/><path d="M309.2,270.6L313.2,271.8L317.2,269.9L313.2,268.8Z" fill="#4850f3" stroke="#1c25c7"/><path d="M313.2,271.8L317.3,272.8L321.3,271L317.2,269.9Z" fill="#4852f4" stroke="#1c26c8"/><path d="M317.3,272.8L321.3,273.8L325.3,271.9L321.3,271Z" fill="#4853f5" stroke="#1c27c9"/><path d="M321.3,273.8L325.3,274.7L329.3,272.8L325.3,271.9Z" fill="#4855f6" stroke="#1b28c9"/><path d="M156.1,172L160.2,176.2L164.2,173.3L160.1,169Z" fill="#2994ed" stroke="#005bb4"/><path d="M160.2,176.2L164.2,180.3L168.2,177.4L164.2,173.3Z" fill="#2c8ff0" stroke="#0057b8"/><path d="M164.2,180.3L168.2,184.3L172.2,181.5L168.2,177.4Z" fill="#2d8bf4" stroke="#0054bd"/><path d="M168.2,184.3L172.2,188.2L176.2,185.5L172.2,181.5Z" fill="#2e87f7" stroke="#0050c1"/><path d="M172.2,188.2L176.3,192.1L180.3,189.5L176.2,185.5Z" fill="#2f82f9" stroke="#004dc4"/><path d="M176.3,192.1L180.3,195.9L184.3,193.3L180.3,189.5Z" fill="#307efb" stroke="#0049c7"/><path d="M180.3,195.9L184.3,199.5L188.3,197.1L184.3,193.3Z" fill="#347afd" stroke="#0046c9"/><path d="M184.3,199.5L188.4,203.2L192.4,200.7L188.3,197.1Z" fill="#3876fe" stroke="#0442cb"/><path d="M188.4,203.2L192.4,206.7L196.4,204.3L192.4,200.7Z" fill="#3c71ff" stroke="#093ecc"/><path d="M192.4,206.7L196.4,210.1L200.4,207.8L196.4,204.3Z" fill="#3f6efe" stroke="#0d3bcc"/><path d="M196.4,210.1L200.4,213.5L204.5,211.2L200.4,207.8Z" fill="#426afe" stroke="#1038cc"/><path d="M200.4,213.5L204.5,216.8L208.5,214.6L204.5,211.2Z" fill="#4467fd" stroke="#1235cc"/><path d="M204.5,216.8L208.5,220L212.5,217.8L208.5,214.6Z" fill="#4563fd" stroke="#1433cc"/><path d="M208.5,220L212.5,223.1L216.5,221L212.5,217.8Z" fill="#4661fc" stroke="#1631cc"/><path d="M212.5,223.1L216.6,226.2L220.6,224.1L216.5,221Z" fill="#465efb" stroke="#172fcc"/><path d="M216.6,226.2L220.6,229.1L224.6,227.1L220.6,224.1Z" fill="#475bfa" stroke="#182dcb"/><path d="M220.6,229.1L224.6,232L228.6,230L224.6,227.1Z" fill="#4759f8" stroke="#192bcb"/><path d="M224.6,232L228.7,234.8L232.7,232.8L228.6,230Z" fill="#4757f7" stroke="#1a2aca"/><path d="M228.7,234.8L232.7,237.5L236.7,235.6L232.7,232.8Z" fill="#4855f6" stroke="#1b28c9"/><path d="M232.7,237.5L236.7,240.1L240.7,238.2L236.7,235.6Z" fill="#4853f5" stroke="#1c27c9"/><path d="M236.7,240.1L240.7,242.7L244.7,240.8L240.7,238.2Z" fill="#4851f4" stroke="#1c26c8"/><path d="M240.7,242.7L244.8,245.2L248.8,243.3L244.7,240.8Z" fill="#4850f2" stroke="#1d25c7"/><path d="M244.8,245.2L248.8,247.5L252.8,245.7L248.8,243.3Z" fill="#484ef1" stroke="#1d24c7"/><path d="M248.8,247.5L252.8,249.9L256.8,248L252.8,245.7Z" fill="#484df0" stroke="#1d23c6"/><path d="M252.8,249.9L256.9,252.1L260.9,250.3L256.8,248Z" fill="#484cf0" stroke="#1e22c6"/><path d="M256.9,252.1L260.9,254.2L264.9,252.4L260.9,250.3Z" fill="#484bef" stroke="#1e21c5"/><path d="M260.9,254.2L264.9,256.3L268.9,254.5L264.9,252.4Z" fill="#484bee" stroke="#1e21c5"/><path d="M264.9,256.3L268.9,258.3L272.9,256.5L268.9,254.5Z" fill="#484aee" stroke="#1e21c4"/><path d="M268.9,258.3L273,260.2L277,258.4L272.9,256.5Z" fill="#484aee" stroke="#1e20c4"/><path d="M273,260.2L277,262L281,260.2L277,258.4Z" fill="#4849ed" stroke="#1e20c4"/><path d="M277,262L281,263.7L285,262L281,260.2Z" fill="#4849ed" stroke="#1e20c4"/><path d="M281,263.7L285.1,265.4L289.1,263.6L285,262Z" fill="#484aee" stroke="#1e20c4"/><path d="M285.1,265.4L289.1,266.9L293.1,265.2L289.1,263.6Z" fill="#484aee" stroke="#1e21c4"/><path d="M289.1,266.9L293.1,268.4L297.1,266.7L293.1,265.2Z" fill="#484aee" stroke="#1e21c5"/><path d="M293.1,268.4L297.1,269.8L301.2,268.1L297.1,266.7Z" fill="#484bef" stroke="#1e21c5"/><path d="M297.1,269.8L301.2,271.2L305.2,269.4L301.2,268.1Z" fill="#484cef" stroke="#1e22c5"/><path d="M301.2,271.2L305.2,272.4L309.2,270.6L305.2,269.4Z" fill="#484df0" stroke="#1d23c6"/><path d="M305.2,272.4L309.2,273.6L313.2,271.8L309.2,270.6Z" fill="#484ef1" stroke="#1d23c6"/><path d="M309.2,273.6L313.3,274.6L317.3,272.8L313.2,271.8Z" fill="#484ff2" stroke="#1d24c7"/><path d="M313.3,274.6L317.3,275.6L321.3,273.8L317.3,272.8Z" fill="#4851f3" stroke="#1c25c8"/><path d="M317.3,275.6L321.3,276.6L325.3,274.7L321.3,273.8Z" fill="#4852f4" stroke="#1c26c8"/><path d="M152.1,174.9L156.1,179L160.2,176.2L156.1,172Z" fill="#2c90f0" stroke="#0057b8"/><path d="M156.1,179L160.2,183.1L164.2,180.3L160.2,176.2Z" fill="#2d8bf4" stroke="#0054bc"/><path d="M160.2,183.1L164.2,187L168.2,184.3L164.2,180.3Z" fill="#2e87f7" stroke="#0050c0"/><path d="M164.2,187L168.2,190.9L172.2,188.2L168.2,184.3Z" fill="#2e83f9" stroke="#004dc4"/><path d="M168.2,190.9L172.3,194.7L176.3,192.1L172.2,188.2Z" fill="#307efb" stroke="#004ac6"/><path d="M172.3,194.7L176.3,198.4L180.3,195.9L176.3,192.1Z" fill="#347afd" stroke="#0046c9"/><path d="M176.3,198.4L180.3,202L184.3,199.5L180.3,195.9Z" fill="#3876fe" stroke="#0442cb"/><path d="M180.3,202L184.4,205.6L188.4,203.2L184.3,199.5Z" fill="#3c72ff" stroke="#093ecc"/><path d="M184.4,205.6L188.4,209L192.4,206.7L188.4,203.2Z" fill="#3f6eff" stroke="#0d3bcc"/><path d="M188.4,209L192.4,212.4L196.4,210.1L192.4,206.7Z" fill="#426afe" stroke="#1038cc"/><path d="M192.4,212.4L196.4,215.7L200.4,213.5L196.4,210.1Z" fill="#4467fd" stroke="#1235cc"/><path d="M196.4,215.7L200.5,219L204.5,216.8L200.4,213.5Z" fill="#4563fd" stroke="#1433cc"/><path d="M200.5,219L204.5,222.1L208.5,220L204.5,216.8Z" fill="#4660fc" stroke="#1631cc"/><path d="M204.5,222.1L208.5,225.2L212.5,223.1L208.5,220Z" fill="#465efb" stroke="#172fcc"/><path d="M208.5,225.2L212.6,228.2L216.6,226.2L212.5,223.1Z" fill="#475bf9" stroke="#182dcb"/><path d="M212.6,228.2L216.6,231.1L220.6,229.1L216.6,226.2Z" fill="#4759f8" stroke="#192bca"/><path d="M216.6,231.1L220.6,234L224.6,232L220.6,229.1Z" fill="#4756f7" stroke="#1a29ca"/><path d="M220.6,234L224.6,236.7L228.7,234.8L224.6,232Z" fill="#4854f6" stroke="#1b28c9"/><path d="M224.6,236.7L228.7,239.4L232.7,237.5L228.7,234.8Z" fill="#4852f4" stroke="#1c26c8"/><path d="M228.7,239.4L232.7,242L236.7,240.1L232.7,237.5Z" fill="#4851f3" stroke="#1c25c8"/><path d="M232.7,242L236.7,244.5L240.7,242.7L236.7,240.1Z" fill="#484ff2" stroke="#1d24c7"/><path d="M236.7,244.5L240.8,247L244.8,245.2L240.7,242.7Z" fill="#484df1" stroke="#1d23c6"/><path d="M240.8,247L244.8,249.4L248.8,247.5L244.8,245.2Z" fill="#484cf0" stroke="#1e22c6"/><path d="M244.8,249.4L248.8,251.6L252.8,249.9L248.8,247.5Z" fill="#484bef" stroke="#1e21c5"/><path d="M248.8,251.6L252.9,253.9L256.9,252.1L252.8,249.9Z" fill="#484aee" stroke="#1e21c4"/><path d="M252.9,253.9L256.9,256L260.9,254.2L256.9,252.1Z" fill="#4849ed" stroke="#1f20c4"/><path d="M256.9,256L260.9,258L264.9,256.3L260.9,254.2Z" fill="#4848ec" stroke="#1f1fc4"/><path d="M260.9,258L264.9,260L268.9,258.3L264.9,256.3Z" fill="#4848ec" stroke="#1f1fc3"/><path d="M264.9,260L269,261.9L273,260.2L268.9,258.3Z" fill="#4848ec" stroke="#1f1fc3"/><path d="M269,261.9L273,263.7L277,262L273,260.2Z" fill="#4847eb" stroke="#1f1fc3"/><path d="M273,263.7L277,265.4L281,263.7L277,262Z" fill="#4847eb" stroke="#1f1fc3"/><path d="M277,265.4L281.1,267.1L285.1,265.4L281,263.7Z" fill="#4847ec" stroke="#1f1fc3"/><path d="M281.1,267.1L285.1,268.7L289.1,266.9L285.1,265.4Z" fill="#4848ec" stroke="#1f1fc3"/><path d="M285.1,268.7L289.1,270.2L293.1,268.4L289.1,266.9Z" fill="#4848ec" stroke="#1f1fc3"/><path d="M289.1,270.2L293.1,271.6L297.1,269.8L293.1,268.4Z" fill="#4849ed" stroke="#1f20c4"/><path d="M293.1,271.6L297.2,272.9L301.2,271.2L297.1,269.8Z" fill="#484aee" stroke="#1e20c4"/><path d="M297.2,272.9L301.2,274.2L305.2,272.4L301.2,271.2Z" fill="#484bee" stroke="#1e21c5"/><path d="M301.2,274.2L305.2,275.3L309.2,273.6L305.2,272.4Z" fill="#484cef" stroke="#1e22c5"/><path d="M305.2,275.3L309.3,276.4L313.3,274.6L309.2,273.6Z" fill="#484df0" stroke="#1d23c6"/><path d="M309.3,276.4L313.3,277.5L317.3,275.6L313.3,274.6Z" fill="#484ef1" stroke="#1d24c7"/><path d="M313.3,277.5L317.3,278.4L321.3,276.6L317.3,275.6Z" fill="#4850f3" stroke="#1c25c7"/><path d="M148.1,177.8L152.1,181.9L156.1,179L152.1,174.9Z" fill="#2d8bf3" stroke="#0054bc"/><path d="M152.1,181.9L156.2,185.8L160.2,183.1L156.1,179Z" fill="#2e87f7" stroke="#0051c0"/><path d="M156.2,185.8L160.2,189.7L164.2,187L160.2,183.1Z" fill="#2e83f9" stroke="#004dc3"/><path d="M160.2,189.7L164.2,193.5L168.2,190.9L164.2,187Z" fill="#307ffb" stroke="#004ac6"/><path d="M164.2,193.5L168.3,197.2L172.3,194.7L168.2,190.9Z" fill="#337afd" stroke="#0046c8"/><path d="M168.3,197.2L172.3,200.9L176.3,198.4L172.3,194.7Z" fill="#3876fe" stroke="#0442ca"/><path d="M172.3,200.9L176.3,204.4L180.3,202L176.3,198.4Z" fill="#3c72ff" stroke="#093fcc"/><path d="M176.3,204.4L180.3,207.9L184.4,205.6L180.3,202Z" fill="#3f6eff" stroke="#0d3bcc"/><path d="M180.3,207.9L184.4,211.3L188.4,209L184.4,205.6Z" fill="#426afe" stroke="#1038cc"/><path d="M184.4,211.3L188.4,214.7L192.4,212.4L188.4,209Z" fill="#4467fd" stroke="#1235cc"/><path d="M188.4,214.7L192.4,217.9L196.4,215.7L192.4,212.4Z" fill="#4563fd" stroke="#1433cc"/><path d="M192.4,217.9L196.5,221.1L200.5,219L196.4,215.7Z" fill="#4660fc" stroke="#1631cc"/><path d="M196.5,221.1L200.5,224.2L204.5,222.1L200.5,219Z" fill="#465dfb" stroke="#172ecc"/><path d="M200.5,224.2L204.5,227.3L208.5,225.2L204.5,222.1Z" fill="#475bf9" stroke="#192ccb"/><path d="M204.5,227.3L208.6,230.2L212.6,228.2L208.5,225.2Z" fill="#4758f8" stroke="#1a2bca"/><path d="M208.6,230.2L212.6,233.1L216.6,231.1L212.6,228.2Z" fill="#4756f7" stroke="#1a29ca"/><path d="M212.6,233.1L216.6,235.9L220.6,234L216.6,231.1Z" fill="#4854f5" stroke="#1b27c9"/><path d="M216.6,235.9L220.6,238.6L224.6,236.7L220.6,234Z" fill="#4852f4" stroke="#1c26c8"/><path d="M220.6,238.6L224.7,241.3L228.7,239.4L224.6,236.7Z" fill="#4850f3" stroke="#1d25c7"/><path d="M224.7,241.3L228.7,243.9L232.7,242L228.7,239.4Z" fill="#484ef1" stroke="#1d23c7"/><path d="M228.7,243.9L232.7,246.4L236.7,244.5L232.7,242Z" fill="#484df0" stroke="#1e22c6"/><path d="M232.7,246.4L236.8,248.8L240.8,247L236.7,244.5Z" fill="#484bef" stroke="#1e21c5"/><path d="M236.8,248.8L240.8,251.1L244.8,249.4L240.8,247Z" fill="#484aee" stroke="#1e20c4"/><path d="M240.8,251.1L244.8,253.4L248.8,251.6L244.8,249.4Z" fill="#4849ed" stroke="#1f20c4"/><path d="M244.8,253.4L248.8,255.6L252.9,253.9L248.8,251.6Z" fill="#4848ec" stroke="#1f1fc3"/><path d="M248.8,255.6L252.9,257.7L256.9,256L252.9,253.9Z" fill="#4747eb" stroke="#1f1ec3"/><path d="M252.9,257.7L256.9,259.7L260.9,258L256.9,256Z" fill="#4746ea" stroke="#1f1ec2"/><path d="M256.9,259.7L260.9,261.7L264.9,260L260.9,258Z" fill="#4746ea" stroke="#1f1ec2"/><path d="M260.9,261.7L265,263.6L269,261.9L264.9,260Z" fill="#4745ea" stroke="#1f1dc2"/><path d="M265,263.6L269,265.4L273,263.7L269,261.9Z" fill="#4745ea" stroke="#1f1dc2"/><path d="M269,265.4L273,267.1L277,265.4L273,263.7Z" fill="#4745e9" stroke="#1f1dc2"/><path d="M273,267.1L277.1,268.8L281.1,267.1L277,265.4Z" fill="#4745ea" stroke="#1f1dc2"/><path d="M277.1,268.8L281.1,270.4L285.1,268.7L281.1,267.1Z" fill="#4746ea" stroke="#1f1ec2"/><path d="M281.1,270.4L285.1,271.9L289.1,270.2L285.1,268.7Z" fill="#4746ea" stroke="#1f1ec2"/><path d="M285.1,271.9L289.1,273.3L293.1,271.6L289.1,270.2Z" fill="#4747eb" stroke="#1f1ec3"/><path d="M289.1,273.3L293.2,274.6L297.2,272.9L293.1,271.6Z" fill="#4848ec" stroke="#1f1fc3"/><path d="M293.2,274.6L297.2,275.9L301.2,274.2L297.2,272.9Z" fill="#4848ed" stroke="#1f20c4"/><path d="M297.2,275.9L301.2,277.1L305.2,275.3L301.2,274.2Z" fill="#484aee" stroke="#1e20c4"/><path d="M301.2,277.1L305.3,278.2L309.3,276.4L305.2,275.3Z" fill="#484bef" stroke="#1e21c5"/><path d="M305.3,278.2L309.3,279.3L313.3,277.5L309.3,276.4Z" fill="#484cf0" stroke="#1e22c6"/><path d="M309.3,279.3L313.3,280.2L317.3,278.4L313.3,277.5Z" fill="#484ef1" stroke="#1d23c6"/><path d="M144.1,180.7L148.1,184.6L152.1,181.9L148.1,177.8Z" fill="#2d87f7" stroke="#0051c0"/><path d="M148.1,184.6L152.2,188.5L156.2,185.8L152.1,181.9Z" fill="#2e83f9" stroke="#004dc3"/><path d="M152.2,188.5L156.2,192.3L160.2,189.7L156.2,185.8Z" fill="#307ffb" stroke="#004ac6"/><path d="M156.2,192.3L160.2,196.1L164.2,193.5L160.2,189.7Z" fill="#337bfd" stroke="#0046c8"/><path d="M160.2,196.1L164.3,199.7L168.3,197.2L164.2,193.5Z" fill="#3776fe" stroke="#0443ca"/><path d="M164.3,199.7L168.3,203.3L172.3,200.9L168.3,197.2Z" fill="#3c72ff" stroke="#083fcc"/><path d="M168.3,203.3L172.3,206.8L176.3,204.4L172.3,200.9Z" fill="#3f6eff" stroke="#0d3bcc"/><path d="M172.3,206.8L176.3,210.2L180.3,207.9L176.3,204.4Z" fill="#426afe" stroke="#1038cc"/><path d="M176.3,210.2L180.4,213.6L184.4,211.3L180.3,207.9Z" fill="#4367fd" stroke="#1236cc"/><path d="M180.4,213.6L184.4,216.9L188.4,214.7L184.4,211.3Z" fill="#4563fd" stroke="#1433cc"/><path d="M184.4,216.9L188.4,220.1L192.4,217.9L188.4,214.7Z" fill="#4660fc" stroke="#1631cc"/><path d="M188.4,220.1L192.5,223.2L196.5,221.1L192.4,217.9Z" fill="#465dfb" stroke="#172ecc"/><path d="M192.5,223.2L196.5,226.3L200.5,224.2L196.5,221.1Z" fill="#475bf9" stroke="#192ccb"/><path d="M196.5,226.3L200.5,229.3L204.5,227.3L200.5,224.2Z" fill="#4758f8" stroke="#1a2bca"/><path d="M200.5,229.3L204.5,232.2L208.6,230.2L204.5,227.3Z" fill="#4756f6" stroke="#1b29ca"/><path d="M204.5,232.2L208.6,235.1L212.6,233.1L208.6,230.2Z" fill="#4853f5" stroke="#1b27c9"/><path d="M208.6,235.1L212.6,237.8L216.6,235.9L212.6,233.1Z" fill="#4851f4" stroke="#1c26c8"/><path d="M212.6,237.8L216.6,240.5L220.6,238.6L216.6,235.9Z" fill="#484ff2" stroke="#1d24c7"/><path d="M216.6,240.5L220.7,243.1L224.7,241.3L220.6,238.6Z" fill="#484df1" stroke="#1d23c6"/><path d="M220.7,243.1L224.7,245.7L228.7,243.9L224.7,241.3Z" fill="#484cef" stroke="#1e22c5"/><path d="M224.7,245.7L228.7,248.2L232.7,246.4L228.7,243.9Z" fill="#484aee" stroke="#1e21c5"/><path d="M228.7,248.2L232.8,250.6L236.8,248.8L232.7,246.4Z" fill="#4849ed" stroke="#1f20c4"/><path d="M232.8,250.6L236.8,252.9L240.8,251.1L236.8,248.8Z" fill="#4848ec" stroke="#1f1fc3"/><path d="M236.8,252.9L240.8,255.1L244.8,253.4L240.8,251.1Z" fill="#4747eb" stroke="#1f1ec2"/><path d="M240.8,255.1L244.8,257.3L248.8,255.6L244.8,253.4Z" fill="#4746ea" stroke="#1f1ec2"/><path d="M244.8,257.3L248.9,259.4L252.9,257.7L248.8,255.6Z" fill="#4745e9" stroke="#201dc1"/><path d="M248.9,259.4L252.9,261.4L256.9,259.7L252.9,257.7Z" fill="#4744e8" stroke="#201dc1"/><path d="M252.9,261.4L256.9,263.4L260.9,261.7L256.9,259.7Z" fill="#4744e8" stroke="#201cc1"/><path d="M256.9,263.4L261,265.3L265,263.6L260.9,261.7Z" fill="#4743e8" stroke="#201cc0"/><path d="M261,265.3L265,267.1L269,265.4L265,263.6Z" fill="#4743e7" stroke="#201cc0"/><path d="M265,267.1L269,268.8L273,267.1L269,265.4Z" fill="#4743e7" stroke="#201cc0"/><path d="M269,268.8L273,270.5L277.1,268.8L273,267.1Z" fill="#4743e8" stroke="#201cc0"/><path d="M273,270.5L277.1,272.1L281.1,270.4L277.1,268.8Z" fill="#4744e8" stroke="#201cc1"/><path d="M277.1,272.1L281.1,273.6L285.1,271.9L281.1,270.4Z" fill="#4744e8" stroke="#201dc1"/><path d="M281.1,273.6L285.1,275L289.1,273.3L285.1,271.9Z" fill="#4745e9" stroke="#201dc1"/><path d="M285.1,275L289.2,276.4L293.2,274.6L289.1,273.3Z" fill="#4745ea" stroke="#1f1ec2"/><path d="M289.2,276.4L293.2,277.6L297.2,275.9L293.2,274.6Z" fill="#4746eb" stroke="#1f1ec2"/><path d="M293.2,277.6L297.2,278.9L301.2,277.1L297.2,275.9Z" fill="#4847ec" stroke="#1f1fc3"/><path d="M297.2,278.9L301.3,280L305.3,278.2L301.2,277.1Z" fill="#4849ed" stroke="#1f20c4"/><path d="M301.3,280L305.3,281.1L309.3,279.3L305.3,278.2Z" fill="#484aee" stroke="#1e21c4"/><path d="M305.3,281.1L309.3,282L313.3,280.2L309.3,279.3Z" fill="#484cef" stroke="#1e22c5"/><path d="M140.1,183.5L144.1,187.4L148.1,184.6L144.1,180.7Z" fill="#2e83f9" stroke="#004ec3"/><path d="M144.1,187.4L148.2,191.2L152.2,188.5L148.1,184.6Z" fill="#307ffb" stroke="#004ac6"/><path d="M148.2,191.2L152.2,194.9L156.2,192.3L152.2,188.5Z" fill="#337bfc" stroke="#0047c8"/><path d="M152.2,194.9L156.2,198.6L160.2,196.1L156.2,192.3Z" fill="#3776fe" stroke="#0443ca"/><path d="M156.2,198.6L160.3,202.2L164.3,199.7L160.2,196.1Z" fill="#3b72ff" stroke="#083fcc"/><path d="M160.3,202.2L164.3,205.7L168.3,203.3L164.3,199.7Z" fill="#3f6eff" stroke="#0c3bcc"/><path d="M164.3,205.7L168.3,209.2L172.3,206.8L168.3,203.3Z" fill="#426afe" stroke="#1038cc"/><path d="M168.3,209.2L172.3,212.5L176.3,210.2L172.3,206.8Z" fill="#4367fd" stroke="#1236cc"/><path d="M172.3,212.5L176.4,215.8L180.4,213.6L176.3,210.2Z" fill="#4563fd" stroke="#1433cc"/><path d="M176.4,215.8L180.4,219.1L184.4,216.9L180.4,213.6Z" fill="#4660fc" stroke="#1631cc"/><path d="M180.4,219.1L184.4,222.2L188.4,220.1L184.4,216.9Z" fill="#465dfb" stroke="#172ecc"/><path d="M184.4,222.2L188.5,225.3L192.5,223.2L188.4,220.1Z" fill="#475bf9" stroke="#192ccb"/><path d="M188.5,225.3L192.5,228.3L196.5,226.3L192.5,223.2Z" fill="#4758f8" stroke="#1a2aca"/><path d="M192.5,228.3L196.5,231.3L200.5,229.3L196.5,226.3Z" fill="#4855f6" stroke="#1b29c9"/><path d="M196.5,231.3L200.5,234.2L204.5,232.2L200.5,229.3Z" fill="#4853f5" stroke="#1b27c9"/><path d="M200.5,234.2L204.6,237L208.6,235.1L204.5,232.2Z" fill="#4851f3" stroke="#1c25c8"/><path d="M204.6,237L208.6,239.7L212.6,237.8L208.6,235.1Z" fill="#484ff2" stroke="#1d24c7"/><path d="M208.6,239.7L212.6,242.4L216.6,240.5L212.6,237.8Z" fill="#484df0" stroke="#1d23c6"/><path d="M212.6,242.4L216.7,245L220.7,243.1L216.6,240.5Z" fill="#484bef" stroke="#1e21c5"/><path d="M216.7,245L220.7,247.5L224.7,245.7L220.7,243.1Z" fill="#484aed" stroke="#1e20c4"/><path d="M220.7,247.5L224.7,249.9L228.7,248.2L224.7,245.7Z" fill="#4848ec" stroke="#1f1fc3"/><path d="M224.7,249.9L228.8,252.3L232.8,250.6L228.7,248.2Z" fill="#4747eb" stroke="#1f1ec3"/><path d="M228.8,252.3L232.8,254.6L236.8,252.9L232.8,250.6Z" fill="#4745ea" stroke="#1f1ec2"/><path d="M232.8,254.6L236.8,256.8L240.8,255.1L236.8,252.9Z" fill="#4744e9" stroke="#201dc1"/><path d="M236.8,256.8L240.8,259L244.8,257.3L240.8,255.1Z" fill="#4744e8" stroke="#201cc0"/><path d="M240.8,259L244.9,261.1L248.9,259.4L244.8,257.3Z" fill="#4743e7" stroke="#201cc0"/><path d="M244.9,261.1L248.9,263.1L252.9,261.4L248.9,259.4Z" fill="#4742e6" stroke="#201bbf"/><path d="M248.9,263.1L252.9,265.1L256.9,263.4L252.9,261.4Z" fill="#4742e6" stroke="#201bbf"/><path d="M252.9,265.1L257,266.9L261,265.3L256.9,263.4Z" fill="#4741e5" stroke="#201bbf"/><path d="M257,266.9L261,268.7L265,267.1L261,265.3Z" fill="#4741e5" stroke="#201bbf"/><path d="M261,268.7L265,270.5L269,268.8L265,267.1Z" fill="#4741e5" stroke="#201bbf"/><path d="M265,270.5L269,272.1L273,270.5L269,268.8Z" fill="#4741e5" stroke="#201bbf"/><path d="M269,272.1L273.1,273.7L277.1,272.1L273,270.5Z" fill="#4742e6" stroke="#201bbf"/><path d="M273.1,273.7L277.1,275.2L281.1,273.6L277.1,272.1Z" fill="#4742e6" stroke="#201bbf"/><path d="M277.1,275.2L281.1,276.7L285.1,275L281.1,273.6Z" fill="#4743e7" stroke="#201cc0"/><path d="M281.1,276.7L285.2,278L289.2,276.4L285.1,275Z" fill="#4743e8" stroke="#201cc0"/><path d="M285.2,278L289.2,279.3L293.2,277.6L289.2,276.4Z" fill="#4744e9" stroke="#201dc1"/><path d="M289.2,279.3L293.2,280.6L297.2,278.9L293.2,277.6Z" fill="#4745ea" stroke="#1f1dc2"/><path d="M293.2,280.6L297.2,281.7L301.3,280L297.2,278.9Z" fill="#4747eb" stroke="#1f1ec2"/><path d="M297.2,281.7L301.3,282.8L305.3,281.1L301.3,280Z" fill="#4848ec" stroke="#1f1fc3"/><path d="M301.3,282.8L305.3,283.8L309.3,282L305.3,281.1Z" fill="#4849ed" stroke="#1e20c4"/><path d="M136.1,186.3L140.1,190.1L144.1,187.4L140.1,183.5Z" fill="#307ffb" stroke="#004ac6"/><path d="M140.1,190.1L144.2,193.8L148.2,191.2L144.1,187.4Z" fill="#337bfc" stroke="#0047c8"/><path d="M144.2,193.8L148.2,197.5L152.2,194.9L148.2,191.2Z" fill="#3777fe" stroke="#0343ca"/><path d="M148.2,197.5L152.2,201.1L156.2,198.6L152.2,194.9Z" fill="#3b72ff" stroke="#083fcc"/><path d="M152.2,201.1L156.2,204.6L160.3,202.2L156.2,198.6Z" fill="#3f6eff" stroke="#0c3ccc"/><path d="M156.2,204.6L160.3,208.1L164.3,205.7L160.3,202.2Z" fill="#426afe" stroke="#1038cc"/><path d="M160.3,208.1L164.3,211.5L168.3,209.2L164.3,205.7Z" fill="#4367fd" stroke="#1236cc"/><path d="M164.3,211.5L168.3,214.8L172.3,212.5L168.3,209.2Z" fill="#4563fd" stroke="#1433cc"/><path d="M168.3,214.8L172.4,218L176.4,215.8L172.3,212.5Z" fill="#4660fc" stroke="#1631cc"/><path d="M172.4,218L176.4,221.2L180.4,219.1L176.4,215.8Z" fill="#465dfb" stroke="#172ecc"/><path d="M176.4,221.2L180.4,224.3L184.4,222.2L180.4,219.1Z" fill="#475af9" stroke="#192ccb"/><path d="M180.4,224.3L184.5,227.4L188.5,225.3L184.4,222.2Z" fill="#4758f8" stroke="#1a2aca"/><path d="M184.5,227.4L188.5,230.4L192.5,228.3L188.5,225.3Z" fill="#4855f6" stroke="#1b28c9"/><path d="M188.5,230.4L192.5,233.3L196.5,231.3L192.5,228.3Z" fill="#4853f5" stroke="#1c27c9"/><path d="M192.5,233.3L196.5,236.1L200.5,234.2L196.5,231.3Z" fill="#4851f3" stroke="#1c25c8"/><path d="M196.5,236.1L200.6,238.9L204.6,237L200.5,234.2Z" fill="#484ef1" stroke="#1d24c7"/><path d="M200.6,238.9L204.6,241.6L208.6,239.7L204.6,237Z" fill="#484cf0" stroke="#1e22c6"/><path d="M204.6,241.6L208.6,244.2L212.6,242.4L208.6,239.7Z" fill="#484bee" stroke="#1e21c5"/><path d="M208.6,244.2L212.7,246.8L216.7,245L212.6,242.4Z" fill="#4849ed" stroke="#1f20c4"/><path d="M212.7,246.8L216.7,249.2L220.7,247.5L216.7,245Z" fill="#4847eb" stroke="#1f1fc3"/><path d="M216.7,249.2L220.7,251.7L224.7,249.9L220.7,247.5Z" fill="#4746ea" stroke="#1f1ec2"/><path d="M220.7,251.7L224.7,254L228.8,252.3L224.7,249.9Z" fill="#4745e9" stroke="#201dc1"/><path d="M224.7,254L228.8,256.3L232.8,254.6L228.8,252.3Z" fill="#4743e8" stroke="#201cc0"/><path d="M228.8,256.3L232.8,258.5L236.8,256.8L232.8,254.6Z" fill="#4742e7" stroke="#201bc0"/><path d="M232.8,258.5L236.8,260.7L240.8,259L236.8,256.8Z" fill="#4742e6" stroke="#201bbf"/><path d="M236.8,260.7L240.9,262.7L244.9,261.1L240.8,259Z" fill="#4741e5" stroke="#211abe"/><path d="M240.9,262.7L244.9,264.8L248.9,263.1L244.9,261.1Z" fill="#4740e4" stroke="#211abe"/><path d="M244.9,264.8L248.9,266.7L252.9,265.1L248.9,263.1Z" fill="#4740e4" stroke="#211abe"/><path d="M248.9,266.7L253,268.6L257,266.9L252.9,265.1Z" fill="#4740e3" stroke="#211abd"/><path d="M253,268.6L257,270.4L261,268.7L257,266.9Z" fill="#473fe3" stroke="#2119bd"/><path d="M257,270.4L261,272.1L265,270.5L261,268.7Z" fill="#473fe3" stroke="#2119bd"/><path d="M261,272.1L265,273.8L269,272.1L265,270.5Z" fill="#4740e3" stroke="#211abd"/><path d="M265,273.8L269.1,275.4L273.1,273.7L269,272.1Z" fill="#4740e4" stroke="#211abd"/><path d="M269.1,275.4L273.1,276.9L277.1,275.2L273.1,273.7Z" fill="#4740e4" stroke="#211abe"/><path d="M273.1,276.9L277.1,278.3L281.1,276.7L277.1,275.2Z" fill="#4741e5" stroke="#211abe"/><path d="M277.1,278.3L281.2,279.7L285.2,278L281.1,276.7Z" fill="#4741e6" stroke="#201bbf"/><path d="M281.2,279.7L285.2,281L289.2,279.3L285.2,278Z" fill="#4742e6" stroke="#201bc0"/><path d="M285.2,281L289.2,282.3L293.2,280.6L289.2,279.3Z" fill="#4743e8" stroke="#201cc0"/><path d="M289.2,282.3L293.2,283.5L297.2,281.7L293.2,280.6Z" fill="#4744e9" stroke="#201dc1"/><path d="M293.2,283.5L297.3,284.6L301.3,282.8L297.2,281.7Z" fill="#4746ea" stroke="#1f1ec2"/><path d="M297.3,284.6L301.3,285.6L305.3,283.8L301.3,282.8Z" fill="#4747eb" stroke="#1f1fc3"/><path d="M132.1,189L136.1,192.7L140.1,190.1L136.1,186.3Z" fill="#337bfc" stroke="#0047c8"/><path d="M136.1,192.7L140.2,196.4L144.2,193.8L140.1,190.1Z" fill="#3777fe" stroke="#0343ca"/><path d="M140.2,196.4L144.2,200L148.2,197.5L144.2,193.8Z" fill="#3b72ff" stroke="#083fcc"/><path d="M144.2,200L148.2,203.5L152.2,201.1L148.2,197.5Z" fill="#3f6eff" stroke="#0c3ccc"/><path d="M148.2,203.5L152.2,207L156.2,204.6L152.2,201.1Z" fill="#426bfe" stroke="#1039cc"/><path d="M152.2,207L156.3,210.4L160.3,208.1L156.2,204.6Z" fill="#4367fd" stroke="#1236cc"/><path d="M156.3,210.4L160.3,213.7L164.3,211.5L160.3,208.1Z" fill="#4563fd" stroke="#1433cc"/><path d="M160.3,213.7L164.3,217L168.3,214.8L164.3,211.5Z" fill="#4660fc" stroke="#1631cc"/><path d="M164.3,217L168.4,220.2L172.4,218L168.3,214.8Z" fill="#465dfb" stroke="#172ecc"/><path d="M168.4,220.2L172.4,223.3L176.4,221.2L172.4,218Z" fill="#475af9" stroke="#192ccb"/><path d="M172.4,223.3L176.4,226.4L180.4,224.3L176.4,221.2Z" fill="#4758f8" stroke="#1a2aca"/><path d="M176.4,226.4L180.4,229.4L184.5,227.4L180.4,224.3Z" fill="#4855f6" stroke="#1b28c9"/><path d="M180.4,229.4L184.5,232.3L188.5,230.4L184.5,227.4Z" fill="#4853f4" stroke="#1c27c8"/><path d="M184.5,232.3L188.5,235.2L192.5,233.3L188.5,230.4Z" fill="#4850f3" stroke="#1c25c8"/><path d="M188.5,235.2L192.5,238L196.5,236.1L192.5,233.3Z" fill="#484ef1" stroke="#1d23c7"/><path d="M192.5,238L196.6,240.7L200.6,238.9L196.5,236.1Z" fill="#484cf0" stroke="#1e22c6"/><path d="M196.6,240.7L200.6,243.4L204.6,241.6L200.6,238.9Z" fill="#484aee" stroke="#1e21c5"/><path d="M200.6,243.4L204.6,246L208.6,244.2L204.6,241.6Z" fill="#4848ec" stroke="#1f1fc4"/><path d="M204.6,246L208.7,248.5L212.7,246.8L208.6,244.2Z" fill="#4747eb" stroke="#1f1ec3"/><path d="M208.7,248.5L212.7,251L216.7,249.2L212.7,246.8Z" fill="#4745e9" stroke="#201dc2"/><path d="M212.7,251L216.7,253.4L220.7,251.7L216.7,249.2Z" fill="#4744e8" stroke="#201cc1"/><path d="M216.7,253.4L220.7,255.7L224.7,254L220.7,251.7Z" fill="#4742e7" stroke="#201cc0"/><path d="M220.7,255.7L224.8,258L228.8,256.3L224.7,254Z" fill="#4741e5" stroke="#201bbf"/><path d="M224.8,258L228.8,260.2L232.8,258.5L228.8,256.3Z" fill="#4740e4" stroke="#211abe"/><path d="M228.8,260.2L232.8,262.3L236.8,260.7L232.8,258.5Z" fill="#4740e3" stroke="#211abd"/><path d="M232.8,262.3L236.9,264.4L240.9,262.7L236.8,260.7Z" fill="#473fe2" stroke="#2119bd"/><path d="M236.9,264.4L240.9,266.4L244.9,264.8L240.9,262.7Z" fill="#473ee2" stroke="#2119bc"/><path d="M240.9,266.4L244.9,268.3L248.9,266.7L244.9,264.8Z" fill="#473ee1" stroke="#2119bc"/><path d="M244.9,268.3L248.9,270.2L253,268.6L248.9,266.7Z" fill="#463ee1" stroke="#2118bc"/><path d="M248.9,270.2L253,272L257,270.4L253,268.6Z" fill="#463ee1" stroke="#2118bb"/><path d="M253,272L257,273.7L261,272.1L257,270.4Z" fill="#463ee1" stroke="#2118bb"/><path d="M257,273.7L261,275.4L265,273.8L261,272.1Z" fill="#463ee1" stroke="#2118bc"/><path d="M261,275.4L265.1,277L269.1,275.4L265,273.8Z" fill="#473ee1" stroke="#2119bc"/><path d="M265.1,277L269.1,278.5L273.1,276.9L269.1,275.4Z" fill="#473ee2" stroke="#2119bc"/><path d="M269.1,278.5L273.1,280L277.1,278.3L273.1,276.9Z" fill="#473fe2" stroke="#2119bd"/><path d="M273.1,280L277.2,281.4L281.2,279.7L277.1,278.3Z" fill="#4740e3" stroke="#211abd"/><path d="M277.2,281.4L281.2,282.7L285.2,281L281.2,279.7Z" fill="#4740e4" stroke="#211abe"/><path d="M281.2,282.7L285.2,284L289.2,282.3L285.2,281Z" fill="#4741e5" stroke="#201bbf"/><path d="M285.2,284L289.2,285.2L293.2,283.5L289.2,282.3Z" fill="#4742e7" stroke="#201bc0"/><path d="M289.2,285.2L293.3,286.3L297.3,284.6L293.2,283.5Z" fill="#4744e8" stroke="#201cc1"/><path d="M293.3,286.3L297.3,287.4L301.3,285.6L297.3,284.6Z" fill="#4745e9" stroke="#201dc1"/><path d="M128.1,191.7L132.1,195.4L136.1,192.7L132.1,189Z" fill="#3777fe" stroke="#0343ca"/><path d="M132.1,195.4L136.2,199L140.2,196.4L136.1,192.7Z" fill="#3b72ff" stroke="#083fcc"/><path d="M136.2,199L140.2,202.5L144.2,200L140.2,196.4Z" fill="#3f6eff" stroke="#0c3ccc"/><path d="M140.2,202.5L144.2,206L148.2,203.5L144.2,200Z" fill="#426afe" stroke="#1039cc"/><path d="M144.2,206L148.2,209.4L152.2,207L148.2,203.5Z" fill="#4367fd" stroke="#1236cc"/><path d="M148.2,209.4L152.3,212.7L156.3,210.4L152.2,207Z" fill="#4563fd" stroke="#1433cc"/><path d="M152.3,212.7L156.3,216L160.3,213.7L156.3,210.4Z" fill="#4660fc" stroke="#1631cc"/><path d="M156.3,216L160.3,219.2L164.3,217L160.3,213.7Z" fill="#465dfa" stroke="#182ecc"/><path d="M160.3,219.2L164.4,222.3L168.4,220.2L164.3,217Z" fill="#475af9" stroke="#192ccb"/><path d="M164.4,222.3L168.4,225.4L172.4,223.3L168.4,220.2Z" fill="#4758f8" stroke="#1a2aca"/><path d="M168.4,225.4L172.4,228.4L176.4,226.4L172.4,223.3Z" fill="#4855f6" stroke="#1b28c9"/><path d="M172.4,228.4L176.4,231.4L180.4,229.4L176.4,226.4Z" fill="#4852f4" stroke="#1c26c8"/><path d="M176.4,231.4L180.5,234.3L184.5,232.3L180.4,229.4Z" fill="#4850f3" stroke="#1c25c7"/><path d="M180.5,234.3L184.5,237.1L188.5,235.2L184.5,232.3Z" fill="#484ef1" stroke="#1d23c6"/><path d="M184.5,237.1L188.5,239.8L192.5,238L188.5,235.2Z" fill="#484cef" stroke="#1e22c5"/><path d="M188.5,239.8L192.6,242.5L196.6,240.7L192.5,238Z" fill="#484aee" stroke="#1e20c4"/><path d="M192.6,242.5L196.6,245.2L200.6,243.4L196.6,240.7Z" fill="#4848ec" stroke="#1f1fc3"/><path d="M196.6,245.2L200.6,247.7L204.6,246L200.6,243.4Z" fill="#4746ea" stroke="#1f1ec2"/><path d="M200.6,247.7L204.6,250.2L208.7,248.5L204.6,246Z" fill="#4744e9" stroke="#201dc1"/><path d="M204.6,250.2L208.7,252.7L212.7,251L208.7,248.5Z" fill="#4743e7" stroke="#201cc0"/><path d="M208.7,252.7L212.7,255.1L216.7,253.4L212.7,251Z" fill="#4742e6" stroke="#201bbf"/><path d="M212.7,255.1L216.7,257.4L220.7,255.7L216.7,253.4Z" fill="#4741e4" stroke="#211abe"/><path d="M216.7,257.4L220.8,259.6L224.8,258L220.7,255.7Z" fill="#473fe3" stroke="#211abd"/><path d="M220.8,259.6L224.8,261.8L228.8,260.2L224.8,258Z" fill="#473fe2" stroke="#2119bc"/><path d="M224.8,261.8L228.8,263.9L232.8,262.3L228.8,260.2Z" fill="#463ee1" stroke="#2118bc"/><path d="M228.8,263.9L232.9,266L236.9,264.4L232.8,262.3Z" fill="#463de0" stroke="#2118bb"/><path d="M232.9,266L236.9,268L240.9,266.4L236.9,264.4Z" fill="#463ddf" stroke="#2118ba"/><path d="M236.9,268L240.9,269.9L244.9,268.3L240.9,266.4Z" fill="#463cdf" stroke="#2117ba"/><path d="M240.9,269.9L244.9,271.8L248.9,270.2L244.9,268.3Z" fill="#463cde" stroke="#2117ba"/><path d="M244.9,271.8L249,273.5L253,272L248.9,270.2Z" fill="#463cde" stroke="#2217ba"/><path d="M249,273.5L253,275.3L257,273.7L253,272Z" fill="#463cde" stroke="#2217ba"/><path d="M253,275.3L257,277L261,275.4L257,273.7Z" fill="#463cde" stroke="#2117ba"/><path d="M257,277L261.1,278.6L265.1,277L261,275.4Z" fill="#463cdf" stroke="#2117ba"/><path d="M261.1,278.6L265.1,280.1L269.1,278.5L265.1,277Z" fill="#463ddf" stroke="#2118ba"/><path d="M265.1,280.1L269.1,281.6L273.1,280L269.1,278.5Z" fill="#463de0" stroke="#2118bb"/><path d="M269.1,281.6L273.1,283L277.2,281.4L273.1,280Z" fill="#463ee1" stroke="#2118bc"/><path d="M273.1,283L277.2,284.3L281.2,282.7L277.2,281.4Z" fill="#473ee2" stroke="#2119bc"/><path d="M277.2,284.3L281.2,285.6L285.2,284L281.2,282.7Z" fill="#473fe3" stroke="#2119bd"/><path d="M281.2,285.6L285.2,286.8L289.2,285.2L285.2,284Z" fill="#4740e4" stroke="#211abe"/><path d="M285.2,286.8L289.3,288L293.3,286.3L289.2,285.2Z" fill="#4742e6" stroke="#201bbf"/><path d="M289.3,288L293.3,289.1L297.3,287.4L293.3,286.3Z" fill="#4743e7" stroke="#201cc0"/><path d="M124.1,194.4L128.1,197.9L132.1,195.4L128.1,191.7Z" fill="#3b72ff" stroke="#083fcc"/><path d="M128.1,197.9L132.1,201.5L136.2,199L132.1,195.4Z" fill="#3f6eff" stroke="#0c3ccc"/><path d="M132.1,201.5L136.2,204.9L140.2,202.5L136.2,199Z" fill="#426afe" stroke="#1038cc"/><path d="M136.2,204.9L140.2,208.3L144.2,206L140.2,202.5Z" fill="#4367fd" stroke="#1236cc"/><path d="M140.2,208.3L144.2,211.7L148.2,209.4L144.2,206Z" fill="#4563fd" stroke="#1433cc"/><path d="M144.2,211.7L148.3,214.9L152.3,212.7L148.2,209.4Z" fill="#4660fc" stroke="#1630cc"/><path d="M148.3,214.9L152.3,218.2L156.3,216L152.3,212.7Z" fill="#465dfa" stroke="#182ecc"/><path d="M152.3,218.2L156.3,221.3L160.3,219.2L156.3,216Z" fill="#475af9" stroke="#192ccb"/><path d="M156.3,221.3L160.4,224.4L164.4,222.3L160.3,219.2Z" fill="#4757f8" stroke="#1a2aca"/><path d="M160.4,224.4L164.4,227.4L168.4,225.4L164.4,222.3Z" fill="#4855f6" stroke="#1b28c9"/><path d="M164.4,227.4L168.4,230.4L172.4,228.4L168.4,225.4Z" fill="#4852f4" stroke="#1c26c8"/><path d="M168.4,230.4L172.4,233.3L176.4,231.4L172.4,228.4Z" fill="#4850f3" stroke="#1d25c7"/><path d="M172.4,233.3L176.5,236.2L180.5,234.3L176.4,231.4Z" fill="#484ef1" stroke="#1d23c6"/><path d="M176.5,236.2L180.5,238.9L184.5,237.1L180.5,234.3Z" fill="#484bef" stroke="#1e22c5"/><path d="M180.5,238.9L184.5,241.7L188.5,239.8L184.5,237.1Z" fill="#4849ed" stroke="#1e20c4"/><path d="M184.5,241.7L188.6,244.3L192.6,242.5L188.5,239.8Z" fill="#4847ec" stroke="#1f1fc3"/><path d="M188.6,244.3L192.6,246.9L196.6,245.2L192.6,242.5Z" fill="#4746ea" stroke="#1f1ec2"/><path d="M192.6,246.9L196.6,249.5L200.6,247.7L196.6,245.2Z" fill="#4744e8" stroke="#201cc1"/><path d="M196.6,249.5L200.6,251.9L204.6,250.2L200.6,247.7Z" fill="#4742e7" stroke="#201bc0"/><path d="M200.6,251.9L204.7,254.4L208.7,252.7L204.6,250.2Z" fill="#4741e5" stroke="#201bbf"/><path d="M204.7,254.4L208.7,256.7L212.7,255.1L208.7,252.7Z" fill="#4740e3" stroke="#211abd"/><path d="M208.7,256.7L212.7,259L216.7,257.4L212.7,255.1Z" fill="#473fe2" stroke="#2119bc"/><path d="M212.7,259L216.8,261.2L220.8,259.6L216.7,257.4Z" fill="#463ee1" stroke="#2118bb"/><path d="M216.8,261.2L220.8,263.4L224.8,261.8L220.8,259.6Z" fill="#463de0" stroke="#2118bb"/><path d="M220.8,263.4L224.8,265.5L228.8,263.9L224.8,261.8Z" fill="#463cdf" stroke="#2117ba"/><path d="M224.8,265.5L228.8,267.5L232.9,266L228.8,263.9Z" fill="#463bde" stroke="#2217b9"/><path d="M228.8,267.5L232.9,269.5L236.9,268L232.9,266Z" fill="#463bdd" stroke="#2217b9"/><path d="M232.9,269.5L236.9,271.4L240.9,269.9L236.9,268Z" fill="#463bdc" stroke="#2216b8"/><path d="M236.9,271.4L240.9,273.3L244.9,271.8L240.9,269.9Z" fill="#463adc" stroke="#2216b8"/><path d="M240.9,273.3L245,275.1L249,273.5L244.9,271.8Z" fill="#463adc" stroke="#2216b8"/><path d="M245,275.1L249,276.8L253,275.3L249,273.5Z" fill="#463adc" stroke="#2216b8"/><path d="M249,276.8L253,278.5L257,277L253,275.3Z" fill="#463adc" stroke="#2216b8"/><path d="M253,278.5L257.1,280.1L261.1,278.6L257,277Z" fill="#463bdc" stroke="#2216b8"/><path d="M257.1,280.1L261.1,281.7L265.1,280.1L261.1,278.6Z" fill="#463bdd" stroke="#2217b9"/><path d="M261.1,281.7L265.1,283.2L269.1,281.6L265.1,280.1Z" fill="#463bde" stroke="#2217b9"/><path d="M265.1,283.2L269.1,284.6L273.1,283L269.1,281.6Z" fill="#463cde" stroke="#2217ba"/><path d="M269.1,284.6L273.2,286L277.2,284.3L273.1,283Z" fill="#463ddf" stroke="#2118ba"/><path d="M273.2,286L277.2,287.3L281.2,285.6L277.2,284.3Z" fill="#463ee1" stroke="#2118bb"/><path d="M277.2,287.3L281.2,288.5L285.2,286.8L281.2,285.6Z" fill="#473ee2" stroke="#2119bc"/><path d="M281.2,288.5L285.3,289.7L289.3,288L285.2,286.8Z" fill="#4740e3" stroke="#211abd"/><path d="M285.3,289.7L289.3,290.8L293.3,289.1L289.3,288Z" fill="#4741e5" stroke="#211abe"/><path d="M120.1,197L124.1,200.5L128.1,197.9L124.1,194.4Z" fill="#3f6eff" stroke="#0d3bcc"/><path d="M124.1,200.5L128.1,203.9L132.1,201.5L128.1,197.9Z" fill="#426afe" stroke="#1038cc"/><path d="M128.1,203.9L132.2,207.3L136.2,204.9L132.1,201.5Z" fill="#4467fd" stroke="#1235cc"/><path d="M132.2,207.3L136.2,210.7L140.2,208.3L136.2,204.9Z" fill="#4563fd" stroke="#1433cc"/><path d="M136.2,210.7L140.2,213.9L144.2,211.7L140.2,208.3Z" fill="#4660fc" stroke="#1630cc"/><path d="M140.2,213.9L144.3,217.2L148.3,214.9L144.2,211.7Z" fill="#465dfa" stroke="#182ecc"/><path d="M144.3,217.2L148.3,220.3L152.3,218.2L148.3,214.9Z" fill="#475af9" stroke="#192ccb"/><path d="M148.3,220.3L152.3,223.4L156.3,221.3L152.3,218.2Z" fill="#4757f7" stroke="#1a2aca"/><path d="M152.3,223.4L156.3,226.5L160.4,224.4L156.3,221.3Z" fill="#4855f6" stroke="#1b28c9"/><path d="M156.3,226.5L160.4,229.4L164.4,227.4L160.4,224.4Z" fill="#4852f4" stroke="#1c26c8"/><path d="M160.4,229.4L164.4,232.4L168.4,230.4L164.4,227.4Z" fill="#4850f2" stroke="#1d25c7"/><path d="M164.4,232.4L168.4,235.2L172.4,233.3L168.4,230.4Z" fill="#484df1" stroke="#1d23c6"/><path d="M168.4,235.2L172.5,238L176.5,236.2L172.4,233.3Z" fill="#484bef" stroke="#1e21c5"/><path d="M172.5,238L176.5,240.8L180.5,238.9L176.5,236.2Z" fill="#4849ed" stroke="#1f20c4"/><path d="M176.5,240.8L180.5,243.5L184.5,241.7L180.5,238.9Z" fill="#4747eb" stroke="#1f1fc3"/><path d="M180.5,243.5L184.6,246.1L188.6,244.3L184.5,241.7Z" fill="#4745e9" stroke="#201dc2"/><path d="M184.6,246.1L188.6,248.7L192.6,246.9L188.6,244.3Z" fill="#4743e8" stroke="#201cc0"/><path d="M188.6,248.7L192.6,251.2L196.6,249.5L192.6,246.9Z" fill="#4742e6" stroke="#201bbf"/><path d="M192.6,251.2L196.6,253.6L200.6,251.9L196.6,249.5Z" fill="#4740e4" stroke="#211abe"/><path d="M196.6,253.6L200.7,256L204.7,254.4L200.6,251.9Z" fill="#473fe3" stroke="#2119bd"/><path d="M200.7,256L204.7,258.3L208.7,256.7L204.7,254.4Z" fill="#463ee1" stroke="#2118bc"/><path d="M204.7,258.3L208.7,260.6L212.7,259L208.7,256.7Z" fill="#463de0" stroke="#2118bb"/><path d="M208.7,260.6L212.8,262.8L216.8,261.2L212.7,259Z" fill="#463cde" stroke="#2217ba"/><path d="M212.8,262.8L216.8,265L220.8,263.4L216.8,261.2Z" fill="#463bdd" stroke="#2217b9"/><path d="M216.8,265L220.8,267.1L224.8,265.5L220.8,263.4Z" fill="#463adc" stroke="#2216b8"/><path d="M220.8,267.1L224.8,269.1L228.8,267.5L224.8,265.5Z" fill="#463adb" stroke="#2216b7"/><path d="M224.8,269.1L228.9,271.1L232.9,269.5L228.8,267.5Z" fill="#4639da" stroke="#2216b7"/><path d="M228.9,271.1L232.9,273L236.9,271.4L232.9,269.5Z" fill="#4639da" stroke="#2215b6"/><path d="M232.9,273L236.9,274.8L240.9,273.3L236.9,271.4Z" fill="#4639d9" stroke="#2215b6"/><path d="M236.9,274.8L241,276.6L245,275.1L240.9,273.3Z" fill="#4639d9" stroke="#2215b6"/><path d="M241,276.6L245,278.4L249,276.8L245,275.1Z" fill="#4639d9" stroke="#2215b6"/><path d="M245,278.4L249,280.1L253,278.5L249,276.8Z" fill="#4639d9" stroke="#2215b6"/><path d="M249,280.1L253,281.7L257.1,280.1L253,278.5Z" fill="#4639da" stroke="#2215b6"/><path d="M253,281.7L257.1,283.2L261.1,281.7L257.1,280.1Z" fill="#4639da" stroke="#2216b6"/><path d="M257.1,283.2L261.1,284.7L265.1,283.2L261.1,281.7Z" fill="#463adb" stroke="#2216b7"/><path d="M261.1,284.7L265.1,286.2L269.1,284.6L265.1,283.2Z" fill="#463adc" stroke="#2216b8"/><path d="M265.1,286.2L269.2,287.6L273.2,286L269.1,284.6Z" fill="#463bdd" stroke="#2217b9"/><path d="M269.2,287.6L273.2,288.9L277.2,287.3L273.2,286Z" fill="#463cde" stroke="#2217b9"/><path d="M273.2,288.9L277.2,290.2L281.2,288.5L277.2,287.3Z" fill="#463ddf" stroke="#2118ba"/><path d="M277.2,290.2L281.3,291.4L285.3,289.7L281.2,288.5Z" fill="#463ee1" stroke="#2118bc"/><path d="M281.3,291.4L285.3,292.5L289.3,290.8L285.3,289.7Z" fill="#473fe2" stroke="#2119bd"/><path d="M116.1,199.6L120.1,203L124.1,200.5L120.1,197Z" fill="#426afe" stroke="#1038cc"/><path d="M120.1,203L124.1,206.4L128.1,203.9L124.1,200.5Z" fill="#4466fd" stroke="#1235cc"/><path d="M124.1,206.4L128.2,209.7L132.2,207.3L128.1,203.9Z" fill="#4563fd" stroke="#1433cc"/><path d="M128.2,209.7L132.2,213L136.2,210.7L132.2,207.3Z" fill="#4660fc" stroke="#1630cc"/><path d="M132.2,213L136.2,216.2L140.2,213.9L136.2,210.7Z" fill="#475dfa" stroke="#182ecc"/><path d="M136.2,216.2L140.3,219.4L144.3,217.2L140.2,213.9Z" fill="#475af9" stroke="#192ccb"/><path d="M140.3,219.4L144.3,222.5L148.3,220.3L144.3,217.2Z" fill="#4757f7" stroke="#1a2aca"/><path d="M144.3,222.5L148.3,225.5L152.3,223.4L148.3,220.3Z" fill="#4854f6" stroke="#1b28c9"/><path d="M148.3,225.5L152.3,228.5L156.3,226.5L152.3,223.4Z" fill="#4852f4" stroke="#1c26c8"/><path d="M152.3,228.5L156.4,231.4L160.4,229.4L156.3,226.5Z" fill="#484ff2" stroke="#1d24c7"/><path d="M156.4,231.4L160.4,234.3L164.4,232.4L160.4,229.4Z" fill="#484df0" stroke="#1d23c6"/><path d="M160.4,234.3L164.4,237.1L168.4,235.2L164.4,232.4Z" fill="#484bef" stroke="#1e21c5"/><path d="M164.4,237.1L168.5,239.9L172.5,238L168.4,235.2Z" fill="#4849ed" stroke="#1f20c4"/><path d="M168.5,239.9L172.5,242.6L176.5,240.8L172.5,238Z" fill="#4747eb" stroke="#1f1ec3"/><path d="M172.5,242.6L176.5,245.2L180.5,243.5L176.5,240.8Z" fill="#4745e9" stroke="#201dc1"/><path d="M176.5,245.2L180.5,247.8L184.6,246.1L180.5,243.5Z" fill="#4743e7" stroke="#201cc0"/><path d="M180.5,247.8L184.6,250.4L188.6,248.7L184.6,246.1Z" fill="#4741e5" stroke="#201bbf"/><path d="M184.6,250.4L188.6,252.8L192.6,251.2L188.6,248.7Z" fill="#4740e4" stroke="#211abe"/><path d="M188.6,252.8L192.6,255.3L196.6,253.6L192.6,251.2Z" fill="#473ee2" stroke="#2119bc"/><path d="M192.6,255.3L196.7,257.6L200.7,256L196.6,253.6Z" fill="#463de0" stroke="#2118bb"/><path d="M196.7,257.6L200.7,259.9L204.7,258.3L200.7,256Z" fill="#463cdf" stroke="#2117ba"/><path d="M200.7,259.9L204.7,262.2L208.7,260.6L204.7,258.3Z" fill="#463bdd" stroke="#2217b9"/><path d="M204.7,262.2L208.8,264.4L212.8,262.8L208.7,260.6Z" fill="#463adc" stroke="#2216b8"/><path d="M208.8,264.4L212.8,266.5L216.8,265L212.8,262.8Z" fill="#4639da" stroke="#2216b7"/><path d="M212.8,266.5L216.8,268.6L220.8,267.1L216.8,265Z" fill="#4639d9" stroke="#2215b6"/><path d="M216.8,268.6L220.8,270.6L224.8,269.1L220.8,267.1Z" fill="#4538d8" stroke="#2215b5"/><path d="M220.8,270.6L224.9,272.6L228.9,271.1L224.8,269.1Z" fill="#4538d8" stroke="#2215b4"/><path d="M224.9,272.6L228.9,274.5L232.9,273L228.9,271.1Z" fill="#4538d7" stroke="#2215b4"/><path d="M228.9,274.5L232.9,276.4L236.9,274.8L232.9,273Z" fill="#4537d7" stroke="#2214b4"/><path d="M232.9,276.4L237,278.2L241,276.6L236.9,274.8Z" fill="#4537d6" stroke="#2214b3"/><path d="M237,278.2L241,279.9L245,278.4L241,276.6Z" fill="#4537d6" stroke="#2214b3"/><path d="M241,279.9L245,281.6L249,280.1L245,278.4Z" fill="#4537d7" stroke="#2214b4"/><path d="M245,281.6L249,283.2L253,281.7L249,280.1Z" fill="#4538d7" stroke="#2215b4"/><path d="M249,283.2L253.1,284.8L257.1,283.2L253,281.7Z" fill="#4538d7" stroke="#2215b4"/><path d="M253.1,284.8L257.1,286.3L261.1,284.7L257.1,283.2Z" fill="#4538d8" stroke="#2215b5"/><path d="M257.1,286.3L261.1,287.8L265.1,286.2L261.1,284.7Z" fill="#4639d9" stroke="#2215b6"/><path d="M261.1,287.8L265.2,289.2L269.2,287.6L265.1,286.2Z" fill="#4639da" stroke="#2216b7"/><path d="M265.2,289.2L269.2,290.5L273.2,288.9L269.2,287.6Z" fill="#463adb" stroke="#2216b7"/><path d="M269.2,290.5L273.2,291.8L277.2,290.2L273.2,288.9Z" fill="#463bdd" stroke="#2217b9"/><path d="M273.2,291.8L277.2,293L281.3,291.4L277.2,290.2Z" fill="#463cde" stroke="#2217ba"/><path d="M277.2,293L281.3,294.2L285.3,292.5L281.3,291.4Z" fill="#463de0" stroke="#2118bb"/><path d="M112.1,202.1L116.1,205.5L120.1,203L116.1,199.6Z" fill="#4466fd" stroke="#1335cc"/><path d="M116.1,205.5L120.1,208.8L124.1,206.4L120.1,203Z" fill="#4563fc" stroke="#1532cc"/><path d="M120.1,208.8L124.2,212L128.2,209.7L124.1,206.4Z" fill="#4660fb" stroke="#1630cc"/><path d="M124.2,212L128.2,215.2L132.2,213L128.2,209.7Z" fill="#475dfa" stroke="#182ecb"/><path d="M128.2,215.2L132.2,218.4L136.2,216.2L132.2,213Z" fill="#475af9" stroke="#192ccb"/><path d="M132.2,218.4L136.2,221.5L140.3,219.4L136.2,216.2Z" fill="#4757f7" stroke="#1a2aca"/><path d="M136.2,221.5L140.3,224.5L144.3,222.5L140.3,219.4Z" fill="#4854f6" stroke="#1b28c9"/><path d="M140.3,224.5L144.3,227.5L148.3,225.5L144.3,222.5Z" fill="#4852f4" stroke="#1c26c8"/><path d="M144.3,227.5L148.3,230.5L152.3,228.5L148.3,225.5Z" fill="#484ff2" stroke="#1d24c7"/><path d="M148.3,230.5L152.4,233.4L156.4,231.4L152.3,228.5Z" fill="#484df0" stroke="#1d23c6"/><path d="M152.4,233.4L156.4,236.2L160.4,234.3L156.4,231.4Z" fill="#484bee" stroke="#1e21c5"/><path d="M156.4,236.2L160.4,239L164.4,237.1L160.4,234.3Z" fill="#4848ec" stroke="#1f20c4"/><path d="M160.4,239L164.5,241.7L168.5,239.9L164.4,237.1Z" fill="#4746eb" stroke="#1f1ec2"/><path d="M164.5,241.7L168.5,244.3L172.5,242.6L168.5,239.9Z" fill="#4744e9" stroke="#201dc1"/><path d="M168.5,244.3L172.5,247L176.5,245.2L172.5,242.6Z" fill="#4743e7" stroke="#201cc0"/><path d="M172.5,247L176.5,249.5L180.5,247.8L176.5,245.2Z" fill="#4741e5" stroke="#201abe"/><path d="M176.5,249.5L180.6,252L184.6,250.4L180.5,247.8Z" fill="#473fe3" stroke="#2119bd"/><path d="M180.6,252L184.6,254.5L188.6,252.8L184.6,250.4Z" fill="#473ee1" stroke="#2119bc"/><path d="M184.6,254.5L188.6,256.9L192.6,255.3L188.6,252.8Z" fill="#463ddf" stroke="#2118ba"/><path d="M188.6,256.9L192.7,259.2L196.7,257.6L192.6,255.3Z" fill="#463bde" stroke="#2217b9"/><path d="M192.7,259.2L196.7,261.5L200.7,259.9L196.7,257.6Z" fill="#463adc" stroke="#2216b8"/><path d="M196.7,261.5L200.7,263.7L204.7,262.2L200.7,259.9Z" fill="#4639da" stroke="#2216b7"/><path d="M200.7,263.7L204.7,265.9L208.8,264.4L204.7,262.2Z" fill="#4639d9" stroke="#2215b6"/><path d="M204.7,265.9L208.8,268L212.8,266.5L208.8,264.4Z" fill="#4538d8" stroke="#2215b5"/><path d="M208.8,268L212.8,270.1L216.8,268.6L212.8,266.5Z" fill="#4537d7" stroke="#2214b4"/><path d="M212.8,270.1L216.8,272.1L220.8,270.6L216.8,268.6Z" fill="#4537d6" stroke="#2214b3"/><path d="M216.8,272.1L220.9,274.1L224.9,272.6L220.8,270.6Z" fill="#4537d5" stroke="#2214b2"/><path d="M220.9,274.1L224.9,276L228.9,274.5L224.9,272.6Z" fill="#4536d4" stroke="#2214b2"/><path d="M224.9,276L228.9,277.8L232.9,276.4L228.9,274.5Z" fill="#4536d4" stroke="#2214b1"/><path d="M228.9,277.8L233,279.6L237,278.2L232.9,276.4Z" fill="#4536d4" stroke="#2214b1"/><path d="M233,279.6L237,281.4L241,279.9L237,278.2Z" fill="#4536d4" stroke="#2214b1"/><path d="M237,281.4L241,283.1L245,281.6L241,279.9Z" fill="#4536d4" stroke="#2214b1"/><path d="M241,283.1L245,284.7L249,283.2L245,281.6Z" fill="#4536d4" stroke="#2214b2"/><path d="M245,284.7L249.1,286.3L253.1,284.8L249,283.2Z" fill="#4536d5" stroke="#2214b2"/><path d="M249.1,286.3L253.1,287.8L257.1,286.3L253.1,284.8Z" fill="#4537d5" stroke="#2214b3"/><path d="M253.1,287.8L257.1,289.3L261.1,287.8L257.1,286.3Z" fill="#4537d6" stroke="#2214b3"/><path d="M257.1,289.3L261.2,290.7L265.2,289.2L261.1,287.8Z" fill="#4538d7" stroke="#2215b4"/><path d="M261.2,290.7L265.2,292.1L269.2,290.5L265.2,289.2Z" fill="#4538d9" stroke="#2215b5"/><path d="M265.2,292.1L269.2,293.4L273.2,291.8L269.2,290.5Z" fill="#4639da" stroke="#2216b6"/><path d="M269.2,293.4L273.2,294.7L277.2,293L273.2,291.8Z" fill="#463adc" stroke="#2216b8"/><path d="M273.2,294.7L277.3,295.9L281.3,294.2L277.2,293Z" fill="#463bdd" stroke="#2217b9"/><path d="M108.1,204.6L112.1,207.9L116.1,205.5L112.1,202.1Z" fill="#4562fc" stroke="#1532cc"/><path d="M112.1,207.9L116.1,211.1L120.1,208.8L116.1,205.5Z" fill="#465ffb" stroke="#1630cc"/><path d="M116.1,211.1L120.2,214.3L124.2,212L120.1,208.8Z" fill="#475cfa" stroke="#182ecb"/><path d="M120.2,214.3L124.2,217.5L128.2,215.2L124.2,212Z" fill="#4759f9" stroke="#192bcb"/><path d="M124.2,217.5L128.2,220.6L132.2,218.4L128.2,215.2Z" fill="#4757f7" stroke="#1a29ca"/><path d="M128.2,220.6L132.2,223.6L136.2,221.5L132.2,218.4Z" fill="#4854f5" stroke="#1b28c9"/><path d="M132.2,223.6L136.3,226.6L140.3,224.5L136.2,221.5Z" fill="#4851f4" stroke="#1c26c8"/><path d="M136.3,226.6L140.3,229.5L144.3,227.5L140.3,224.5Z" fill="#484ff2" stroke="#1d24c7"/><path d="M140.3,229.5L144.3,232.4L148.3,230.5L144.3,227.5Z" fill="#484df0" stroke="#1e22c6"/><path d="M144.3,232.4L148.4,235.3L152.4,233.4L148.3,230.5Z" fill="#484aee" stroke="#1e21c5"/><path d="M148.4,235.3L152.4,238L156.4,236.2L152.4,233.4Z" fill="#4848ec" stroke="#1f1fc3"/><path d="M152.4,238L156.4,240.8L160.4,239L156.4,236.2Z" fill="#4746ea" stroke="#1f1ec2"/><path d="M156.4,240.8L160.4,243.5L164.5,241.7L160.4,239Z" fill="#4744e8" stroke="#201dc1"/><path d="M160.4,243.5L164.5,246.1L168.5,244.3L164.5,241.7Z" fill="#4742e6" stroke="#201bc0"/><path d="M164.5,246.1L168.5,248.7L172.5,247L168.5,244.3Z" fill="#4741e4" stroke="#211abe"/><path d="M168.5,248.7L172.5,251.2L176.5,249.5L172.5,247Z" fill="#473fe2" stroke="#2119bd"/><path d="M172.5,251.2L176.6,253.7L180.6,252L176.5,249.5Z" fill="#463de1" stroke="#2118bb"/><path d="M176.6,253.7L180.6,256.1L184.6,254.5L180.6,252Z" fill="#463cdf" stroke="#2117ba"/><path d="M180.6,256.1L184.6,258.4L188.6,256.9L184.6,254.5Z" fill="#463bdd" stroke="#2217b9"/><path d="M184.6,258.4L188.7,260.8L192.7,259.2L188.6,256.9Z" fill="#463adb" stroke="#2216b7"/><path d="M188.7,260.8L192.7,263L196.7,261.5L192.7,259.2Z" fill="#4639d9" stroke="#2215b6"/><path d="M192.7,263L196.7,265.2L200.7,263.7L196.7,261.5Z" fill="#4538d8" stroke="#2215b5"/><path d="M196.7,265.2L200.7,267.4L204.7,265.9L200.7,263.7Z" fill="#4537d6" stroke="#2214b3"/><path d="M200.7,267.4L204.8,269.5L208.8,268L204.7,265.9Z" fill="#4537d5" stroke="#2214b2"/><path d="M204.8,269.5L208.8,271.6L212.8,270.1L208.8,268Z" fill="#4536d4" stroke="#2214b1"/><path d="M208.8,271.6L212.8,273.6L216.8,272.1L212.8,270.1Z" fill="#4536d3" stroke="#2213b1"/><path d="M212.8,273.6L216.9,275.5L220.9,274.1L216.8,272.1Z" fill="#4535d2" stroke="#2313b0"/><path d="M216.9,275.5L220.9,277.5L224.9,276L220.9,274.1Z" fill="#4435d1" stroke="#2313af"/><path d="M220.9,277.5L224.9,279.3L228.9,277.8L224.9,276Z" fill="#4435d1" stroke="#2313af"/><path d="M224.9,279.3L228.9,281.1L233,279.6L228.9,277.8Z" fill="#4435d1" stroke="#2313af"/><path d="M228.9,281.1L233,282.9L237,281.4L233,279.6Z" fill="#4435d1" stroke="#2313af"/><path d="M233,282.9L237,284.6L241,283.1L237,281.4Z" fill="#4435d1" stroke="#2313af"/><path d="M237,284.6L241,286.2L245,284.7L241,283.1Z" fill="#4435d1" stroke="#2313af"/><path d="M241,286.2L245.1,287.8L249.1,286.3L245,284.7Z" fill="#4535d2" stroke="#2313b0"/><path d="M245.1,287.8L249.1,289.3L253.1,287.8L249.1,286.3Z" fill="#4535d3" stroke="#2213b0"/><path d="M249.1,289.3L253.1,290.8L257.1,289.3L253.1,287.8Z" fill="#4536d3" stroke="#2214b1"/><path d="M253.1,290.8L257.2,292.3L261.2,290.7L257.1,289.3Z" fill="#4536d5" stroke="#2214b2"/><path d="M257.2,292.3L261.2,293.7L265.2,292.1L261.2,290.7Z" fill="#4537d6" stroke="#2214b3"/><path d="M261.2,293.7L265.2,295L269.2,293.4L265.2,292.1Z" fill="#4538d7" stroke="#2215b4"/><path d="M265.2,295L269.2,296.3L273.2,294.7L269.2,293.4Z" fill="#4538d9" stroke="#2215b5"/><path d="M269.2,296.3L273.3,297.5L277.3,295.9L273.2,294.7Z" fill="#4639da" stroke="#2216b7"/><path d="M104.1,207.1L108.1,210.3L112.1,207.9L108.1,204.6Z" fill="#465ffb" stroke="#1730cc"/><path d="M108.1,210.3L112.1,213.5L116.1,211.1L112.1,207.9Z" fill="#475cfa" stroke="#182dcb"/><path d="M112.1,213.5L116.2,216.6L120.2,214.3L116.1,211.1Z" fill="#4759f8" stroke="#192bcb"/><path d="M116.2,216.6L120.2,219.7L124.2,217.5L120.2,214.3Z" fill="#4756f7" stroke="#1a29ca"/><path d="M120.2,219.7L124.2,222.7L128.2,220.6L124.2,217.5Z" fill="#4854f5" stroke="#1b27c9"/><path d="M124.2,222.7L128.2,225.7L132.2,223.6L128.2,220.6Z" fill="#4851f3" stroke="#1c26c8"/><path d="M128.2,225.7L132.3,228.6L136.3,226.6L132.2,223.6Z" fill="#484ff2" stroke="#1d24c7"/><path d="M132.3,228.6L136.3,231.5L140.3,229.5L136.3,226.6Z" fill="#484cf0" stroke="#1e22c6"/><path d="M136.3,231.5L140.3,234.4L144.3,232.4L140.3,229.5Z" fill="#484aee" stroke="#1e21c4"/><path d="M140.3,234.4L144.4,237.1L148.4,235.3L144.3,232.4Z" fill="#4848ec" stroke="#1f1fc3"/><path d="M144.4,237.1L148.4,239.9L152.4,238L148.4,235.3Z" fill="#4746ea" stroke="#1f1ec2"/><path d="M148.4,239.9L152.4,242.6L156.4,240.8L152.4,238Z" fill="#4744e8" stroke="#201cc1"/><path d="M152.4,242.6L156.4,245.2L160.4,243.5L156.4,240.8Z" fill="#4742e6" stroke="#201bbf"/><path d="M156.4,245.2L160.5,247.8L164.5,246.1L160.4,243.5Z" fill="#4740e4" stroke="#211abe"/><path d="M160.5,247.8L164.5,250.3L168.5,248.7L164.5,246.1Z" fill="#473fe2" stroke="#2119bc"/><path d="M164.5,250.3L168.5,252.8L172.5,251.2L168.5,248.7Z" fill="#463de0" stroke="#2118bb"/><path d="M168.5,252.8L172.6,255.3L176.6,253.7L172.5,251.2Z" fill="#463cde" stroke="#2217b9"/><path d="M172.6,255.3L176.6,257.7L180.6,256.1L176.6,253.7Z" fill="#463adc" stroke="#2216b8"/><path d="M176.6,257.7L180.6,260L184.6,258.4L180.6,256.1Z" fill="#4639da" stroke="#2216b6"/><path d="M180.6,260L184.6,262.3L188.7,260.8L184.6,258.4Z" fill="#4538d8" stroke="#2215b5"/><path d="M184.6,262.3L188.7,264.5L192.7,263L188.7,260.8Z" fill="#4537d7" stroke="#2214b4"/><path d="M188.7,264.5L192.7,266.7L196.7,265.2L192.7,263Z" fill="#4537d5" stroke="#2214b2"/><path d="M192.7,266.7L196.7,268.9L200.7,267.4L196.7,265.2Z" fill="#4536d3" stroke="#2214b1"/><path d="M196.7,268.9L200.8,271L204.8,269.5L200.7,267.4Z" fill="#4535d2" stroke="#2213b0"/><path d="M200.8,271L204.8,273L208.8,271.6L204.8,269.5Z" fill="#4435d1" stroke="#2313af"/><path d="M204.8,273L208.8,275L212.8,273.6L208.8,271.6Z" fill="#4434d0" stroke="#2313ae"/><path d="M208.8,275L212.9,277L216.9,275.5L212.8,273.6Z" fill="#4434cf" stroke="#2313ae"/><path d="M212.9,277L216.9,278.9L220.9,277.5L216.9,275.5Z" fill="#4434cf" stroke="#2312ad"/><path d="M216.9,278.9L220.9,280.7L224.9,279.3L220.9,277.5Z" fill="#4434ce" stroke="#2312ad"/><path d="M220.9,280.7L224.9,282.6L228.9,281.1L224.9,279.3Z" fill="#4434ce" stroke="#2312ad"/><path d="M224.9,282.6L229,284.3L233,282.9L228.9,281.1Z" fill="#4434ce" stroke="#2312ac"/><path d="M229,284.3L233,286L237,284.6L233,282.9Z" fill="#4434ce" stroke="#2312ad"/><path d="M233,286L237,287.7L241,286.2L237,284.6Z" fill="#4434ce" stroke="#2312ad"/><path d="M237,287.7L241.1,289.3L245.1,287.8L241,286.2Z" fill="#4434cf" stroke="#2312ad"/><path d="M241.1,289.3L245.1,290.8L249.1,289.3L245.1,287.8Z" fill="#4434d0" stroke="#2313ae"/><path d="M245.1,290.8L249.1,292.3L253.1,290.8L249.1,289.3Z" fill="#4435d0" stroke="#2313af"/><path d="M249.1,292.3L253.1,293.8L257.2,292.3L253.1,290.8Z" fill="#4435d2" stroke="#2313b0"/><path d="M253.1,293.8L257.2,295.2L261.2,293.7L257.2,292.3Z" fill="#4536d3" stroke="#2213b1"/><path d="M257.2,295.2L261.2,296.6L265.2,295L261.2,293.7Z" fill="#4536d4" stroke="#2214b2"/><path d="M261.2,296.6L265.2,297.9L269.2,296.3L265.2,295Z" fill="#4537d6" stroke="#2214b3"/><path d="M265.2,297.9L269.3,299.1L273.3,297.5L269.2,296.3Z" fill="#4538d7" stroke="#2215b4"/><path d="M100.1,209.5L104.1,212.6L108.1,210.3L104.1,207.1Z" fill="#475bfa" stroke="#182dcb"/><path d="M104.1,212.6L108.1,215.8L112.1,213.5L108.1,210.3Z" fill="#4759f8" stroke="#192bca"/><path d="M108.1,215.8L112.1,218.8L116.2,216.6L112.1,213.5Z" fill="#4756f7" stroke="#1b29ca"/><path d="M112.1,218.8L116.2,221.8L120.2,219.7L116.2,216.6Z" fill="#4853f5" stroke="#1b27c9"/><path d="M116.2,221.8L120.2,224.8L124.2,222.7L120.2,219.7Z" fill="#4851f3" stroke="#1c25c8"/><path d="M120.2,224.8L124.2,227.7L128.2,225.7L124.2,222.7Z" fill="#484ef1" stroke="#1d24c7"/><path d="M124.2,227.7L128.3,230.6L132.3,228.6L128.2,225.7Z" fill="#484cf0" stroke="#1e22c5"/><path d="M128.3,230.6L132.3,233.5L136.3,231.5L132.3,228.6Z" fill="#484aee" stroke="#1e20c4"/><path d="M132.3,233.5L136.3,236.2L140.3,234.4L136.3,231.5Z" fill="#4848ec" stroke="#1f1fc3"/><path d="M136.3,236.2L140.4,239L144.4,237.1L140.3,234.4Z" fill="#4745ea" stroke="#1f1dc2"/><path d="M140.4,239L144.4,241.7L148.4,239.9L144.4,237.1Z" fill="#4743e8" stroke="#201cc0"/><path d="M144.4,241.7L148.4,244.3L152.4,242.6L148.4,239.9Z" fill="#4742e6" stroke="#201bbf"/><path d="M148.4,244.3L152.4,246.9L156.4,245.2L152.4,242.6Z" fill="#4740e4" stroke="#211abe"/><path d="M152.4,246.9L156.5,249.5L160.5,247.8L156.4,245.2Z" fill="#473ee1" stroke="#2119bc"/><path d="M156.5,249.5L160.5,252L164.5,250.3L160.5,247.8Z" fill="#463ddf" stroke="#2118ba"/><path d="M160.5,252L164.5,254.4L168.5,252.8L164.5,250.3Z" fill="#463bdd" stroke="#2217b9"/><path d="M164.5,254.4L168.6,256.9L172.6,255.3L168.5,252.8Z" fill="#463adb" stroke="#2216b7"/><path d="M168.6,256.9L172.6,259.2L176.6,257.7L172.6,255.3Z" fill="#4639d9" stroke="#2215b6"/><path d="M172.6,259.2L176.6,261.5L180.6,260L176.6,257.7Z" fill="#4538d7" stroke="#2215b4"/><path d="M176.6,261.5L180.6,263.8L184.6,262.3L180.6,260Z" fill="#4537d6" stroke="#2214b3"/><path d="M180.6,263.8L184.7,266L188.7,264.5L184.6,262.3Z" fill="#4536d4" stroke="#2214b1"/><path d="M184.7,266L188.7,268.2L192.7,266.7L188.7,264.5Z" fill="#4535d2" stroke="#2213b0"/><path d="M188.7,268.2L192.7,270.3L196.7,268.9L192.7,266.7Z" fill="#4435d1" stroke="#2313af"/><path d="M192.7,270.3L196.8,272.4L200.8,271L196.7,268.9Z" fill="#4434cf" stroke="#2313ae"/><path d="M196.8,272.4L200.8,274.5L204.8,273L200.8,271Z" fill="#4434ce" stroke="#2312ad"/><path d="M200.8,274.5L204.8,276.5L208.8,275L204.8,273Z" fill="#4433cd" stroke="#2312ac"/><path d="M204.8,276.5L208.9,278.4L212.9,277L208.8,275Z" fill="#4433cc" stroke="#2312ab"/><path d="M208.9,278.4L212.9,280.3L216.9,278.9L212.9,277Z" fill="#4433cc" stroke="#2312ab"/><path d="M212.9,280.3L216.9,282.2L220.9,280.7L216.9,278.9Z" fill="#4433cb" stroke="#2312aa"/><path d="M216.9,282.2L220.9,284L224.9,282.6L220.9,280.7Z" fill="#4433cb" stroke="#2312aa"/><path d="M220.9,284L225,285.7L229,284.3L224.9,282.6Z" fill="#4432cb" stroke="#2312aa"/><path d="M225,285.7L229,287.4L233,286L229,284.3Z" fill="#4433cb" stroke="#2312aa"/><path d="M229,287.4L233,289.1L237,287.7L233,286Z" fill="#4433cb" stroke="#2312aa"/><path d="M233,289.1L237.1,290.7L241.1,289.3L237,287.7Z" fill="#4433cc" stroke="#2312ab"/><path d="M237.1,290.7L241.1,292.3L245.1,290.8L241.1,289.3Z" fill="#4433cd" stroke="#2312ab"/><path d="M241.1,292.3L245.1,293.8L249.1,292.3L245.1,290.8Z" fill="#4433cd" stroke="#2312ac"/><path d="M245.1,293.8L249.1,295.3L253.1,293.8L249.1,292.3Z" fill="#4434ce" stroke="#2312ad"/><path d="M249.1,295.3L253.2,296.7L257.2,295.2L253.1,293.8Z" fill="#4434d0" stroke="#2313ae"/><path d="M253.2,296.7L257.2,298.1L261.2,296.6L257.2,295.2Z" fill="#4435d1" stroke="#2313af"/><path d="M257.2,298.1L261.2,299.5L265.2,297.9L261.2,296.6Z" fill="#4535d3" stroke="#2213b0"/><path d="M261.2,299.5L265.3,300.8L269.3,299.1L265.2,297.9Z" fill="#4536d4" stroke="#2214b2"/><path d="M96.1,211.9L100.1,215L104.1,212.6L100.1,209.5Z" fill="#4758f8" stroke="#1a2bca"/><path d="M100.1,215L104.1,218L108.1,215.8L104.1,212.6Z" fill="#4855f6" stroke="#1b29c9"/><path d="M104.1,218L108.1,221L112.1,218.8L108.1,215.8Z" fill="#4853f5" stroke="#1c27c9"/><path d="M108.1,221L112.2,224L116.2,221.8L112.1,218.8Z" fill="#4850f3" stroke="#1c25c8"/><path d="M112.2,224L116.2,226.9L120.2,224.8L116.2,221.8Z" fill="#484ef1" stroke="#1d23c6"/><path d="M116.2,226.9L120.2,229.8L124.2,227.7L120.2,224.8Z" fill="#484cef" stroke="#1e22c5"/><path d="M120.2,229.8L124.3,232.6L128.3,230.6L124.2,227.7Z" fill="#4849ed" stroke="#1e20c4"/><path d="M124.3,232.6L128.3,235.4L132.3,233.5L128.3,230.6Z" fill="#4747eb" stroke="#1f1fc3"/><path d="M128.3,235.4L132.3,238.1L136.3,236.2L132.3,233.5Z" fill="#4745e9" stroke="#201dc2"/><path d="M132.3,238.1L136.3,240.8L140.4,239L136.3,236.2Z" fill="#4743e7" stroke="#201cc0"/><path d="M136.3,240.8L140.4,243.4L144.4,241.7L140.4,239Z" fill="#4741e5" stroke="#201bbf"/><path d="M140.4,243.4L144.4,246L148.4,244.3L144.4,241.7Z" fill="#473fe3" stroke="#211abd"/><path d="M144.4,246L148.4,248.6L152.4,246.9L148.4,244.3Z" fill="#463ee1" stroke="#2118bc"/><path d="M148.4,248.6L152.5,251.1L156.5,249.5L152.4,246.9Z" fill="#463cdf" stroke="#2117ba"/><path d="M152.5,251.1L156.5,253.6L160.5,252L156.5,249.5Z" fill="#463bdd" stroke="#2217b8"/><path d="M156.5,253.6L160.5,256L164.5,254.4L160.5,252Z" fill="#463adb" stroke="#2216b7"/><path d="M160.5,256L164.6,258.4L168.6,256.9L164.5,254.4Z" fill="#4538d9" stroke="#2215b5"/><path d="M164.6,258.4L168.6,260.7L172.6,259.2L168.6,256.9Z" fill="#4537d6" stroke="#2214b4"/><path d="M168.6,260.7L172.6,263L176.6,261.5L172.6,259.2Z" fill="#4536d5" stroke="#2214b2"/><path d="M172.6,263L176.6,265.3L180.6,263.8L176.6,261.5Z" fill="#4536d3" stroke="#2213b0"/><path d="M176.6,265.3L180.7,267.5L184.7,266L180.6,263.8Z" fill="#4435d1" stroke="#2313af"/><path d="M180.7,267.5L184.7,269.7L188.7,268.2L184.7,266Z" fill="#4434cf" stroke="#2313ae"/><path d="M184.7,269.7L188.7,271.8L192.7,270.3L188.7,268.2Z" fill="#4434ce" stroke="#2312ac"/><path d="M188.7,271.8L192.8,273.9L196.8,272.4L192.7,270.3Z" fill="#4433cc" stroke="#2312ab"/><path d="M192.8,273.9L196.8,275.9L200.8,274.5L196.8,272.4Z" fill="#4433cb" stroke="#2312aa"/><path d="M196.8,275.9L200.8,277.9L204.8,276.5L200.8,274.5Z" fill="#4332ca" stroke="#2312aa"/><path d="M200.8,277.9L204.8,279.8L208.9,278.4L204.8,276.5Z" fill="#4332ca" stroke="#2311a9"/><path d="M204.8,279.8L208.9,281.7L212.9,280.3L208.9,278.4Z" fill="#4332c9" stroke="#2311a8"/><path d="M208.9,281.7L212.9,283.6L216.9,282.2L212.9,280.3Z" fill="#4332c8" stroke="#2311a8"/><path d="M212.9,283.6L216.9,285.4L220.9,284L216.9,282.2Z" fill="#4331c8" stroke="#2311a8"/><path d="M216.9,285.4L221,287.1L225,285.7L220.9,284Z" fill="#4331c8" stroke="#2311a8"/><path d="M221,287.1L225,288.9L229,287.4L225,285.7Z" fill="#4331c8" stroke="#2311a8"/><path d="M225,288.9L229,290.5L233,289.1L229,287.4Z" fill="#4332c8" stroke="#2311a8"/><path d="M229,290.5L233.1,292.2L237.1,290.7L233,289.1Z" fill="#4332c9" stroke="#2311a8"/><path d="M233.1,292.2L237.1,293.8L241.1,292.3L237.1,290.7Z" fill="#4332ca" stroke="#2311a9"/><path d="M237.1,293.8L241.1,295.3L245.1,293.8L241.1,292.3Z" fill="#4332ca" stroke="#2312aa"/><path d="M241.1,295.3L245.1,296.8L249.1,295.3L245.1,293.8Z" fill="#4433cb" stroke="#2312aa"/><path d="M245.1,296.8L249.2,298.3L253.2,296.7L249.1,295.3Z" fill="#4433cc" stroke="#2312ab"/><path d="M249.2,298.3L253.2,299.7L257.2,298.1L253.2,296.7Z" fill="#4434ce" stroke="#2312ac"/><path d="M253.2,299.7L257.2,301L261.2,299.5L257.2,298.1Z" fill="#4434cf" stroke="#2313ae"/><path d="M257.2,301L261.3,302.4L265.3,300.8L261.2,299.5Z" fill="#4435d1" stroke="#2313af"/><path d="M92.1,214.2L96.1,217.2L100.1,215L96.1,211.9Z" fill="#4855f6" stroke="#1b28c9"/><path d="M96.1,217.2L100.1,220.2L104.1,218L100.1,215Z" fill="#4852f4" stroke="#1c26c8"/><path d="M100.1,220.2L104.1,223.2L108.1,221L104.1,218Z" fill="#4850f3" stroke="#1d25c7"/><path d="M104.1,223.2L108.2,226.1L112.2,224L108.1,221Z" fill="#484df1" stroke="#1d23c6"/><path d="M108.2,226.1L112.2,228.9L116.2,226.9L112.2,224Z" fill="#484bef" stroke="#1e21c5"/><path d="M112.2,228.9L116.2,231.7L120.2,229.8L116.2,226.9Z" fill="#4849ed" stroke="#1f20c4"/><path d="M116.2,231.7L120.3,234.5L124.3,232.6L120.2,229.8Z" fill="#4747eb" stroke="#1f1ec3"/><path d="M120.3,234.5L124.3,237.2L128.3,235.4L124.3,232.6Z" fill="#4745e9" stroke="#201dc1"/><path d="M124.3,237.2L128.3,239.9L132.3,238.1L128.3,235.4Z" fill="#4743e7" stroke="#201cc0"/><path d="M128.3,239.9L132.3,242.6L136.3,240.8L132.3,238.1Z" fill="#4741e5" stroke="#211abe"/><path d="M132.3,242.6L136.4,245.2L140.4,243.4L136.3,240.8Z" fill="#473fe3" stroke="#2119bd"/><path d="M136.4,245.2L140.4,247.7L144.4,246L140.4,243.4Z" fill="#463de0" stroke="#2118bb"/><path d="M140.4,247.7L144.4,250.3L148.4,248.6L144.4,246Z" fill="#463cde" stroke="#2217ba"/><path d="M144.4,250.3L148.5,252.7L152.5,251.1L148.4,248.6Z" fill="#463adc" stroke="#2216b8"/><path d="M148.5,252.7L152.5,255.2L156.5,253.6L152.5,251.1Z" fill="#4639da" stroke="#2216b6"/><path d="M152.5,255.2L156.5,257.6L160.5,256L156.5,253.6Z" fill="#4538d8" stroke="#2215b5"/><path d="M156.5,257.6L160.5,259.9L164.6,258.4L160.5,256Z" fill="#4537d6" stroke="#2214b3"/><path d="M160.5,259.9L164.6,262.2L168.6,260.7L164.6,258.4Z" fill="#4536d4" stroke="#2214b1"/><path d="M164.6,262.2L168.6,264.5L172.6,263L168.6,260.7Z" fill="#4535d2" stroke="#2313b0"/><path d="M168.6,264.5L172.6,266.7L176.6,265.3L172.6,263Z" fill="#4434d0" stroke="#2313ae"/><path d="M172.6,266.7L176.7,268.9L180.7,267.5L176.6,265.3Z" fill="#4434ce" stroke="#2312ad"/><path d="M176.7,268.9L180.7,271.1L184.7,269.7L180.7,267.5Z" fill="#4433cc" stroke="#2312ab"/><path d="M180.7,271.1L184.7,273.2L188.7,271.8L184.7,269.7Z" fill="#4432cb" stroke="#2312aa"/><path d="M184.7,273.2L188.8,275.3L192.8,273.9L188.7,271.8Z" fill="#4332ca" stroke="#2311a9"/><path d="M188.8,275.3L192.8,277.3L196.8,275.9L192.8,273.9Z" fill="#4332c9" stroke="#2311a8"/><path d="M192.8,277.3L196.8,279.3L200.8,277.9L196.8,275.9Z" fill="#4331c8" stroke="#2311a7"/><path d="M196.8,279.3L200.8,281.2L204.8,279.8L200.8,277.9Z" fill="#4331c7" stroke="#2311a7"/><path d="M200.8,281.2L204.9,283.1L208.9,281.7L204.8,279.8Z" fill="#4331c6" stroke="#2311a6"/><path d="M204.9,283.1L208.9,284.9L212.9,283.6L208.9,281.7Z" fill="#4331c6" stroke="#2311a6"/><path d="M208.9,284.9L212.9,286.8L216.9,285.4L212.9,283.6Z" fill="#4330c5" stroke="#2311a5"/><path d="M212.9,286.8L217,288.5L221,287.1L216.9,285.4Z" fill="#4330c5" stroke="#2311a5"/><path d="M217,288.5L221,290.3L225,288.9L221,287.1Z" fill="#4330c5" stroke="#2311a5"/><path d="M221,290.3L225,291.9L229,290.5L225,288.9Z" fill="#4331c6" stroke="#2311a6"/><path d="M225,291.9L229,293.6L233.1,292.2L229,290.5Z" fill="#4331c6" stroke="#2311a6"/><path d="M229,293.6L233.1,295.2L237.1,293.8L233.1,292.2Z" fill="#4331c7" stroke="#2311a6"/><path d="M233.1,295.2L237.1,296.8L241.1,295.3L237.1,293.8Z" fill="#4331c7" stroke="#2311a7"/><path d="M237.1,296.8L241.1,298.3L245.1,296.8L241.1,295.3Z" fill="#4331c8" stroke="#2311a8"/><path d="M241.1,298.3L245.2,299.8L249.2,298.3L245.1,296.8Z" fill="#4332c9" stroke="#2311a9"/><path d="M245.2,299.8L249.2,301.2L253.2,299.7L249.2,298.3Z" fill="#4332cb" stroke="#2312aa"/><path d="M249.2,301.2L253.2,302.6L257.2,301L253.2,299.7Z" fill="#4433cc" stroke="#2312ab"/><path d="M253.2,302.6L257.3,304L261.3,302.4L257.2,301Z" fill="#4433ce" stroke="#2312ac"/><path d="M88,216.5L92.1,219.5L96.1,217.2L92.1,214.2Z" fill="#4852f4" stroke="#1c26c8"/><path d="M92.1,219.5L96.1,222.4L100.1,220.2L96.1,217.2Z" fill="#484ff2" stroke="#1d24c7"/><path d="M96.1,222.4L100.1,225.3L104.1,223.2L100.1,220.2Z" fill="#484df0" stroke="#1d23c6"/><path d="M100.1,225.3L104.2,228.1L108.2,226.1L104.1,223.2Z" fill="#484bee" stroke="#1e21c5"/><path d="M104.2,228.1L108.2,230.9L112.2,228.9L108.2,226.1Z" fill="#4848ec" stroke="#1f20c4"/><path d="M108.2,230.9L112.2,233.7L116.2,231.7L112.2,228.9Z" fill="#4746ea" stroke="#1f1ec2"/><path d="M112.2,233.7L116.3,236.4L120.3,234.5L116.2,231.7Z" fill="#4744e8" stroke="#201dc1"/><path d="M116.3,236.4L120.3,239.1L124.3,237.2L120.3,234.5Z" fill="#4742e6" stroke="#201bc0"/><path d="M120.3,239.1L124.3,241.7L128.3,239.9L124.3,237.2Z" fill="#4740e4" stroke="#211abe"/><path d="M124.3,241.7L128.3,244.3L132.3,242.6L128.3,239.9Z" fill="#473fe2" stroke="#2119bc"/><path d="M128.3,244.3L132.4,246.9L136.4,245.2L132.3,242.6Z" fill="#463de0" stroke="#2118bb"/><path d="M132.4,246.9L136.4,249.4L140.4,247.7L136.4,245.2Z" fill="#463bde" stroke="#2217b9"/><path d="M136.4,249.4L140.4,251.9L144.4,250.3L140.4,247.7Z" fill="#463adb" stroke="#2216b7"/><path d="M140.4,251.9L144.5,254.3L148.5,252.7L144.4,250.3Z" fill="#4639d9" stroke="#2215b6"/><path d="M144.5,254.3L148.5,256.7L152.5,255.2L148.5,252.7Z" fill="#4538d7" stroke="#2215b4"/><path d="M148.5,256.7L152.5,259.1L156.5,257.6L152.5,255.2Z" fill="#4537d5" stroke="#2214b2"/><path d="M152.5,259.1L156.5,261.4L160.5,259.9L156.5,257.6Z" fill="#4536d3" stroke="#2213b1"/><path d="M156.5,261.4L160.6,263.7L164.6,262.2L160.5,259.9Z" fill="#4435d1" stroke="#2313af"/><path d="M160.6,263.7L164.6,266L168.6,264.5L164.6,262.2Z" fill="#4434cf" stroke="#2312ad"/><path d="M164.6,266L168.6,268.2L172.6,266.7L168.6,264.5Z" fill="#4433cd" stroke="#2312ac"/><path d="M168.6,268.2L172.7,270.3L176.7,268.9L172.6,266.7Z" fill="#4433cb" stroke="#2312aa"/><path d="M172.7,270.3L176.7,272.5L180.7,271.1L176.7,268.9Z" fill="#4332ca" stroke="#2311a9"/><path d="M176.7,272.5L180.7,274.6L184.7,273.2L180.7,271.1Z" fill="#4331c8" stroke="#2311a8"/><path d="M180.7,274.6L184.7,276.6L188.8,275.3L184.7,273.2Z" fill="#4331c7" stroke="#2311a7"/><path d="M184.7,276.6L188.8,278.6L192.8,277.3L188.8,275.3Z" fill="#4331c6" stroke="#2311a6"/><path d="M188.8,278.6L192.8,280.6L196.8,279.3L192.8,277.3Z" fill="#4330c5" stroke="#2310a5"/><path d="M192.8,280.6L196.8,282.5L200.8,281.2L196.8,279.3Z" fill="#4230c4" stroke="#2310a4"/><path d="M196.8,282.5L200.9,284.4L204.9,283.1L200.8,281.2Z" fill="#4230c3" stroke="#2310a4"/><path d="M200.9,284.4L204.9,286.3L208.9,284.9L204.9,283.1Z" fill="#4230c3" stroke="#2310a3"/><path d="M204.9,286.3L208.9,288.1L212.9,286.8L208.9,284.9Z" fill="#4230c3" stroke="#2310a3"/><path d="M208.9,288.1L213,289.9L217,288.5L212.9,286.8Z" fill="#422fc3" stroke="#2310a3"/><path d="M213,289.9L217,291.6L221,290.3L217,288.5Z" fill="#422fc3" stroke="#2310a3"/><path d="M217,291.6L221,293.3L225,291.9L221,290.3Z" fill="#4230c3" stroke="#2310a3"/><path d="M221,293.3L225,295L229,293.6L225,291.9Z" fill="#4230c3" stroke="#2310a4"/><path d="M225,295L229.1,296.6L233.1,295.2L229,293.6Z" fill="#4230c4" stroke="#2310a4"/><path d="M229.1,296.6L233.1,298.2L237.1,296.8L233.1,295.2Z" fill="#4330c4" stroke="#2310a5"/><path d="M233.1,298.2L237.1,299.7L241.1,298.3L237.1,296.8Z" fill="#4330c5" stroke="#2311a5"/><path d="M237.1,299.7L241.2,301.3L245.2,299.8L241.1,298.3Z" fill="#4331c6" stroke="#2311a6"/><path d="M241.2,301.3L245.2,302.7L249.2,301.2L245.2,299.8Z" fill="#4331c7" stroke="#2311a7"/><path d="M245.2,302.7L249.2,304.1L253.2,302.6L249.2,301.2Z" fill="#4332c9" stroke="#2311a8"/><path d="M249.2,304.1L253.2,305.5L257.3,304L253.2,302.6Z" fill="#4332ca" stroke="#2312a9"/><path d="M84,218.8L88.1,221.7L92.1,219.5L88,216.5Z" fill="#484ef1" stroke="#1d24c7"/><path d="M88.1,221.7L92.1,224.6L96.1,222.4L92.1,219.5Z" fill="#484cf0" stroke="#1e22c6"/><path d="M92.1,224.6L96.1,227.4L100.1,225.3L96.1,222.4Z" fill="#484aee" stroke="#1e21c4"/><path d="M96.1,227.4L100.2,230.1L104.2,228.1L100.1,225.3Z" fill="#4848ec" stroke="#1f1fc3"/><path d="M100.2,230.1L104.2,232.9L108.2,230.9L104.2,228.1Z" fill="#4746ea" stroke="#1f1ec2"/><path d="M104.2,232.9L108.2,235.6L112.2,233.7L108.2,230.9Z" fill="#4744e8" stroke="#201cc1"/><path d="M108.2,235.6L112.2,238.3L116.3,236.4L112.2,233.7Z" fill="#4742e6" stroke="#201bbf"/><path d="M112.2,238.3L116.3,240.9L120.3,239.1L116.3,236.4Z" fill="#4740e4" stroke="#211abe"/><path d="M116.3,240.9L120.3,243.5L124.3,241.7L120.3,239.1Z" fill="#473ee2" stroke="#2119bc"/><path d="M120.3,243.5L124.3,246L128.3,244.3L124.3,241.7Z" fill="#463ddf" stroke="#2118ba"/><path d="M124.3,246L128.4,248.6L132.4,246.9L128.3,244.3Z" fill="#463bdd" stroke="#2217b9"/><path d="M128.4,248.6L132.4,251L136.4,249.4L132.4,246.9Z" fill="#463adb" stroke="#2216b7"/><path d="M132.4,251L136.4,253.5L140.4,251.9L136.4,249.4Z" fill="#4538d9" stroke="#2215b5"/><path d="M136.4,253.5L140.5,255.9L144.5,254.3L140.4,251.9Z" fill="#4537d6" stroke="#2214b3"/><path d="M140.5,255.9L144.5,258.3L148.5,256.7L144.5,254.3Z" fill="#4536d4" stroke="#2214b2"/><path d="M144.5,258.3L148.5,260.6L152.5,259.1L148.5,256.7Z" fill="#4535d2" stroke="#2313b0"/><path d="M148.5,260.6L152.5,262.9L156.5,261.4L152.5,259.1Z" fill="#4434d0" stroke="#2313ae"/><path d="M152.5,262.9L156.6,265.2L160.6,263.7L156.5,261.4Z" fill="#4434ce" stroke="#2312ac"/><path d="M156.6,265.2L160.6,267.4L164.6,266L160.6,263.7Z" fill="#4433cc" stroke="#2312ab"/><path d="M160.6,267.4L164.6,269.6L168.6,268.2L164.6,266Z" fill="#4332ca" stroke="#2311a9"/><path d="M164.6,269.6L168.7,271.7L172.7,270.3L168.6,268.2Z" fill="#4332c8" stroke="#2311a8"/><path d="M168.7,271.7L172.7,273.8L176.7,272.5L172.7,270.3Z" fill="#4331c7" stroke="#2311a7"/><path d="M172.7,273.8L176.7,275.9L180.7,274.6L176.7,272.5Z" fill="#4330c5" stroke="#2311a6"/><path d="M176.7,275.9L180.7,278L184.7,276.6L180.7,274.6Z" fill="#4230c4" stroke="#2310a5"/><path d="M180.7,278L184.8,280L188.8,278.6L184.7,276.6Z" fill="#4230c3" stroke="#2310a4"/><path d="M184.8,280L188.8,281.9L192.8,280.6L188.8,278.6Z" fill="#422fc2" stroke="#2310a3"/><path d="M188.8,281.9L192.8,283.9L196.8,282.5L192.8,280.6Z" fill="#422fc1" stroke="#2310a2"/><path d="M192.8,283.9L196.9,285.8L200.9,284.4L196.8,282.5Z" fill="#422fc1" stroke="#2310a2"/><path d="M196.9,285.8L200.9,287.6L204.9,286.3L200.9,284.4Z" fill="#422fc0" stroke="#2310a1"/><path d="M200.9,287.6L204.9,289.5L208.9,288.1L204.9,286.3Z" fill="#422fc0" stroke="#2310a1"/><path d="M204.9,289.5L208.9,291.2L213,289.9L208.9,288.1Z" fill="#422fc0" stroke="#2310a1"/><path d="M208.9,291.2L213,293L217,291.6L213,289.9Z" fill="#422fc0" stroke="#2310a1"/><path d="M213,293L217,294.7L221,293.3L217,291.6Z" fill="#422fc0" stroke="#2310a1"/><path d="M217,294.7L221,296.4L225,295L221,293.3Z" fill="#422fc0" stroke="#2310a1"/><path d="M221,296.4L225.1,298L229.1,296.6L225,295Z" fill="#422fc1" stroke="#2310a2"/><path d="M225.1,298L229.1,299.6L233.1,298.2L229.1,296.6Z" fill="#422fc1" stroke="#2310a2"/><path d="M229.1,299.6L233.1,301.2L237.1,299.7L233.1,298.2Z" fill="#422fc2" stroke="#2310a3"/><path d="M233.1,301.2L237.2,302.7L241.2,301.3L237.1,299.7Z" fill="#4230c3" stroke="#2310a4"/><path d="M237.2,302.7L241.2,304.2L245.2,302.7L241.2,301.3Z" fill="#4230c4" stroke="#2310a4"/><path d="M241.2,304.2L245.2,305.7L249.2,304.1L245.2,302.7Z" fill="#4330c5" stroke="#2311a6"/><path d="M245.2,305.7L249.2,307.1L253.2,305.5L249.2,304.1Z" fill="#4331c7" stroke="#2311a7"/><path d="M80,221.1L84.1,223.9L88.1,221.7L84,218.8Z" fill="#484bef" stroke="#1e22c5"/><path d="M84.1,223.9L88.1,226.7L92.1,224.6L88.1,221.7Z" fill="#4849ed" stroke="#1e20c4"/><path d="M88.1,226.7L92.1,229.4L96.1,227.4L92.1,224.6Z" fill="#4747eb" stroke="#1f1fc3"/><path d="M92.1,229.4L96.2,232.1L100.2,230.1L96.1,227.4Z" fill="#4745e9" stroke="#201dc2"/><path d="M96.2,232.1L100.2,234.8L104.2,232.9L100.2,230.1Z" fill="#4743e7" stroke="#201cc0"/><path d="M100.2,234.8L104.2,237.5L108.2,235.6L104.2,232.9Z" fill="#4741e5" stroke="#201bbf"/><path d="M104.2,237.5L108.2,240.1L112.2,238.3L108.2,235.6Z" fill="#473fe3" stroke="#211abd"/><path d="M108.2,240.1L112.3,242.7L116.3,240.9L112.2,238.3Z" fill="#463ee1" stroke="#2118bc"/><path d="M112.3,242.7L116.3,245.2L120.3,243.5L116.3,240.9Z" fill="#463cdf" stroke="#2117ba"/><path d="M116.3,245.2L120.3,247.7L124.3,246L120.3,243.5Z" fill="#463bdc" stroke="#2216b8"/><path d="M120.3,247.7L124.4,250.2L128.4,248.6L124.3,246Z" fill="#4639da" stroke="#2216b6"/><path d="M124.4,250.2L128.4,252.6L132.4,251L128.4,248.6Z" fill="#4538d8" stroke="#2215b5"/><path d="M128.4,252.6L132.4,255L136.4,253.5L132.4,251Z" fill="#4537d6" stroke="#2214b3"/><path d="M132.4,255L136.4,257.4L140.5,255.9L136.4,253.5Z" fill="#4536d3" stroke="#2214b1"/><path d="M136.4,257.4L140.5,259.8L144.5,258.3L140.5,255.9Z" fill="#4435d1" stroke="#2313af"/><path d="M140.5,259.8L144.5,262.1L148.5,260.6L144.5,258.3Z" fill="#4434cf" stroke="#2312ad"/><path d="M144.5,262.1L148.5,264.3L152.5,262.9L148.5,260.6Z" fill="#4433cd" stroke="#2312ac"/><path d="M148.5,264.3L152.6,266.6L156.6,265.2L152.5,262.9Z" fill="#4432cb" stroke="#2312aa"/><path d="M152.6,266.6L156.6,268.8L160.6,267.4L156.6,265.2Z" fill="#4332c9" stroke="#2311a8"/><path d="M156.6,268.8L160.6,271L164.6,269.6L160.6,267.4Z" fill="#4331c7" stroke="#2311a7"/><path d="M160.6,271L164.7,273.1L168.7,271.7L164.6,269.6Z" fill="#4331c6" stroke="#2311a6"/><path d="M164.7,273.1L168.7,275.2L172.7,273.8L168.7,271.7Z" fill="#4230c4" stroke="#2310a4"/><path d="M168.7,275.2L172.7,277.3L176.7,275.9L172.7,273.8Z" fill="#4230c3" stroke="#2310a3"/><path d="M172.7,277.3L176.7,279.3L180.7,278L176.7,275.9Z" fill="#422fc2" stroke="#2310a2"/><path d="M176.7,279.3L180.8,281.3L184.8,280L180.7,278Z" fill="#422fc1" stroke="#2310a2"/><path d="M180.8,281.3L184.8,283.3L188.8,281.9L184.8,280Z" fill="#422ec0" stroke="#230fa1"/><path d="M184.8,283.3L188.8,285.2L192.8,283.9L188.8,281.9Z" fill="#422ebf" stroke="#230fa0"/><path d="M188.8,285.2L192.9,287.1L196.9,285.8L192.8,283.9Z" fill="#422ebe" stroke="#230fa0"/><path d="M192.9,287.1L196.9,289L200.9,287.6L196.9,285.8Z" fill="#412ebe" stroke="#230f9f"/><path d="M196.9,289L200.9,290.8L204.9,289.5L200.9,287.6Z" fill="#412ebe" stroke="#230f9f"/><path d="M200.9,290.8L204.9,292.6L208.9,291.2L204.9,289.5Z" fill="#412ebd" stroke="#230f9f"/><path d="M204.9,292.6L209,294.3L213,293L208.9,291.2Z" fill="#412ebd" stroke="#230f9f"/><path d="M209,294.3L213,296.1L217,294.7L213,293Z" fill="#412ebd" stroke="#230f9f"/><path d="M213,296.1L217,297.8L221,296.4L217,294.7Z" fill="#412ebe" stroke="#230f9f"/><path d="M217,297.8L221.1,299.4L225.1,298L221,296.4Z" fill="#412ebe" stroke="#230f9f"/><path d="M221.1,299.4L225.1,301L229.1,299.6L225.1,298Z" fill="#422ebf" stroke="#230fa0"/><path d="M225.1,301L229.1,302.6L233.1,301.2L229.1,299.6Z" fill="#422ebf" stroke="#230fa0"/><path d="M229.1,302.6L233.1,304.2L237.2,302.7L233.1,301.2Z" fill="#422fc0" stroke="#2310a1"/><path d="M233.1,304.2L237.2,305.7L241.2,304.2L237.2,302.7Z" fill="#422fc1" stroke="#2310a2"/><path d="M237.2,305.7L241.2,307.2L245.2,305.7L241.2,304.2Z" fill="#422fc2" stroke="#2310a3"/><path d="M241.2,307.2L245.2,308.6L249.2,307.1L245.2,305.7Z" fill="#4230c3" stroke="#2310a4"/><path d="M76,223.3L80.1,226L84.1,223.9L80,221.1Z" fill="#4848ec" stroke="#1f1fc4"/><path d="M80.1,226L84.1,228.7L88.1,226.7L84.1,223.9Z" fill="#4746eb" stroke="#1f1ec2"/><path d="M84.1,228.7L88.1,231.4L92.1,229.4L88.1,226.7Z" fill="#4744e9" stroke="#201dc1"/><path d="M88.1,231.4L92.1,234.1L96.2,232.1L92.1,229.4Z" fill="#4742e7" stroke="#201bc0"/><path d="M92.1,234.1L96.2,236.7L100.2,234.8L96.2,232.1Z" fill="#4741e4" stroke="#211abe"/><path d="M96.2,236.7L100.2,239.3L104.2,237.5L100.2,234.8Z" fill="#473fe2" stroke="#2119bd"/><path d="M100.2,239.3L104.2,241.9L108.2,240.1L104.2,237.5Z" fill="#463de0" stroke="#2118bb"/><path d="M104.2,241.9L108.3,244.4L112.3,242.7L108.2,240.1Z" fill="#463cde" stroke="#2217b9"/><path d="M108.3,244.4L112.3,246.9L116.3,245.2L112.3,242.7Z" fill="#463adc" stroke="#2216b8"/><path d="M112.3,246.9L116.3,249.4L120.3,247.7L116.3,245.2Z" fill="#4639d9" stroke="#2215b6"/><path d="M116.3,249.4L120.4,251.8L124.4,250.2L120.3,247.7Z" fill="#4538d7" stroke="#2215b4"/><path d="M120.4,251.8L124.4,254.2L128.4,252.6L124.4,250.2Z" fill="#4536d5" stroke="#2214b2"/><path d="M124.4,254.2L128.4,256.6L132.4,255L128.4,252.6Z" fill="#4535d2" stroke="#2213b0"/><path d="M128.4,256.6L132.4,258.9L136.4,257.4L132.4,255Z" fill="#4434d0" stroke="#2313ae"/><path d="M132.4,258.9L136.5,261.2L140.5,259.8L136.4,257.4Z" fill="#4434ce" stroke="#2312ad"/><path d="M136.5,261.2L140.5,263.5L144.5,262.1L140.5,259.8Z" fill="#4433cc" stroke="#2312ab"/><path d="M140.5,263.5L144.5,265.8L148.5,264.3L144.5,262.1Z" fill="#4332ca" stroke="#2311a9"/><path d="M144.5,265.8L148.6,268L152.6,266.6L148.5,264.3Z" fill="#4331c8" stroke="#2311a8"/><path d="M148.6,268L152.6,270.2L156.6,268.8L152.6,266.6Z" fill="#4331c6" stroke="#2311a6"/><path d="M152.6,270.2L156.6,272.3L160.6,271L156.6,268.8Z" fill="#4330c4" stroke="#2310a5"/><path d="M156.6,272.3L160.6,274.4L164.7,273.1L160.6,271Z" fill="#4230c3" stroke="#2310a3"/><path d="M160.6,274.4L164.7,276.5L168.7,275.2L164.7,273.1Z" fill="#422fc2" stroke="#2310a2"/><path d="M164.7,276.5L168.7,278.6L172.7,277.3L168.7,275.2Z" fill="#422fc0" stroke="#2310a1"/><path d="M168.7,278.6L172.7,280.6L176.7,279.3L172.7,277.3Z" fill="#422ebf" stroke="#230fa0"/><path d="M172.7,280.6L176.8,282.6L180.8,281.3L176.7,279.3Z" fill="#422ebe" stroke="#230f9f"/><path d="M176.8,282.6L180.8,284.6L184.8,283.3L180.8,281.3Z" fill="#412ebd" stroke="#230f9f"/><path d="M180.8,284.6L184.8,286.5L188.8,285.2L184.8,283.3Z" fill="#412dbd" stroke="#230f9e"/><path d="M184.8,286.5L188.9,288.4L192.9,287.1L188.8,285.2Z" fill="#412dbc" stroke="#230f9e"/><path d="M188.9,288.4L192.9,290.2L196.9,289L192.9,287.1Z" fill="#412dbc" stroke="#230f9d"/><path d="M192.9,290.2L196.9,292.1L200.9,290.8L196.9,289Z" fill="#412dbb" stroke="#230f9d"/><path d="M196.9,292.1L200.9,293.9L204.9,292.6L200.9,290.8Z" fill="#412dbb" stroke="#230e9d"/><path d="M200.9,293.9L205,295.7L209,294.3L204.9,292.6Z" fill="#412dbb" stroke="#230e9d"/><path d="M205,295.7L209,297.4L213,296.1L209,294.3Z" fill="#412dbb" stroke="#230e9d"/><path d="M209,297.4L213,299.1L217,297.8L213,296.1Z" fill="#412dbb" stroke="#230f9d"/><path d="M213,299.1L217.1,300.8L221.1,299.4L217,297.8Z" fill="#412dbb" stroke="#230f9d"/><path d="M217.1,300.8L221.1,302.4L225.1,301L221.1,299.4Z" fill="#412dbc" stroke="#230f9e"/><path d="M221.1,302.4L225.1,304L229.1,302.6L225.1,301Z" fill="#412dbc" stroke="#230f9e"/><path d="M225.1,304L229.1,305.6L233.1,304.2L229.1,302.6Z" fill="#412dbd" stroke="#230f9f"/><path d="M229.1,305.6L233.2,307.2L237.2,305.7L233.1,304.2Z" fill="#412ebe" stroke="#230f9f"/><path d="M233.2,307.2L237.2,308.7L241.2,307.2L237.2,305.7Z" fill="#422ebf" stroke="#230fa0"/><path d="M237.2,308.7L241.2,310.2L245.2,308.6L241.2,307.2Z" fill="#422fc0" stroke="#2310a1"/><path d="M72,225.4L76.1,228.1L80.1,226L76,223.3Z" fill="#4745ea" stroke="#1f1dc2"/><path d="M76.1,228.1L80.1,230.8L84.1,228.7L80.1,226Z" fill="#4743e8" stroke="#201cc0"/><path d="M80.1,230.8L84.1,233.4L88.1,231.4L84.1,228.7Z" fill="#4742e6" stroke="#201bbf"/><path d="M84.1,233.4L88.1,236L92.1,234.1L88.1,231.4Z" fill="#4740e4" stroke="#211abe"/><path d="M88.1,236L92.2,238.6L96.2,236.7L92.1,234.1Z" fill="#473ee2" stroke="#2119bc"/><path d="M92.2,238.6L96.2,241.1L100.2,239.3L96.2,236.7Z" fill="#463ddf" stroke="#2118ba"/><path d="M96.2,241.1L100.2,243.6L104.2,241.9L100.2,239.3Z" fill="#463bdd" stroke="#2217b9"/><path d="M100.2,243.6L104.3,246.1L108.3,244.4L104.2,241.9Z" fill="#463adb" stroke="#2216b7"/><path d="M104.3,246.1L108.3,248.6L112.3,246.9L108.3,244.4Z" fill="#4538d9" stroke="#2215b5"/><path d="M108.3,248.6L112.3,251L116.3,249.4L112.3,246.9Z" fill="#4537d6" stroke="#2214b3"/><path d="M112.3,251L116.3,253.4L120.4,251.8L116.3,249.4Z" fill="#4536d4" stroke="#2214b1"/><path d="M116.3,253.4L120.4,255.8L124.4,254.2L120.4,251.8Z" fill="#4535d2" stroke="#2313b0"/><path d="M120.4,255.8L124.4,258.1L128.4,256.6L124.4,254.2Z" fill="#4434cf" stroke="#2313ae"/><path d="M124.4,258.1L128.4,260.4L132.4,258.9L128.4,256.6Z" fill="#4433cd" stroke="#2312ac"/><path d="M128.4,260.4L132.5,262.7L136.5,261.2L132.4,258.9Z" fill="#4432cb" stroke="#2312aa"/><path d="M132.5,262.7L136.5,264.9L140.5,263.5L136.5,261.2Z" fill="#4332c9" stroke="#2311a8"/><path d="M136.5,264.9L140.5,267.2L144.5,265.8L140.5,263.5Z" fill="#4331c7" stroke="#2311a7"/><path d="M140.5,267.2L144.6,269.3L148.6,268L144.5,265.8Z" fill="#4330c5" stroke="#2311a5"/><path d="M144.6,269.3L148.6,271.5L152.6,270.2L148.6,268Z" fill="#4230c3" stroke="#2310a4"/><path d="M148.6,271.5L152.6,273.6L156.6,272.3L152.6,270.2Z" fill="#422fc2" stroke="#2310a3"/><path d="M152.6,273.6L156.6,275.7L160.6,274.4L156.6,272.3Z" fill="#422fc0" stroke="#2310a1"/><path d="M156.6,275.7L160.7,277.8L164.7,276.5L160.6,274.4Z" fill="#422ebf" stroke="#230fa0"/><path d="M160.7,277.8L164.7,279.9L168.7,278.6L164.7,276.5Z" fill="#412ebe" stroke="#230f9f"/><path d="M164.7,279.9L168.7,281.9L172.7,280.6L168.7,278.6Z" fill="#412dbd" stroke="#230f9e"/><path d="M168.7,281.9L172.8,283.9L176.8,282.6L172.7,280.6Z" fill="#412dbc" stroke="#230f9e"/><path d="M172.8,283.9L176.8,285.8L180.8,284.6L176.8,282.6Z" fill="#412dbb" stroke="#230f9d"/><path d="M176.8,285.8L180.8,287.8L184.8,286.5L180.8,284.6Z" fill="#412cba" stroke="#230e9c"/><path d="M180.8,287.8L184.8,289.7L188.9,288.4L184.8,286.5Z" fill="#412cba" stroke="#230e9c"/><path d="M184.8,289.7L188.9,291.5L192.9,290.2L188.9,288.4Z" fill="#412cb9" stroke="#230e9b"/><path d="M188.9,291.5L192.9,293.4L196.9,292.1L192.9,290.2Z" fill="#412cb9" stroke="#230e9b"/><path d="M192.9,293.4L196.9,295.2L200.9,293.9L196.9,292.1Z" fill="#412cb9" stroke="#230e9b"/><path d="M196.9,295.2L201,297L205,295.7L200.9,293.9Z" fill="#412cb9" stroke="#230e9b"/><path d="M201,297L205,298.7L209,297.4L205,295.7Z" fill="#412cb9" stroke="#230e9b"/><path d="M205,298.7L209,300.4L213,299.1L209,297.4Z" fill="#412cb9" stroke="#230e9b"/><path d="M209,300.4L213.1,302.1L217.1,300.8L213,299.1Z" fill="#412cb9" stroke="#230e9b"/><path d="M213.1,302.1L217.1,303.8L221.1,302.4L217.1,300.8Z" fill="#412cb9" stroke="#230e9b"/><path d="M217.1,303.8L221.1,305.4L225.1,304L221.1,302.4Z" fill="#412cba" stroke="#230e9c"/><path d="M221.1,305.4L225.1,307L229.1,305.6L225.1,304Z" fill="#412cba" stroke="#230e9c"/><path d="M225.1,307L229.2,308.6L233.2,307.2L229.1,305.6Z" fill="#412dbb" stroke="#230f9d"/><path d="M229.2,308.6L233.2,310.2L237.2,308.7L233.2,307.2Z" fill="#412dbc" stroke="#230f9e"/><path d="M233.2,310.2L237.2,311.7L241.2,310.2L237.2,308.7Z" fill="#412dbd" stroke="#230f9e"/><path d="M68,227.6L72.1,230.2L76.1,228.1L72,225.4Z" fill="#4742e7" stroke="#201cc0"/><path d="M72.1,230.2L76.1,232.8L80.1,230.8L76.1,228.1Z" fill="#4741e5" stroke="#211abe"/><path d="M76.1,232.8L80.1,235.4L84.1,233.4L80.1,230.8Z" fill="#473fe3" stroke="#2119bd"/><path d="M80.1,235.4L84.1,237.9L88.1,236L84.1,233.4Z" fill="#463de0" stroke="#2118bb"/><path d="M84.1,237.9L88.2,240.4L92.2,238.6L88.1,236Z" fill="#463cde" stroke="#2217ba"/><path d="M88.2,240.4L92.2,242.9L96.2,241.1L92.2,238.6Z" fill="#463adc" stroke="#2216b8"/><path d="M92.2,242.9L96.2,245.4L100.2,243.6L96.2,241.1Z" fill="#4639da" stroke="#2215b6"/><path d="M96.2,245.4L100.3,247.8L104.3,246.1L100.2,243.6Z" fill="#4538d8" stroke="#2215b4"/><path d="M100.3,247.8L104.3,250.2L108.3,248.6L104.3,246.1Z" fill="#4537d5" stroke="#2214b3"/><path d="M104.3,250.2L108.3,252.6L112.3,251L108.3,248.6Z" fill="#4536d3" stroke="#2213b1"/><path d="M108.3,252.6L112.3,254.9L116.3,253.4L112.3,251Z" fill="#4435d1" stroke="#2313af"/><path d="M112.3,254.9L116.4,257.3L120.4,255.8L116.3,253.4Z" fill="#4434ce" stroke="#2312ad"/><path d="M116.4,257.3L120.4,259.6L124.4,258.1L120.4,255.8Z" fill="#4433cc" stroke="#2312ab"/><path d="M120.4,259.6L124.4,261.9L128.4,260.4L124.4,258.1Z" fill="#4332ca" stroke="#2311a9"/><path d="M124.4,261.9L128.5,264.1L132.5,262.7L128.4,260.4Z" fill="#4331c8" stroke="#2311a8"/><path d="M128.5,264.1L132.5,266.3L136.5,264.9L132.5,262.7Z" fill="#4331c6" stroke="#2311a6"/><path d="M132.5,266.3L136.5,268.5L140.5,267.2L136.5,264.9Z" fill="#4230c4" stroke="#2310a4"/><path d="M136.5,268.5L140.5,270.7L144.6,269.3L140.5,267.2Z" fill="#422fc2" stroke="#2310a3"/><path d="M140.5,270.7L144.6,272.8L148.6,271.5L144.6,269.3Z" fill="#422fc1" stroke="#2310a2"/><path d="M144.6,272.8L148.6,274.9L152.6,273.6L148.6,271.5Z" fill="#422ebf" stroke="#230fa0"/><path d="M148.6,274.9L152.6,277L156.6,275.7L152.6,273.6Z" fill="#412ebe" stroke="#230f9f"/><path d="M152.6,277L156.7,279.1L160.7,277.8L156.6,275.7Z" fill="#412dbd" stroke="#230f9e"/><path d="M156.7,279.1L160.7,281.1L164.7,279.9L160.7,277.8Z" fill="#412dbc" stroke="#230f9d"/><path d="M160.7,281.1L164.7,283.1L168.7,281.9L164.7,279.9Z" fill="#412cbb" stroke="#230e9c"/><path d="M164.7,283.1L168.8,285.1L172.8,283.9L168.7,281.9Z" fill="#412cba" stroke="#230e9c"/><path d="M168.8,285.1L172.8,287.1L176.8,285.8L172.8,283.9Z" fill="#412cb9" stroke="#230e9b"/><path d="M172.8,287.1L176.8,289L180.8,287.8L176.8,285.8Z" fill="#402bb8" stroke="#230e9a"/><path d="M176.8,289L180.8,290.9L184.8,289.7L180.8,287.8Z" fill="#402bb7" stroke="#230e9a"/><path d="M180.8,290.9L184.9,292.8L188.9,291.5L184.8,289.7Z" fill="#402bb7" stroke="#230e9a"/><path d="M184.9,292.8L188.9,294.6L192.9,293.4L188.9,291.5Z" fill="#402bb7" stroke="#230e99"/><path d="M188.9,294.6L192.9,296.4L196.9,295.2L192.9,293.4Z" fill="#402bb6" stroke="#230d99"/><path d="M192.9,296.4L197,298.2L201,297L196.9,295.2Z" fill="#402bb6" stroke="#230d99"/><path d="M197,298.2L201,300L205,298.7L201,297Z" fill="#402bb6" stroke="#230d99"/><path d="M201,300L205,301.8L209,300.4L205,298.7Z" fill="#402bb6" stroke="#230d99"/><path d="M205,301.8L209,303.5L213.1,302.1L209,300.4Z" fill="#402bb6" stroke="#230e99"/><path d="M209,303.5L213.1,305.2L217.1,303.8L213.1,302.1Z" fill="#402bb7" stroke="#230e99"/><path d="M213.1,305.2L217.1,306.8L221.1,305.4L217.1,303.8Z" fill="#402bb7" stroke="#230e9a"/><path d="M217.1,306.8L221.1,308.5L225.1,307L221.1,305.4Z" fill="#402bb8" stroke="#230e9a"/><path d="M221.1,308.5L225.2,310.1L229.2,308.6L225.1,307Z" fill="#402cb8" stroke="#230e9b"/><path d="M225.2,310.1L229.2,311.6L233.2,310.2L229.2,308.6Z" fill="#412cb9" stroke="#230e9b"/><path d="M229.2,311.6L233.2,313.2L237.2,311.7L233.2,310.2Z" fill="#412cba" stroke="#230e9c"/><path d="M64,229.7L68,232.2L72.1,230.2L68,227.6Z" fill="#4740e3" stroke="#211abd"/><path d="M68,232.2L72.1,234.8L76.1,232.8L72.1,230.2Z" fill="#473ee1" stroke="#2119bc"/><path d="M72.1,234.8L76.1,237.3L80.1,235.4L76.1,232.8Z" fill="#463ddf" stroke="#2118ba"/><path d="M76.1,237.3L80.1,239.8L84.1,237.9L80.1,235.4Z" fill="#463bdd" stroke="#2217b9"/><path d="M80.1,239.8L84.2,242.2L88.2,240.4L84.1,237.9Z" fill="#463adb" stroke="#2216b7"/><path d="M84.2,242.2L88.2,244.7L92.2,242.9L88.2,240.4Z" fill="#4538d9" stroke="#2215b5"/><path d="M88.2,244.7L92.2,247.1L96.2,245.4L92.2,242.9Z" fill="#4537d6" stroke="#2214b4"/><path d="M92.2,247.1L96.3,249.5L100.3,247.8L96.2,245.4Z" fill="#4536d4" stroke="#2214b2"/><path d="M96.3,249.5L100.3,251.8L104.3,250.2L100.3,247.8Z" fill="#4535d2" stroke="#2313b0"/><path d="M100.3,251.8L104.3,254.2L108.3,252.6L104.3,250.2Z" fill="#4434d0" stroke="#2313ae"/><path d="M104.3,254.2L108.3,256.5L112.3,254.9L108.3,252.6Z" fill="#4433cd" stroke="#2312ac"/><path d="M108.3,256.5L112.4,258.8L116.4,257.3L112.3,254.9Z" fill="#4433cb" stroke="#2312aa"/><path d="M112.4,258.8L116.4,261L120.4,259.6L116.4,257.3Z" fill="#4332c9" stroke="#2311a9"/><path d="M116.4,261L120.4,263.3L124.4,261.9L120.4,259.6Z" fill="#4331c7" stroke="#2311a7"/><path d="M120.4,263.3L124.5,265.5L128.5,264.1L124.4,261.9Z" fill="#4330c5" stroke="#2311a5"/><path d="M124.5,265.5L128.5,267.7L132.5,266.3L128.5,264.1Z" fill="#4230c3" stroke="#2310a4"/><path d="M128.5,267.7L132.5,269.9L136.5,268.5L132.5,266.3Z" fill="#422fc1" stroke="#2310a2"/><path d="M132.5,269.9L136.5,272L140.5,270.7L136.5,268.5Z" fill="#422ec0" stroke="#2310a1"/><path d="M136.5,272L140.6,274.1L144.6,272.8L140.5,270.7Z" fill="#422ebe" stroke="#230fa0"/><path d="M140.6,274.1L144.6,276.2L148.6,274.9L144.6,272.8Z" fill="#412dbd" stroke="#230f9e"/><path d="M144.6,276.2L148.6,278.3L152.6,277L148.6,274.9Z" fill="#412dbc" stroke="#230f9d"/><path d="M148.6,278.3L152.7,280.3L156.7,279.1L152.6,277Z" fill="#412cba" stroke="#230e9c"/><path d="M152.7,280.3L156.7,282.4L160.7,281.1L156.7,279.1Z" fill="#412cb9" stroke="#230e9c"/><path d="M156.7,282.4L160.7,284.4L164.7,283.1L160.7,281.1Z" fill="#412cb8" stroke="#230e9b"/><path d="M160.7,284.4L164.8,286.4L168.8,285.1L164.7,283.1Z" fill="#402bb7" stroke="#230e9a"/><path d="M164.8,286.4L168.8,288.3L172.8,287.1L168.8,285.1Z" fill="#402bb7" stroke="#230e99"/><path d="M168.8,288.3L172.8,290.2L176.8,289L172.8,287.1Z" fill="#402bb6" stroke="#230d99"/><path d="M172.8,290.2L176.8,292.1L180.8,290.9L176.8,289Z" fill="#402ab5" stroke="#230d98"/><path d="M176.8,292.1L180.9,294L184.9,292.8L180.8,290.9Z" fill="#402ab5" stroke="#230d98"/><path d="M180.9,294L184.9,295.9L188.9,294.6L184.9,292.8Z" fill="#402ab4" stroke="#230d97"/><path d="M184.9,295.9L188.9,297.7L192.9,296.4L188.9,294.6Z" fill="#402ab4" stroke="#230d97"/><path d="M188.9,297.7L193,299.5L197,298.2L192.9,296.4Z" fill="#402ab4" stroke="#230d97"/><path d="M193,299.5L197,301.3L201,300L197,298.2Z" fill="#402ab4" stroke="#230d97"/><path d="M197,301.3L201,303.1L205,301.8L201,300Z" fill="#402ab4" stroke="#230d97"/><path d="M201,303.1L205,304.8L209,303.5L205,301.8Z" fill="#402ab4" stroke="#230d97"/><path d="M205,304.8L209.1,306.5L213.1,305.2L209,303.5Z" fill="#402ab4" stroke="#230d97"/><path d="M209.1,306.5L213.1,308.2L217.1,306.8L213.1,305.2Z" fill="#402ab4" stroke="#230d97"/><path d="M213.1,308.2L217.1,309.8L221.1,308.5L217.1,306.8Z" fill="#402ab5" stroke="#230d98"/><path d="M217.1,309.8L221.2,311.5L225.2,310.1L221.1,308.5Z" fill="#402ab5" stroke="#230d98"/><path d="M221.2,311.5L225.2,313.1L229.2,311.6L225.2,310.1Z" fill="#402bb6" stroke="#230d99"/><path d="M225.2,313.1L229.2,314.7L233.2,313.2L229.2,311.6Z" fill="#402bb7" stroke="#230e99"/><path d="M60,231.8L64,234.2L68,232.2L64,229.7Z" fill="#463de0" stroke="#2118bb"/><path d="M64,234.2L68.1,236.7L72.1,234.8L68,232.2Z" fill="#463cde" stroke="#2217b9"/><path d="M68.1,236.7L72.1,239.2L76.1,237.3L72.1,234.8Z" fill="#463adc" stroke="#2216b8"/><path d="M72.1,239.2L76.1,241.6L80.1,239.8L76.1,237.3Z" fill="#4639da" stroke="#2215b6"/><path d="M76.1,241.6L80.2,244L84.2,242.2L80.1,239.8Z" fill="#4538d7" stroke="#2215b4"/><path d="M80.2,244L84.2,246.4L88.2,244.7L84.2,242.2Z" fill="#4537d5" stroke="#2214b2"/><path d="M84.2,246.4L88.2,248.7L92.2,247.1L88.2,244.7Z" fill="#4536d3" stroke="#2213b1"/><path d="M88.2,248.7L92.2,251.1L96.3,249.5L92.2,247.1Z" fill="#4435d1" stroke="#2313af"/><path d="M92.2,251.1L96.3,253.4L100.3,251.8L96.3,249.5Z" fill="#4434ce" stroke="#2312ad"/><path d="M96.3,253.4L100.3,255.7L104.3,254.2L100.3,251.8Z" fill="#4433cc" stroke="#2312ab"/><path d="M100.3,255.7L104.3,258L108.3,256.5L104.3,254.2Z" fill="#4332ca" stroke="#2311a9"/><path d="M104.3,258L108.4,260.2L112.4,258.8L108.3,256.5Z" fill="#4331c8" stroke="#2311a8"/><path d="M108.4,260.2L112.4,262.5L116.4,261L112.4,258.8Z" fill="#4331c6" stroke="#2311a6"/><path d="M112.4,262.5L116.4,264.7L120.4,263.3L116.4,261Z" fill="#4230c4" stroke="#2310a4"/><path d="M116.4,264.7L120.5,266.9L124.5,265.5L120.4,263.3Z" fill="#422fc2" stroke="#2310a3"/><path d="M120.5,266.9L124.5,269L128.5,267.7L124.5,265.5Z" fill="#422fc1" stroke="#2310a1"/><path d="M124.5,269L128.5,271.2L132.5,269.9L128.5,267.7Z" fill="#422ebf" stroke="#230fa0"/><path d="M128.5,271.2L132.5,273.3L136.5,272L132.5,269.9Z" fill="#412ebd" stroke="#230f9f"/><path d="M132.5,273.3L136.6,275.4L140.6,274.1L136.5,272Z" fill="#412dbc" stroke="#230f9e"/><path d="M136.6,275.4L140.6,277.5L144.6,276.2L140.6,274.1Z" fill="#412cbb" stroke="#230e9d"/><path d="M140.6,277.5L144.6,279.5L148.6,278.3L144.6,276.2Z" fill="#412cb9" stroke="#230e9c"/><path d="M144.6,279.5L148.7,281.6L152.7,280.3L148.6,278.3Z" fill="#412cb8" stroke="#230e9b"/><path d="M148.7,281.6L152.7,283.6L156.7,282.4L152.7,280.3Z" fill="#402bb7" stroke="#230e9a"/><path d="M152.7,283.6L156.7,285.6L160.7,284.4L156.7,282.4Z" fill="#402bb6" stroke="#230d99"/><path d="M156.7,285.6L160.7,287.6L164.8,286.4L160.7,284.4Z" fill="#402ab5" stroke="#230d98"/><path d="M160.7,287.6L164.8,289.5L168.8,288.3L164.8,286.4Z" fill="#402ab5" stroke="#230d98"/><path d="M164.8,289.5L168.8,291.4L172.8,290.2L168.8,288.3Z" fill="#402ab4" stroke="#230d97"/><path d="M168.8,291.4L172.8,293.3L176.8,292.1L172.8,290.2Z" fill="#402ab3" stroke="#230d96"/><path d="M172.8,293.3L176.9,295.2L180.9,294L176.8,292.1Z" fill="#4029b3" stroke="#230d96"/><path d="M176.9,295.2L180.9,297.1L184.9,295.9L180.9,294Z" fill="#3f29b2" stroke="#230d96"/><path d="M180.9,297.1L184.9,298.9L188.9,297.7L184.9,295.9Z" fill="#3f29b2" stroke="#230d95"/><path d="M184.9,298.9L189,300.8L193,299.5L188.9,297.7Z" fill="#3f29b2" stroke="#230d95"/><path d="M189,300.8L193,302.6L197,301.3L193,299.5Z" fill="#3f29b1" stroke="#230d95"/><path d="M193,302.6L197,304.3L201,303.1L197,301.3Z" fill="#3f29b1" stroke="#230d95"/><path d="M197,304.3L201,306.1L205,304.8L201,303.1Z" fill="#3f29b1" stroke="#230d95"/><path d="M201,306.1L205.1,307.8L209.1,306.5L205,304.8Z" fill="#3f29b2" stroke="#230d95"/><path d="M205.1,307.8L209.1,309.5L213.1,308.2L209.1,306.5Z" fill="#3f29b2" stroke="#230d95"/><path d="M209.1,309.5L213.1,311.2L217.1,309.8L213.1,308.2Z" fill="#3f29b2" stroke="#230d96"/><path d="M213.1,311.2L217.2,312.9L221.2,311.5L217.1,309.8Z" fill="#4029b2" stroke="#230d96"/><path d="M217.2,312.9L221.2,314.5L225.2,313.1L221.2,311.5Z" fill="#402ab3" stroke="#230d96"/><path d="M221.2,314.5L225.2,316.2L229.2,314.7L225.2,313.1Z" fill="#402ab4" stroke="#230d97"/><path d="M56,233.8L60,236.2L64,234.2L60,231.8Z" fill="#463bdc" stroke="#2216b8"/><path d="M60,236.2L64.1,238.6L68.1,236.7L64,234.2Z" fill="#4639da" stroke="#2216b6"/><path d="M64.1,238.6L68.1,241L72.1,239.2L68.1,236.7Z" fill="#4538d8" stroke="#2215b5"/><path d="M68.1,241L72.1,243.4L76.1,241.6L72.1,239.2Z" fill="#4537d6" stroke="#2214b3"/><path d="M72.1,243.4L76.2,245.7L80.2,244L76.1,241.6Z" fill="#4536d4" stroke="#2214b1"/><path d="M76.2,245.7L80.2,248.1L84.2,246.4L80.2,244Z" fill="#4435d1" stroke="#2313af"/><path d="M80.2,248.1L84.2,250.4L88.2,248.7L84.2,246.4Z" fill="#4434cf" stroke="#2313ae"/><path d="M84.2,250.4L88.2,252.7L92.2,251.1L88.2,248.7Z" fill="#4433cd" stroke="#2312ac"/><path d="M88.2,252.7L92.3,255L96.3,253.4L92.2,251.1Z" fill="#4432cb" stroke="#2312aa"/><path d="M92.3,255L96.3,257.2L100.3,255.7L96.3,253.4Z" fill="#4332c9" stroke="#2311a8"/><path d="M96.3,257.2L100.3,259.4L104.3,258L100.3,255.7Z" fill="#4331c7" stroke="#2311a7"/><path d="M100.3,259.4L104.4,261.7L108.4,260.2L104.3,258Z" fill="#4330c5" stroke="#2310a5"/><path d="M104.4,261.7L108.4,263.9L112.4,262.5L108.4,260.2Z" fill="#4230c3" stroke="#2310a4"/><path d="M108.4,263.9L112.4,266L116.4,264.7L112.4,262.5Z" fill="#422fc1" stroke="#2310a2"/><path d="M112.4,266L116.4,268.2L120.5,266.9L116.4,264.7Z" fill="#422ec0" stroke="#230fa1"/><path d="M116.4,268.2L120.5,270.3L124.5,269L120.5,266.9Z" fill="#412ebe" stroke="#230f9f"/><path d="M120.5,270.3L124.5,272.5L128.5,271.2L124.5,269Z" fill="#412dbc" stroke="#230f9e"/><path d="M124.5,272.5L128.5,274.6L132.5,273.3L128.5,271.2Z" fill="#412dbb" stroke="#230f9d"/><path d="M128.5,274.6L132.6,276.7L136.6,275.4L132.5,273.3Z" fill="#412cba" stroke="#230e9c"/><path d="M132.6,276.7L136.6,278.7L140.6,277.5L136.6,275.4Z" fill="#412cb8" stroke="#230e9b"/><path d="M136.6,278.7L140.6,280.8L144.6,279.5L140.6,277.5Z" fill="#402bb7" stroke="#230e9a"/><path d="M140.6,280.8L144.7,282.8L148.7,281.6L144.6,279.5Z" fill="#402bb6" stroke="#230d99"/><path d="M144.7,282.8L148.7,284.8L152.7,283.6L148.7,281.6Z" fill="#402ab5" stroke="#230d98"/><path d="M148.7,284.8L152.7,286.8L156.7,285.6L152.7,283.6Z" fill="#402ab4" stroke="#230d97"/><path d="M152.7,286.8L156.7,288.8L160.7,287.6L156.7,285.6Z" fill="#402ab3" stroke="#230d97"/><path d="M156.7,288.8L160.8,290.7L164.8,289.5L160.7,287.6Z" fill="#4029b3" stroke="#230d96"/><path d="M160.8,290.7L164.8,292.6L168.8,291.4L164.8,289.5Z" fill="#3f29b2" stroke="#230d95"/><path d="M164.8,292.6L168.8,294.5L172.8,293.3L168.8,291.4Z" fill="#3f29b1" stroke="#230c95"/><path d="M168.8,294.5L172.9,296.4L176.9,295.2L172.8,293.3Z" fill="#3f29b1" stroke="#230c94"/><path d="M172.9,296.4L176.9,298.3L180.9,297.1L176.9,295.2Z" fill="#3f29b0" stroke="#230c94"/><path d="M176.9,298.3L180.9,300.2L184.9,298.9L180.9,297.1Z" fill="#3f28b0" stroke="#230c94"/><path d="M180.9,300.2L184.9,302L189,300.8L184.9,298.9Z" fill="#3f28af" stroke="#230c93"/><path d="M184.9,302L189,303.8L193,302.6L189,300.8Z" fill="#3f28af" stroke="#230c93"/><path d="M189,303.8L193,305.6L197,304.3L193,302.6Z" fill="#3f28af" stroke="#230c93"/><path d="M193,305.6L197,307.4L201,306.1L197,304.3Z" fill="#3f28af" stroke="#230c93"/><path d="M197,307.4L201.1,309.1L205.1,307.8L201,306.1Z" fill="#3f28af" stroke="#230c93"/><path d="M201.1,309.1L205.1,310.9L209.1,309.5L205.1,307.8Z" fill="#3f28af" stroke="#230c93"/><path d="M205.1,310.9L209.1,312.6L213.1,311.2L209.1,309.5Z" fill="#3f28af" stroke="#230c93"/><path d="M209.1,312.6L213.2,314.3L217.2,312.9L213.1,311.2Z" fill="#3f28b0" stroke="#230c93"/><path d="M213.2,314.3L217.2,316L221.2,314.5L217.2,312.9Z" fill="#3f28b0" stroke="#230c94"/><path d="M217.2,316L221.2,317.6L225.2,316.2L221.2,314.5Z" fill="#3f29b0" stroke="#230c94"/><path d="M52,235.8L56,238.2L60,236.2L56,233.8Z" fill="#4538d8" stroke="#2215b5"/><path d="M56,238.2L60.1,240.5L64.1,238.6L60,236.2Z" fill="#4537d6" stroke="#2214b3"/><path d="M60.1,240.5L64.1,242.8L68.1,241L64.1,238.6Z" fill="#4536d4" stroke="#2214b2"/><path d="M64.1,242.8L68.1,245.1L72.1,243.4L68.1,241Z" fill="#4535d2" stroke="#2313b0"/><path d="M68.1,245.1L72.2,247.4L76.2,245.7L72.1,243.4Z" fill="#4434d0" stroke="#2313ae"/><path d="M72.2,247.4L76.2,249.7L80.2,248.1L76.2,245.7Z" fill="#4433ce" stroke="#2312ac"/><path d="M76.2,249.7L80.2,252L84.2,250.4L80.2,248.1Z" fill="#4433cc" stroke="#2312ab"/><path d="M80.2,252L84.2,254.2L88.2,252.7L84.2,250.4Z" fill="#4332ca" stroke="#2311a9"/><path d="M84.2,254.2L88.3,256.5L92.3,255L88.2,252.7Z" fill="#4331c8" stroke="#2311a7"/><path d="M88.3,256.5L92.3,258.7L96.3,257.2L92.3,255Z" fill="#4331c6" stroke="#2311a6"/><path d="M92.3,258.7L96.3,260.9L100.3,259.4L96.3,257.2Z" fill="#4230c4" stroke="#2310a4"/><path d="M96.3,260.9L100.4,263.1L104.4,261.7L100.3,259.4Z" fill="#422fc2" stroke="#2310a3"/><path d="M100.4,263.1L104.4,265.2L108.4,263.9L104.4,261.7Z" fill="#422fc0" stroke="#2310a1"/><path d="M104.4,265.2L108.4,267.4L112.4,266L108.4,263.9Z" fill="#422ebf" stroke="#230fa0"/><path d="M108.4,267.4L112.4,269.5L116.4,268.2L112.4,266Z" fill="#412dbd" stroke="#230f9f"/><path d="M112.4,269.5L116.5,271.6L120.5,270.3L116.4,268.2Z" fill="#412dbc" stroke="#230f9d"/><path d="M116.5,271.6L120.5,273.7L124.5,272.5L120.5,270.3Z" fill="#412cba" stroke="#230e9c"/><path d="M120.5,273.7L124.5,275.8L128.5,274.6L124.5,272.5Z" fill="#412cb9" stroke="#230e9b"/><path d="M124.5,275.8L128.6,277.9L132.6,276.7L128.5,274.6Z" fill="#402bb8" stroke="#230e9a"/><path d="M128.6,277.9L132.6,279.9L136.6,278.7L132.6,276.7Z" fill="#402bb6" stroke="#230e99"/><path d="M132.6,279.9L136.6,282L140.6,280.8L136.6,278.7Z" fill="#402ab5" stroke="#230d98"/><path d="M136.6,282L140.6,284L144.7,282.8L140.6,280.8Z" fill="#402ab4" stroke="#230d97"/><path d="M140.6,284L144.7,286L148.7,284.8L144.7,282.8Z" fill="#402ab3" stroke="#230d96"/><path d="M144.7,286L148.7,288L152.7,286.8L148.7,284.8Z" fill="#3f29b2" stroke="#230d96"/><path d="M148.7,288L152.7,289.9L156.7,288.8L152.7,286.8Z" fill="#3f29b1" stroke="#230d95"/><path d="M152.7,289.9L156.8,291.9L160.8,290.7L156.7,288.8Z" fill="#3f29b1" stroke="#230c94"/><path d="M156.8,291.9L160.8,293.8L164.8,292.6L160.8,290.7Z" fill="#3f28b0" stroke="#230c94"/><path d="M160.8,293.8L164.8,295.7L168.8,294.5L164.8,292.6Z" fill="#3f28af" stroke="#230c93"/><path d="M164.8,295.7L168.9,297.6L172.9,296.4L168.8,294.5Z" fill="#3f28af" stroke="#230c93"/><path d="M168.9,297.6L172.9,299.5L176.9,298.3L172.9,296.4Z" fill="#3f28ae" stroke="#230c92"/><path d="M172.9,299.5L176.9,301.4L180.9,300.2L176.9,298.3Z" fill="#3f28ae" stroke="#230c92"/><path d="M176.9,301.4L180.9,303.2L184.9,302L180.9,300.2Z" fill="#3f28ad" stroke="#230c91"/><path d="M180.9,303.2L185,305L189,303.8L184.9,302Z" fill="#3f27ad" stroke="#230c91"/><path d="M185,305L189,306.9L193,305.6L189,303.8Z" fill="#3f27ad" stroke="#230c91"/><path d="M189,306.9L193,308.7L197,307.4L193,305.6Z" fill="#3e27ac" stroke="#230c91"/><path d="M193,308.7L197.1,310.4L201.1,309.1L197,307.4Z" fill="#3e27ac" stroke="#230c91"/><path d="M197.1,310.4L201.1,312.2L205.1,310.9L201.1,309.1Z" fill="#3e27ac" stroke="#230c91"/><path d="M201.1,312.2L205.1,314L209.1,312.6L205.1,310.9Z" fill="#3e27ad" stroke="#230c91"/><path d="M205.1,314L209.1,315.7L213.2,314.3L209.1,312.6Z" fill="#3f27ad" stroke="#230c91"/><path d="M209.1,315.7L213.2,317.4L217.2,316L213.2,314.3Z" fill="#3f28ad" stroke="#230c91"/><path d="M213.2,317.4L217.2,319.1L221.2,317.6L217.2,316Z" fill="#3f28ad" stroke="#230c91"/><path d="M48,237.8L52,240.1L56,238.2L52,235.8Z" fill="#4536d4" stroke="#2214b2"/><path d="M52,240.1L56.1,242.3L60.1,240.5L56,238.2Z" fill="#4535d2" stroke="#2313b0"/><path d="M56.1,242.3L60.1,244.6L64.1,242.8L60.1,240.5Z" fill="#4434d0" stroke="#2313ae"/><path d="M60.1,244.6L64.1,246.9L68.1,245.1L64.1,242.8Z" fill="#4434ce" stroke="#2312ac"/><path d="M64.1,246.9L68.1,249.1L72.2,247.4L68.1,245.1Z" fill="#4433cc" stroke="#2312ab"/><path d="M68.1,249.1L72.2,251.4L76.2,249.7L72.2,247.4Z" fill="#4332ca" stroke="#2311a9"/><path d="M72.2,251.4L76.2,253.6L80.2,252L76.2,249.7Z" fill="#4331c8" stroke="#2311a8"/><path d="M76.2,253.6L80.2,255.8L84.2,254.2L80.2,252Z" fill="#4331c6" stroke="#2311a6"/><path d="M80.2,255.8L84.3,258L88.3,256.5L84.2,254.2Z" fill="#4230c4" stroke="#2310a4"/><path d="M84.3,258L88.3,260.1L92.3,258.7L88.3,256.5Z" fill="#422fc2" stroke="#2310a3"/><path d="M88.3,260.1L92.3,262.3L96.3,260.9L92.3,258.7Z" fill="#422fc1" stroke="#2310a2"/><path d="M92.3,262.3L96.4,264.5L100.4,263.1L96.3,260.9Z" fill="#422ebf" stroke="#230fa0"/><path d="M96.4,264.5L100.4,266.6L104.4,265.2L100.4,263.1Z" fill="#412ebe" stroke="#230f9f"/><path d="M100.4,266.6L104.4,268.7L108.4,267.4L104.4,265.2Z" fill="#412dbc" stroke="#230f9e"/><path d="M104.4,268.7L108.4,270.8L112.4,269.5L108.4,267.4Z" fill="#412cbb" stroke="#230e9d"/><path d="M108.4,270.8L112.5,272.9L116.5,271.6L112.4,269.5Z" fill="#412cb9" stroke="#230e9b"/><path d="M112.5,272.9L116.5,275L120.5,273.7L116.5,271.6Z" fill="#402bb8" stroke="#230e9a"/><path d="M116.5,275L120.5,277L124.5,275.8L120.5,273.7Z" fill="#402bb7" stroke="#230e99"/><path d="M120.5,277L124.6,279.1L128.6,277.9L124.5,275.8Z" fill="#402ab5" stroke="#230d98"/><path d="M124.6,279.1L128.6,281.1L132.6,279.9L128.6,277.9Z" fill="#402ab4" stroke="#230d97"/><path d="M128.6,281.1L132.6,283.1L136.6,282L132.6,279.9Z" fill="#402ab3" stroke="#230d96"/><path d="M132.6,283.1L136.6,285.1L140.6,284L136.6,282Z" fill="#3f29b2" stroke="#230d96"/><path d="M136.6,285.1L140.7,287.1L144.7,286L140.6,284Z" fill="#3f29b1" stroke="#230c95"/><path d="M140.7,287.1L144.7,289.1L148.7,288L144.7,286Z" fill="#3f29b0" stroke="#230c94"/><path d="M144.7,289.1L148.7,291.1L152.7,289.9L148.7,288Z" fill="#3f28af" stroke="#230c93"/><path d="M148.7,291.1L152.8,293L156.8,291.9L152.7,289.9Z" fill="#3f28af" stroke="#230c93"/><path d="M152.8,293L156.8,295L160.8,293.8L156.8,291.9Z" fill="#3f28ae" stroke="#230c92"/><path d="M156.8,295L160.8,296.9L164.8,295.7L160.8,293.8Z" fill="#3f28ad" stroke="#230c91"/><path d="M160.8,296.9L164.8,298.8L168.9,297.6L164.8,295.7Z" fill="#3e27ac" stroke="#230c91"/><path d="M164.8,298.8L168.9,300.7L172.9,299.5L168.9,297.6Z" fill="#3e27ac" stroke="#230c90"/><path d="M168.9,300.7L172.9,302.6L176.9,301.4L172.9,299.5Z" fill="#3e27ab" stroke="#230c90"/><path d="M172.9,302.6L176.9,304.4L180.9,303.2L176.9,301.4Z" fill="#3e27ab" stroke="#230c8f"/><path d="M176.9,304.4L181,306.3L185,305L180.9,303.2Z" fill="#3e27ab" stroke="#230b8f"/><path d="M181,306.3L185,308.1L189,306.9L185,305Z" fill="#3e27aa" stroke="#230b8f"/><path d="M185,308.1L189,309.9L193,308.7L189,306.9Z" fill="#3e27aa" stroke="#230b8f"/><path d="M189,309.9L193.1,311.7L197.1,310.4L193,308.7Z" fill="#3e27aa" stroke="#230b8f"/><path d="M193.1,311.7L197.1,313.5L201.1,312.2L197.1,310.4Z" fill="#3e27aa" stroke="#230b8e"/><path d="M197.1,313.5L201.1,315.3L205.1,314L201.1,312.2Z" fill="#3e27aa" stroke="#230b8e"/><path d="M201.1,315.3L205.1,317.1L209.1,315.7L205.1,314Z" fill="#3e27aa" stroke="#230b8e"/><path d="M205.1,317.1L209.2,318.8L213.2,317.4L209.1,315.7Z" fill="#3e27aa" stroke="#230b8f"/><path d="M209.2,318.8L213.2,320.5L217.2,319.1L213.2,317.4Z" fill="#3e27aa" stroke="#230b8f"/></g>
<g fill="#f80a12"><circle cx="289.5" cy="63.6" r="2"/><circle cx="237.7" cy="119.3" r="2"/><circle cx="185.5" cy="159.1" r="2"/><circle cx="133" cy="199.4" r="1.5"/><circle cx="81.2" cy="228.4" r="2.1"/><circle cx="364.8" cy="163" r="2"/><circle cx="402.4" cy="186.9" r="2"/><circle cx="313" cy="198.8" r="2"/><circle cx="350.6" cy="220.4" r="2"/><circle cx="260.3" cy="229.6" r="2"/><circle cx="298.5" cy="248.3" r="2"/><circle cx="208.7" cy="254.3" r="2"/><circle cx="246.4" cy="272.5" r="2"/><circle cx="156.3" cy="273.8" r="1.9"/><circle cx="194.4" cy="292.1" r="2"/><circle cx="231.9" cy="308.2" r="1.5"/></g>
<rect x="482.4" y="33.5" width="15.3" height="277.5" fill="url(#cb)" stroke="#555" stroke-opacity="0.6" stroke-width="0.5"/>
<g font-family="'Liberation Sans', Arial, sans-serif" font-size="13" fill="#111" stroke="#111" stroke-width="0.2"><text x="43.3" y="262.9" text-anchor="end">0</text><text x="43.3" y="238.2" text-anchor="end">10</text><text x="43.3" y="213.4" text-anchor="end">20</text><text x="43.3" y="188.7" text-anchor="end">30</text><text x="43.3" y="163.9" text-anchor="end">40</text><text x="43.3" y="139.2" text-anchor="end">50</text><text x="43.3" y="114.4" text-anchor="end">60</text><text x="43.3" y="89.7" text-anchor="end">70</text><text x="43.3" y="64.9" text-anchor="end">80</text><text transform="translate(19.9,164.3) rotate(-90)" text-anchor="middle">Dissipated energy (kJ)</text><text x="246.7" y="339.2" text-anchor="middle">400</text><text x="298.8" y="331.1" text-anchor="middle">600</text><text x="351.0" y="323.1" text-anchor="middle">800</text><text x="403.1" y="314.9" text-anchor="middle">1000</text><text x="455.3" y="306.9" text-anchor="middle">1200</text><text x="329.5" y="347.8">Coal seam depth (m)</text><text x="47.8" y="274.8" text-anchor="middle">0.5</text><text x="84.3" y="291.2" text-anchor="middle">1.0</text><text x="120.9" y="307.8" text-anchor="middle">1.5</text><text x="157.4" y="324.2" text-anchor="middle">2.0</text><text x="194.0" y="340.8" text-anchor="middle">2.5</text><text transform="translate(98.6,320.2) rotate(29)" text-anchor="middle">Spacing of pressure</text><text transform="translate(89.7,332.9) rotate(29)" text-anchor="middle">relief holes (m)</text><text x="507.3" y="14.5" text-anchor="middle">Dissipated</text><text x="507.6" y="29" text-anchor="middle">energy (kJ)</text><text x="502" y="44.9">75.1</text><text x="502" y="63.6">70.0</text><text x="502" y="101.7">60.0</text><text x="502" y="138.7">50.0</text><text x="502" y="176.2">40.0</text><text x="502" y="213.7">30.0</text><text x="502" y="251.0">20.0</text><text x="502" y="287.8">10.0</text><text x="507.5" y="311.4">3.7</text><text x="412.9" y="25.4"><tspan font-style="italic">f</tspan> (<tspan font-style="italic">x</tspan>,<tspan font-style="italic">y</tspan>)</text><text x="457.3" y="40.5" font-style="italic">y</text><text x="449.3" y="74.5" font-style="italic">x</text></g>
<g fill="none" stroke="#000" stroke-width="1.15" stroke-linecap="round" stroke-linejoin="round"><path d="M427.4,29.5L427.4,53.2L460.3,47.3M427.4,53.2L460.3,66.9"/><path d="M424.4,33.5L427.4,29.2L430.4,33.5"/><path d="M455.6,45.0L460.5,47.3L456.6,51.0"/><path d="M458.0,62.0L460.5,66.9L455.2,68.0"/></g>
<g font-family="'Liberation Serif', 'Times New Roman', serif" font-size="11.6" fill="#1c1c1c" stroke="#1c1c1c" stroke-width="0.3"><text x="4.6" y="382.1" font-size="12.5" font-style="italic">f</text><text x="10.0" y="382.1" textLength="12.0" lengthAdjust="spacingAndGlyphs">(<tspan font-style="italic">x</tspan>,</text><text x="23.8" y="382.1" textLength="10.1" lengthAdjust="spacingAndGlyphs"><tspan font-style="italic">y</tspan>)</text><text x="40.1" y="382.1" textLength="9.3" lengthAdjust="spacingAndGlyphs">=</text><text x="54.5" y="382.1" textLength="29.1" lengthAdjust="spacingAndGlyphs">16.27</text><text x="87.7" y="382.1" textLength="7.0" lengthAdjust="spacingAndGlyphs">−</text><text x="98.0" y="382.1" textLength="35.8" lengthAdjust="spacingAndGlyphs">5.128<tspan font-style="italic">x</tspan></text><text x="137.1" y="382.1" textLength="6.7" lengthAdjust="spacingAndGlyphs">+</text><text x="147.5" y="382.1" textLength="35.8" lengthAdjust="spacingAndGlyphs">10.32<tspan font-style="italic">y</tspan></text><text x="186.5" y="382.1" textLength="7.0" lengthAdjust="spacingAndGlyphs">+</text><text x="197.2" y="382.1" textLength="42.2" lengthAdjust="spacingAndGlyphs">3.485<tspan font-style="italic">x</tspan><tspan font-size="7.8" dy="-4.4">2</tspan></text><text x="243.3" y="382.1" textLength="7.0" lengthAdjust="spacingAndGlyphs">−</text><text x="254.7" y="382.1" textLength="42.8" lengthAdjust="spacingAndGlyphs">3.047<tspan font-style="italic">xy</tspan></text><text x="300.8" y="382.1" textLength="6.6" lengthAdjust="spacingAndGlyphs">+</text><text x="310.6" y="382.1" textLength="42.2" lengthAdjust="spacingAndGlyphs">2.331<tspan font-style="italic">y</tspan><tspan font-size="7.8" dy="-4.4">2</tspan></text><text x="356.0" y="382.1" textLength="6.6" lengthAdjust="spacingAndGlyphs">+</text><text x="366.7" y="382.1" textLength="50.9" lengthAdjust="spacingAndGlyphs">1.713<tspan font-style="italic">x</tspan><tspan font-size="7.8" dy="-4.4">2</tspan><tspan font-style="italic" dy="4.4">y</tspan></text><text x="420.9" y="382.1" textLength="6.7" lengthAdjust="spacingAndGlyphs">−</text><text x="431.6" y="382.1" textLength="53.5" lengthAdjust="spacingAndGlyphs">0.5135<tspan font-style="italic">xy</tspan><tspan font-size="7.8" dy="-4.4">2</tspan></text><text x="488.4" y="382.1" textLength="6.7" lengthAdjust="spacingAndGlyphs">+</text><text x="498.5" y="382.1" textLength="44.8" lengthAdjust="spacingAndGlyphs">0.1489<tspan font-style="italic">y</tspan><tspan font-size="7.8" dy="-4.4">3</tspan></text><text x="246.4" y="398.8" textLength="11.8" lengthAdjust="spacingAndGlyphs"><tspan font-style="italic">R</tspan><tspan font-size="7.8" dy="-4.4">2</tspan></text><text x="262.3" y="398.8" textLength="8.9" lengthAdjust="spacingAndGlyphs">=</text><text x="275.6" y="398.8" textLength="28.0" lengthAdjust="spacingAndGlyphs">0.989</text></g>
</svg>
</body></html>
